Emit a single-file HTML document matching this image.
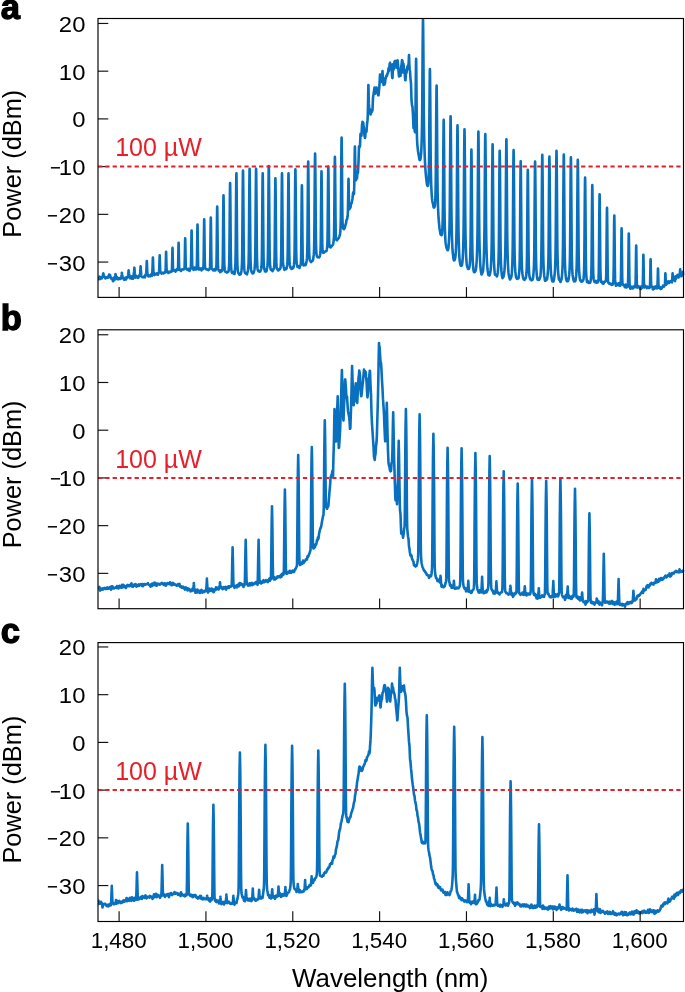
<!DOCTYPE html>
<html><head><meta charset="utf-8"><title>Spectra</title>
<style>
html,body{margin:0;padding:0;background:#fff;}
body{width:685px;height:992px;overflow:hidden;}
svg{display:block;font-family:'Liberation Sans', Arial, sans-serif;fill:#000;}
</style></head><body>
<svg width="685" height="992" viewBox="0 0 685 992"><defs><clipPath id="cp0"><rect x="98.0" y="17.0" width="586.5" height="280.4"/></clipPath><clipPath id="cp1"><rect x="98.0" y="328.3" width="586.5" height="280.4"/></clipPath><clipPath id="cp2"><rect x="98.0" y="641.1" width="586.5" height="280.4"/></clipPath></defs><path d="M98,278.7L98.25,278.9L98.5,279.2L98.75,278.9L99,278.6L99.25,277.6L99.5,276.7L99.75,277.9L100,279.1L100.25,278.8L100.5,278.5L100.75,277.9L101,277.3L101.25,277.9L101.5,278.4L101.6,278.4L101.75,278.2L102,277.9L102.25,277.4L102.3,277.3L102.5,276.9L102.7,276.2L102.75,276.1L102.85,275.7L103,275.1L103.1,274.6L103.15,274.3L103.2,273.9L103.24,273.6L103.25,273.5L103.27,273.4L103.3,273.4L103.33,273.5L103.36,273.7L103.4,274.0L103.45,274.5L103.5,274.9L103.6,275.3L103.75,275.4L103.9,275.4L104,275.4L104.1,275.8L104.25,276.3L104.3,276.4L104.5,277.0L104.6,277.1L104.75,277.1L105,277.1L105.25,277.8L105.5,278.4L105.75,278.2L106,277.9L106.25,277.8L106.5,277.7L106.75,277.4L107,277.2L107.25,277.5L107.4,277.7L107.5,277.8L107.75,277.8L107.8,277.7L108,277.6L108.1,277.4L108.25,277.0L108.3,276.9L108.5,276.2L108.65,276.3L108.75,276.2L108.8,276.1L108.9,275.8L108.95,275.5L109,275.1L109.04,274.8L109.07,274.6L109.1,274.5L109.13,274.6L109.16,274.7L109.2,275.1L109.25,275.5L109.3,276.0L109.4,276.6L109.5,277.0L109.55,276.8L109.7,276.2L109.75,276.0L109.9,275.3L110,274.9L110.1,275.2L110.25,275.7L110.4,276.2L110.5,276.5L110.75,277.5L110.8,277.7L111,278.5L111.25,278.5L111.5,278.4L111.75,278.8L112,279.1L112.25,279.2L112.5,279.2L112.75,280.2L113,281.2L113.25,279.5L113.5,277.9L113.75,278.2L113.8,278.3L114,278.5L114.2,279.2L114.25,279.4L114.5,280.1L114.7,279.0L114.75,278.7L114.9,277.8L115,277.2L115.05,277.0L115.2,276.4L115.25,276.1L115.3,275.7L115.35,275.2L115.4,274.7L115.44,274.3L115.47,274.1L115.5,274.0L115.53,274.0L115.56,274.2L115.6,274.5L115.65,274.9L115.7,275.3L115.75,275.6L115.8,275.8L115.95,276.1L116,276.2L116.1,276.3L116.25,276.5L116.3,276.5L116.5,276.6L116.75,277.9L116.8,278.1L117,279.1L117.2,279.2L117.25,279.2L117.5,279.2L117.75,278.6L118,277.9L118.25,278.2L118.5,278.5L118.75,278.8L119,279.1L119.25,278.7L119.5,278.2L119.75,278.6L120,279.0L120.2,279.0L120.25,279.0L120.5,278.9L120.6,278.8L120.75,278.5L120.9,278.1L121,277.8L121.1,277.4L121.25,276.7L121.3,276.5L121.45,275.7L121.5,275.4L121.6,275.0L121.7,274.4L121.75,273.9L121.8,273.4L121.84,273.0L121.87,272.8L121.9,272.8L121.93,272.9L121.96,273.2L122,273.7L122.05,274.3L122.1,274.9L122.2,275.8L122.25,276.1L122.35,276.6L122.5,277.3L122.7,277.9L122.75,278.0L122.9,278.3L123,278.4L123.2,278.4L123.25,278.3L123.5,278.0L123.6,278.3L123.75,278.8L124,279.6L124.25,279.0L124.5,278.3L124.75,279.0L125,279.6L125.25,278.6L125.5,277.7L125.75,278.6L126,279.5L126.25,279.0L126.5,278.5L126.75,277.9L126.9,277.5L127,277.2L127.25,277.4L127.3,277.5L127.5,277.4L127.6,277.2L127.75,276.7L127.8,276.5L128,275.7L128.15,274.8L128.25,274.2L128.3,273.8L128.4,272.8L128.45,272.2L128.5,271.5L128.54,270.9L128.57,270.5L128.6,270.4L128.63,270.4L128.66,270.7L128.7,271.1L128.75,271.7L128.8,272.3L128.9,273.1L129,273.6L129.05,273.9L129.2,274.6L129.25,274.9L129.4,275.5L129.5,275.8L129.6,276.4L129.75,277.1L129.9,277.7L130,278.1L130.25,277.9L130.3,277.8L130.5,277.6L130.75,277.9L131,278.2L131.25,278.4L131.5,278.6L131.75,277.5L132,276.3L132.25,277.2L132.5,278.0L132.7,278.3L132.75,278.4L133,278.7L133.1,278.3L133.25,277.6L133.4,276.8L133.5,276.1L133.6,275.5L133.75,274.4L133.8,274.0L133.95,272.7L134,272.2L134.1,271.4L134.2,270.2L134.25,269.5L134.3,268.6L134.34,268.0L134.37,267.8L134.4,267.7L134.43,267.9L134.46,268.2L134.5,269.0L134.55,269.9L134.6,270.7L134.7,272.1L134.75,272.6L134.85,273.5L135,274.6L135.2,276.1L135.25,276.4L135.4,277.3L135.5,277.7L135.7,277.6L135.75,277.5L136,277.1L136.1,276.9L136.25,276.6L136.5,276.1L136.75,276.6L137,277.2L137.25,277.0L137.5,276.9L137.75,277.4L138,277.9L138.25,277.6L138.5,277.3L138.75,276.5L138.9,276.0L139,275.7L139.25,275.8L139.3,275.8L139.5,275.8L139.6,275.9L139.75,275.9L139.8,275.8L140,275.0L140.15,273.4L140.25,272.1L140.3,271.5L140.4,269.8L140.45,268.8L140.5,267.7L140.54,267.0L140.57,266.6L140.6,266.4L140.63,266.5L140.66,266.8L140.7,267.4L140.75,268.4L140.8,269.3L140.9,270.7L141,271.8L141.05,272.4L141.2,273.9L141.25,274.4L141.4,275.5L141.5,276.0L141.6,276.4L141.75,276.8L141.9,277.0L142,277.1L142.25,277.1L142.3,277.1L142.5,277.1L142.75,277.3L143,277.4L143.25,277.1L143.5,276.9L143.75,276.7L144,276.5L144.25,276.4L144.5,276.3L144.75,276.8L145,277.3L145.1,276.7L145.25,275.9L145.5,274.6L145.75,275.2L145.8,275.3L146,275.2L146.2,273.4L146.25,272.7L146.35,271.2L146.5,268.2L146.6,265.7L146.65,264.2L146.7,262.8L146.74,261.8L146.75,261.6L146.77,261.3L146.8,261.1L146.83,261.2L146.86,261.6L146.9,262.5L146.95,263.8L147,265.1L147.1,267.6L147.25,270.7L147.4,273.2L147.5,274.5L147.6,275.0L147.75,275.4L147.8,275.4L148,275.3L148.1,275.5L148.25,275.8L148.5,276.4L148.75,276.0L149,275.5L149.25,275.8L149.5,276.0L149.75,276.2L150,276.3L150.25,275.9L150.5,275.6L150.75,275.1L151,274.6L151.2,274.3L151.25,274.3L151.5,274.0L151.6,274.4L151.75,275.0L151.9,275.6L152,275.8L152.1,275.1L152.25,273.5L152.3,272.7L152.45,269.7L152.5,268.4L152.6,265.8L152.7,262.7L152.75,261.1L152.8,259.4L152.84,258.3L152.87,257.8L152.9,257.6L152.93,257.8L152.96,258.3L153,259.3L153.05,260.9L153.1,262.6L153.2,265.7L153.25,267.0L153.35,269.4L153.5,272.2L153.7,273.9L153.75,274.0L153.9,274.3L154,274.3L154.2,274.6L154.25,274.7L154.5,275.0L154.6,274.9L154.75,274.7L155,274.4L155.25,274.3L155.5,274.3L155.75,274.0L156,273.7L156.25,274.0L156.5,274.3L156.75,273.8L157,273.3L157.25,273.8L157.5,274.3L157.75,274.5L158,274.7L158.25,273.7L158.4,273.1L158.5,272.7L158.7,272.4L158.75,272.3L158.9,271.8L159,271.1L159.1,270.5L159.25,268.3L159.4,264.3L159.5,260.9L159.55,259.0L159.6,257.2L159.64,256.0L159.67,255.5L159.7,255.3L159.73,255.5L159.75,255.9L159.76,256.1L159.8,257.4L159.85,259.3L159.9,261.4L160,265.2L160.15,269.3L160.25,271.0L160.3,271.6L160.5,272.3L160.7,272.6L160.75,272.6L161,272.5L161.25,273.1L161.4,273.4L161.5,273.6L161.75,273.1L162,272.7L162.25,272.7L162.5,272.8L162.75,272.8L163,272.8L163.25,273.0L163.5,273.3L163.75,272.9L164,272.6L164.25,272.8L164.4,272.9L164.5,272.9L164.75,272.7L164.8,272.7L165,272.5L165.1,272.4L165.25,272.1L165.3,271.9L165.5,270.6L165.65,267.9L165.75,264.7L165.8,262.8L165.9,258.5L165.95,256.2L166,254.1L166.04,252.7L166.07,252.0L166.1,251.8L166.13,252.0L166.16,252.6L166.2,254.0L166.25,256.1L166.3,258.3L166.4,262.6L166.5,266.2L166.55,267.7L166.7,270.6L166.75,271.1L166.9,271.9L167,272.2L167.1,272.1L167.25,271.9L167.4,271.7L167.5,271.6L167.75,271.6L167.8,271.6L168,271.6L168.25,272.3L168.5,273.0L168.75,272.5L169,272.0L169.25,272.0L169.5,271.9L169.75,272.0L170,272.1L170.25,271.8L170.5,271.5L170.75,271.4L170.8,271.4L171,271.4L171.2,271.5L171.25,271.5L171.5,271.6L171.7,271.2L171.75,271.0L171.9,269.7L172,267.7L172.05,266.2L172.2,260.1L172.25,257.7L172.3,255.1L172.35,252.6L172.4,250.2L172.44,248.8L172.47,248.1L172.5,247.8L172.53,248.1L172.56,248.8L172.6,250.2L172.65,252.6L172.7,255.1L172.75,257.7L172.8,260.1L172.95,266.3L173,267.8L173.1,269.6L173.25,270.5L173.3,270.6L173.5,270.5L173.75,270.4L173.8,270.4L174,270.3L174.2,270.3L174.25,270.3L174.5,270.3L174.75,270.4L175,270.5L175.25,271.1L175.5,271.6L175.75,270.7L176,269.8L176.25,270.1L176.5,270.5L176.75,269.7L176.9,269.3L177,269.0L177.25,269.5L177.3,269.6L177.5,270.0L177.6,270.0L177.75,269.9L177.8,269.8L178,268.1L178.15,263.7L178.25,259.1L178.3,256.4L178.4,250.7L178.45,247.9L178.5,245.3L178.54,243.7L178.57,243.0L178.6,242.7L178.63,243.0L178.66,243.7L178.7,245.3L178.75,247.8L178.8,250.6L178.9,256.1L179,261.0L179.05,263.1L179.2,267.3L179.25,268.1L179.4,269.3L179.5,269.7L179.6,269.8L179.75,270.0L179.9,270.1L180,270.2L180.25,270.2L180.3,270.2L180.5,270.2L180.75,270.6L181,270.9L181.25,270.4L181.5,269.8L181.75,269.6L182,269.3L182.25,269.4L182.5,269.5L182.75,269.5L183,269.5L183.25,269.5L183.5,269.5L183.75,269.4L183.9,269.3L184,269.3L184.2,269.1L184.25,269.1L184.4,268.7L184.5,268.0L184.6,266.2L184.75,261.0L184.9,252.8L185,246.6L185.05,243.7L185.1,241.0L185.14,239.3L185.17,238.6L185.2,238.3L185.23,238.6L185.25,239.1L185.26,239.4L185.3,241.1L185.35,243.9L185.4,247.0L185.5,253.4L185.65,261.4L185.75,265.0L185.8,266.2L186,268.2L186.2,268.5L186.25,268.5L186.5,268.5L186.75,269.1L186.9,269.4L187,269.6L187.25,269.8L187.5,270.0L187.75,269.8L188,269.5L188.25,269.4L188.5,269.3L188.75,269.0L189,268.7L189.25,269.8L189.5,270.9L189.75,270.3L189.9,269.9L190,269.6L190.25,268.9L190.3,268.8L190.5,268.1L190.6,268.0L190.75,267.6L190.8,267.4L191,264.1L191.15,257.4L191.25,250.8L191.3,247.3L191.4,240.1L191.45,236.6L191.5,233.6L191.54,231.7L191.57,230.8L191.6,230.5L191.63,230.8L191.66,231.7L191.7,233.5L191.75,236.5L191.8,239.9L191.9,247.0L192,253.9L192.05,257.1L192.2,264.0L192.25,265.5L192.4,267.8L192.5,268.5L192.6,268.6L192.75,268.7L192.9,268.7L193,268.7L193.25,269.3L193.3,269.4L193.5,269.8L193.75,269.7L194,269.7L194.25,268.6L194.5,267.5L194.75,268.3L195,269.1L195.25,268.6L195.5,268.0L195.75,268.8L195.8,269.0L196,269.5L196.2,269.2L196.25,269.1L196.5,268.4L196.7,267.5L196.75,266.9L196.9,263.0L197,257.8L197.05,254.4L197.2,242.5L197.25,238.5L197.3,234.6L197.35,230.9L197.4,227.7L197.44,225.7L197.47,224.8L197.5,224.5L197.53,224.8L197.56,225.8L197.6,227.7L197.65,231.0L197.7,234.7L197.75,238.6L197.8,242.7L197.95,254.7L198,258.2L198.1,263.6L198.25,267.7L198.3,268.3L198.5,269.5L198.75,269.0L198.8,268.9L199,268.3L199.2,268.7L199.25,268.8L199.5,269.3L199.75,269.0L200,268.7L200.25,269.0L200.5,269.2L200.75,268.8L201,268.5L201.25,269.4L201.5,270.4L201.75,269.5L202,268.7L202.25,268.8L202.5,269.0L202.75,269.1L202.9,269.1L203,269.1L203.2,268.4L203.25,268.1L203.4,266.8L203.5,264.8L203.6,261.1L203.75,251.1L203.9,238.2L204,229.8L204.05,226.0L204.1,222.6L204.14,220.6L204.17,219.6L204.2,219.3L204.23,219.6L204.25,220.2L204.26,220.6L204.3,222.6L204.35,226.0L204.4,229.8L204.5,238.2L204.65,251.1L204.75,258.4L204.8,261.3L205,267.1L205.2,268.2L205.25,268.3L205.5,268.4L205.75,268.8L205.9,269.0L206,269.2L206.25,269.3L206.5,269.4L206.75,269.4L207,269.4L207.25,269.6L207.5,269.7L207.75,269.6L208,269.5L208.25,269.8L208.5,270.1L208.75,269.8L209,269.4L209.1,269.4L209.25,269.4L209.5,269.2L209.75,268.6L209.8,268.5L210,266.9L210.2,260.8L210.25,257.8L210.35,250.1L210.5,236.8L210.6,228.2L210.65,224.3L210.7,220.9L210.74,218.9L210.75,218.5L210.77,217.9L210.8,217.6L210.83,217.9L210.86,218.9L210.9,220.9L210.95,224.3L211,228.2L211.1,236.7L211.25,250.2L211.4,261.1L211.5,265.5L211.6,267.4L211.75,268.5L211.8,268.6L212,268.7L212.1,268.9L212.25,269.1L212.5,269.4L212.75,269.8L213,270.2L213.25,270.3L213.5,270.4L213.75,270.2L214,270.0L214.25,269.5L214.5,269.1L214.75,269.8L215,270.5L215.25,270.4L215.5,270.3L215.75,269.6L215.9,269.1L216,268.6L216.2,268.3L216.25,268.1L216.4,266.2L216.5,263.0L216.6,256.7L216.75,242.5L216.9,227.0L217,217.8L217.05,213.6L217.1,210.1L217.14,207.9L217.17,206.9L217.2,206.6L217.23,206.9L217.25,207.5L217.26,207.9L217.3,210.1L217.35,213.6L217.4,217.8L217.5,227.0L217.65,242.4L217.75,252.3L217.8,256.5L218,266.3L218.2,268.9L218.25,269.2L218.5,270.0L218.75,270.5L218.9,270.8L219,270.9L219.25,270.5L219.5,270.1L219.75,271.2L220,272.3L220.25,271.6L220.5,270.9L220.75,270.7L221,270.4L221.25,271.0L221.5,271.5L221.75,271.0L221.8,270.9L222,270.4L222.2,269.9L222.25,269.8L222.5,268.2L222.7,263.9L222.75,261.7L222.9,250.2L223,239.2L223.05,233.3L223.2,216.5L223.25,211.5L223.3,206.8L223.35,202.5L223.4,198.9L223.44,196.7L223.47,195.7L223.5,195.3L223.53,195.7L223.56,196.7L223.6,198.9L223.65,202.5L223.7,206.8L223.75,211.5L223.8,216.5L223.95,233.4L224,239.3L224.1,250.3L224.25,261.7L224.3,263.9L224.5,268.0L224.75,270.2L224.8,270.5L225,271.4L225.2,271.6L225.25,271.6L225.5,271.5L225.75,271.6L226,271.6L226.25,272.0L226.5,272.3L226.75,272.5L227,272.6L227.25,272.4L227.5,272.2L227.75,271.9L228,271.5L228.25,271.6L228.4,271.6L228.5,271.4L228.75,269.7L228.8,269.3L229,267.0L229.1,265.6L229.25,261.6L229.3,259.2L229.5,241.5L229.65,222.4L229.75,210.2L229.8,204.7L229.9,194.7L229.95,190.3L230,186.6L230.04,184.4L230.07,183.4L230.1,183.0L230.13,183.4L230.16,184.4L230.2,186.6L230.25,190.3L230.3,194.7L230.4,204.6L230.5,216.1L230.55,222.4L230.7,241.6L230.75,247.3L230.9,259.7L231,264.1L231.1,266.6L231.25,268.8L231.4,270.1L231.5,270.7L231.75,272.1L231.8,272.3L232,273.0L232.25,272.8L232.5,272.6L232.75,272.8L233,273.0L233.25,273.3L233.5,273.5L233.75,272.7L234,271.7L234.25,273.0L234.5,274.0L234.7,272.4L234.75,272.0L235,269.5L235.1,268.6L235.25,266.7L235.4,263.6L235.5,260.3L235.6,254.9L235.75,240.3L235.8,233.9L235.95,213.5L236,207.0L236.1,195.3L236.2,185.2L236.25,180.8L236.3,177.0L236.34,174.8L236.37,173.8L236.4,173.4L236.43,173.8L236.46,174.8L236.5,177.0L236.55,180.8L236.6,185.2L236.7,195.3L236.75,200.9L236.85,213.4L237,233.7L237.2,254.9L237.25,258.1L237.4,264.2L237.5,266.6L237.7,269.6L237.75,270.1L238,272.1L238.1,272.5L238.25,272.8L238.5,273.2L238.75,273.6L239,274.0L239.25,274.4L239.5,274.7L239.75,274.3L240,273.9L240.25,274.2L240.5,274.3L240.75,273.8L241,273.2L241.25,272.1L241.3,271.8L241.5,270.4L241.7,268.3L241.75,267.6L242,262.5L242.2,253.1L242.25,248.9L242.4,231.3L242.5,217.5L242.55,210.7L242.7,192.4L242.75,187.1L242.8,182.3L242.85,177.9L242.9,174.1L242.94,171.9L242.97,170.9L243,170.5L243.03,170.9L243.06,171.9L243.1,174.1L243.15,177.9L243.2,182.3L243.25,187.1L243.3,192.4L243.45,210.7L243.5,217.5L243.6,231.4L243.75,249.1L243.8,253.3L244,262.9L244.25,268.0L244.3,268.7L244.5,270.7L244.7,271.8L244.75,272.0L245,272.7L245.25,273.2L245.5,273.5L245.75,273.4L246,273.2L246.25,273.6L246.5,274.0L246.75,274.2L247,274.3L247.25,273.3L247.5,272.3L247.75,271.4L247.9,270.7L248,270.1L248.25,268.0L248.3,267.5L248.5,264.3L248.6,261.7L248.75,255.2L248.8,251.8L249,229.7L249.15,209.0L249.25,196.4L249.3,190.7L249.4,180.6L249.45,176.2L249.5,172.4L249.54,170.2L249.57,169.2L249.6,168.8L249.63,169.2L249.66,170.2L249.7,172.4L249.75,176.2L249.8,180.6L249.9,190.7L250,202.5L250.05,209.0L250.2,229.7L250.25,236.3L250.4,251.8L250.5,257.8L250.6,261.6L250.75,265.3L250.9,267.8L251,269.1L251.25,270.7L251.3,270.9L251.5,271.4L251.75,272.1L252,272.6L252.25,273.0L252.5,273.3L252.75,272.9L253,272.5L253.25,272.9L253.5,273.2L253.75,272.3L254,271.2L254.25,270.5L254.4,269.8L254.5,269.2L254.75,267.3L254.8,266.7L255,263.6L255.1,261.2L255.25,254.9L255.3,251.5L255.5,229.7L255.5,229.7L255.65,209.0L255.75,196.4L255.8,190.7L255.9,180.6L255.95,176.2L256,172.4L256.04,170.2L256.07,169.2L256.1,168.8L256.13,169.2L256.16,170.2L256.2,172.4L256.25,176.2L256.3,180.6L256.4,190.7L256.5,202.5L256.55,209.0L256.7,229.6L256.75,236.1L256.9,251.2L257,257.0L257.1,260.7L257.25,264.4L257.4,267.0L257.5,268.4L257.75,269.9L257.8,270.0L258,270.5L258.25,271.0L258.5,271.2L258.75,271.3L259,271.4L259.25,271.6L259.5,271.7L259.75,271.7L260,271.7L260.25,271.2L260.5,270.7L260.75,270.3L261,269.6L261.25,268.4L261.4,267.3L261.5,266.2L261.7,262.6L261.75,261.2L261.9,254.0L262,245.4L262.1,233.5L262.25,213.4L262.4,195.2L262.5,185.2L262.55,180.8L262.6,177.0L262.64,174.8L262.67,173.8L262.7,173.4L262.73,173.8L262.75,174.4L262.76,174.8L262.8,177.0L262.85,180.8L262.9,185.2L263,195.2L263.15,213.4L263.25,226.9L263.3,233.6L263.5,254.1L263.7,262.7L263.75,263.8L264,267.5L264.25,268.9L264.4,269.3L264.5,269.4L264.75,270.5L265,271.4L265.25,271.4L265.5,271.3L265.75,271.4L266,271.4L266.25,271.5L266.5,271.4L266.75,269.8L267,268.0L267.1,267.8L267.25,267.2L267.5,265.4L267.75,260.6L267.8,259.1L268,249.1L268.2,227.1L268.25,220.2L268.35,206.4L268.5,188.0L268.6,177.9L268.65,173.5L268.7,169.7L268.74,167.5L268.75,167.1L268.77,166.5L268.8,166.1L268.83,166.5L268.86,167.5L268.9,169.7L268.95,173.5L269,177.9L269.1,188.0L269.25,206.3L269.4,227.0L269.5,239.7L269.6,249.2L269.75,257.4L269.8,259.1L270,263.6L270.1,265.1L270.25,266.8L270.5,268.6L270.75,269.4L271,269.9L271.25,270.0L271.5,270.0L271.75,270.2L272,270.3L272.25,270.7L272.5,271.1L272.75,270.7L273,270.3L273.25,269.6L273.5,268.7L273.7,268.8L273.75,268.8L274,268.3L274.1,267.5L274.25,266.0L274.4,263.6L274.5,260.8L274.6,256.3L274.75,243.3L274.8,237.4L274.95,217.8L275,211.5L275.1,199.9L275.2,189.9L275.25,185.5L275.3,181.8L275.34,179.6L275.37,178.6L275.4,178.2L275.43,178.6L275.46,179.6L275.5,181.8L275.55,185.5L275.6,189.9L275.7,199.9L275.75,205.5L275.85,217.8L276,237.4L276.2,256.1L276.25,258.6L276.4,262.9L276.5,264.4L276.7,266.7L276.75,267.1L277,268.8L277.1,269.0L277.25,269.2L277.5,269.3L277.75,269.8L278,270.3L278.25,270.4L278.5,270.5L278.75,270.0L279,269.4L279.25,269.5L279.5,269.5L279.75,269.3L280,268.9L280.25,268.6L280.3,268.4L280.5,267.7L280.7,266.1L280.75,265.6L281,261.5L281.2,253.2L281.25,249.4L281.4,233.1L281.5,219.8L281.55,213.2L281.7,195.2L281.75,190.0L281.8,185.1L281.85,180.8L281.9,177.0L281.94,174.8L281.97,173.8L282,173.4L282.03,173.8L282.06,174.8L282.1,177.0L282.15,180.8L282.2,185.1L282.25,190.0L282.3,195.2L282.45,213.3L282.5,219.9L282.6,233.3L282.75,249.7L282.8,253.5L283,261.9L283.25,265.1L283.3,265.4L283.5,266.0L283.7,267.1L283.75,267.3L284,268.2L284.25,269.0L284.5,269.8L284.75,269.1L285,268.4L285.25,268.4L285.5,268.4L285.75,268.8L286,269.1L286.25,269.0L286.5,268.8L286.75,267.6L286.8,267.4L287,266.1L287.2,265.0L287.25,264.6L287.5,261.0L287.7,253.0L287.75,249.3L287.9,233.1L288,219.8L288.05,213.2L288.2,195.2L288.25,190.0L288.3,185.1L288.35,180.8L288.4,177.0L288.44,174.8L288.47,173.8L288.5,173.4L288.53,173.8L288.56,174.8L288.6,177.0L288.65,180.8L288.7,185.1L288.75,190.0L288.8,195.2L288.95,213.2L289,219.8L289.1,233.1L289.25,249.2L289.3,252.9L289.5,261.0L289.75,264.3L289.8,264.7L290,265.7L290.2,266.7L290.25,266.8L290.5,267.6L290.75,268.0L291,268.2L291.25,268.6L291.5,269.0L291.75,268.9L292,268.7L292.25,268.2L292.5,267.7L292.75,268.0L293,268.2L293.25,267.8L293.5,267.3L293.7,266.4L293.75,266.1L294,264.4L294.1,263.5L294.25,261.6L294.4,258.6L294.5,255.4L294.6,250.1L294.75,235.8L294.8,229.5L294.95,209.3L295,202.9L295.1,191.1L295.2,181.1L295.25,176.7L295.3,172.9L295.34,170.7L295.37,169.7L295.4,169.3L295.43,169.7L295.46,170.7L295.5,172.9L295.55,176.7L295.6,181.1L295.7,191.1L295.75,196.8L295.85,209.3L296,229.5L296.2,250.1L296.25,253.1L296.4,258.6L296.5,260.6L296.7,263.0L296.75,263.4L297,264.7L297.1,265.3L297.25,266.0L297.5,267.0L297.75,266.7L298,266.2L298.25,266.5L298.5,266.8L298.75,266.8L299,266.8L299.25,267.4L299.5,268.0L299.75,266.8L300,265.5L300.2,265.7L300.25,265.7L300.5,265.6L300.6,265.1L300.75,264.2L300.9,262.7L301,260.9L301.1,257.4L301.25,247.0L301.3,241.9L301.45,223.9L301.5,217.8L301.6,206.6L301.7,196.8L301.75,192.5L301.8,188.8L301.84,186.6L301.87,185.6L301.9,185.2L301.93,185.6L301.96,186.6L302,188.8L302.05,192.5L302.1,196.8L302.2,206.6L302.25,212.0L302.35,223.8L302.5,241.5L302.7,256.4L302.75,258.1L302.9,261.0L303,261.8L303.2,263.6L303.25,264.0L303.5,265.4L303.6,265.4L303.75,265.2L304,264.7L304.25,264.9L304.5,265.1L304.75,264.7L305,264.3L305.25,264.7L305.5,265.0L305.75,264.6L306,264.0L306.25,262.9L306.5,261.4L306.75,260.2L306.9,258.9L307,257.6L307.2,253.3L307.25,251.7L307.4,243.8L307.5,234.6L307.6,222.2L307.75,201.7L307.9,183.5L308,173.4L308.05,169.0L308.1,165.2L308.14,163.0L308.17,162.0L308.2,161.6L308.23,162.0L308.25,162.6L308.26,163.0L308.3,165.2L308.35,169.0L308.4,173.4L308.5,183.5L308.65,201.7L308.75,215.3L308.8,222.1L309,243.4L309.2,252.5L309.25,253.7L309.5,257.8L309.75,259.7L309.9,260.3L310,260.6L310.25,261.0L310.5,261.1L310.75,261.7L311,262.1L311.25,261.6L311.5,261.0L311.75,261.1L312,261.2L312.25,261.0L312.5,260.7L312.75,260.5L313,260.1L313.25,258.6L313.4,257.5L313.5,256.7L313.75,254.8L313.8,254.2L314,250.9L314.1,248.0L314.25,241.0L314.3,237.4L314.5,214.7L314.65,193.8L314.75,181.1L314.8,175.4L314.9,165.3L314.95,160.9L315,157.1L315.04,154.9L315.07,153.9L315.1,153.5L315.13,153.9L315.16,154.9L315.2,157.1L315.25,160.9L315.3,165.3L315.4,175.4L315.5,187.3L315.55,193.8L315.7,214.6L315.75,221.3L315.9,237.0L316,243.3L316.1,247.2L316.25,250.7L316.4,253.0L316.5,254.1L316.75,255.6L316.8,255.8L317,256.3L317.25,256.8L317.5,257.0L317.75,257.2L318,257.3L318.25,257.2L318.5,257.0L318.75,257.3L319,257.5L319.25,257.2L319.5,256.9L319.75,256.2L319.8,256.0L320,255.2L320.2,254.0L320.25,253.6L320.5,250.8L320.7,244.9L320.75,242.0L320.9,228.5L321,216.4L321.05,210.1L321.2,192.7L321.25,187.6L321.3,182.8L321.35,178.5L321.4,174.8L321.44,172.6L321.47,171.6L321.5,171.2L321.53,171.6L321.56,172.6L321.6,174.8L321.65,178.5L321.7,182.8L321.75,187.6L321.8,192.7L321.95,210.1L322,216.3L322.1,228.4L322.25,241.8L322.3,244.6L322.5,250.2L322.75,252.1L322.8,252.3L323,252.7L323.2,252.8L323.25,252.7L323.5,252.5L323.75,252.6L324,252.6L324.25,252.3L324.5,252.0L324.75,251.7L325,251.5L325.25,251.4L325.5,251.4L325.75,251.2L326,251.0L326.25,251.1L326.5,251.0L326.6,250.6L326.75,249.8L327,248.1L327.25,246.3L327.3,245.6L327.5,240.2L327.7,223.9L327.75,218.0L327.85,205.6L328,188.1L328.1,178.2L328.15,173.9L328.2,170.2L328.24,168.0L328.25,167.6L328.27,167.0L328.3,166.6L328.33,167.0L328.36,168.0L328.4,170.2L328.45,173.9L328.5,178.2L328.6,188.0L328.75,205.4L328.9,223.6L329,233.3L329.1,239.5L329.25,243.8L329.3,244.5L329.5,246.2L329.6,246.6L329.75,246.9L330,247.0L330.25,247.4L330.5,247.5L330.75,247.3L331,247.0L331.25,246.7L331.5,246.4L331.75,246.1L332,245.8L332.25,245.5L332.5,245.2L332.75,244.9L333,244.4L333.2,243.5L333.25,243.2L333.5,241.7L333.6,241.1L333.75,240.0L333.9,238.1L334,235.8L334.1,231.8L334.25,220.1L334.3,214.6L334.45,195.9L334.5,189.7L334.6,178.3L334.7,168.4L334.75,164.1L334.8,160.4L334.84,158.2L334.87,157.2L334.9,156.8L334.93,157.2L334.96,158.2L335,160.4L335.05,164.1L335.1,168.4L335.2,178.4L335.25,183.9L335.35,195.9L335.5,214.5L335.7,231.0L335.75,233.1L335.9,236.6L336,237.7L336.2,239.1L336.25,239.3L336.5,240.0L336.6,240.1L336.75,240.3L337,240.4L337.25,239.9L337.5,239.4L337.75,239.2L338,238.9L338.25,238.7L338.5,238.4L338.75,238.0L339,237.6L339.25,236.8L339.5,235.8L339.75,235.4L339.9,235.0L340,234.6L340.25,231.9L340.3,231.3L340.5,228.0L340.6,226.0L340.75,220.6L340.8,217.7L341,197.5L341.15,177.5L341.25,165.0L341.3,159.4L341.4,149.4L341.45,145.0L341.5,141.2L341.54,139.0L341.57,138.0L341.6,137.6L341.63,138.0L341.66,139.0L341.7,141.2L341.75,145.0L341.8,149.3L341.9,159.4L342,171.0L342.05,177.3L342.2,197.0L342.25,203.0L342.4,216.1L342.5,220.7L342.6,223.3L342.75,225.5L342.9,226.7L343,227.2L343.25,228.3L343.3,228.4L343.5,228.9L343.75,229.1L344,229.2L344.25,228.7L344.5,228.1L344.75,227.7L345,226.9L345.25,225.8L345.5,224.7L345.75,224.1L346,223.5L346.25,221.7L346.5,220.0L346.75,219.7L346.8,219.7L347,219.4L347.2,218.6L347.25,218.3L347.5,217.1L347.7,215.3L347.75,214.7L347.9,211.3L348,207.1L348.05,204.6L348.2,195.1L348.25,191.6L348.3,188.1L348.35,184.8L348.4,181.9L348.44,180.0L348.47,179.2L348.5,178.9L348.53,179.1L348.56,180.0L348.6,181.7L348.65,184.6L348.7,187.7L348.75,191.0L348.8,194.2L348.95,202.5L349,204.5L349.1,207.4L349.25,209.1L349.3,209.3L349.5,209.1L349.75,208.4L349.8,208.2L350,207.5L350.2,207.3L350.25,207.3L350.5,207.4L350.75,205.7L351,203.7L351.25,203.6L351.5,203.4L351.75,202.3L352,201.2L352.25,199.9L352.5,198.5L352.75,196.0L353,193.3L353.2,192.8L353.25,192.7L353.5,192.1L353.6,192.5L353.75,193.2L353.9,193.8L354,194.0L354.1,191.4L354.25,186.0L354.3,183.6L354.45,174.1L354.5,170.3L354.6,163.2L354.7,156.0L354.75,152.6L354.8,149.6L354.84,147.7L354.87,146.8L354.9,146.5L354.93,146.8L354.96,147.6L355,149.4L355.05,152.3L355.1,155.5L355.2,162.2L355.25,165.5L355.35,171.3L355.5,176.8L355.7,179.4L355.75,179.6L355.9,179.8L356,180.3L356.2,179.4L356.25,179.1L356.5,177.7L356.6,177.9L356.75,178.0L357,178.3L357.25,174.9L357.5,171.5L357.75,173.4L358,172.2L358.25,167.1L358.5,162.1L358.75,154.2L359,146.3L359.25,146.9L359.5,147.5L359.75,146.2L360,146.1L360.25,140.0L360.5,133.9L360.75,133.9L361,134.0L361.25,134.9L361.5,135.8L361.75,130.4L362,125.0L362.25,123.4L362.5,121.8L362.75,122.1L363,122.4L363.25,122.8L363.5,125.2L363.75,126.9L364,128.5L364.25,132.1L364.5,135.7L364.75,136.9L365,138.0L365.25,136.4L365.5,131.5L365.75,132.0L366,132.4L366.25,132.0L366.5,131.6L366.7,128.7L366.75,128.0L367,124.4L367.1,123.3L367.25,122.3L367.4,121.2L367.5,120.4L367.6,119.0L367.75,115.9L367.8,114.4L367.95,108.0L368,105.2L368.1,99.6L368.2,93.5L368.25,90.5L368.3,87.8L368.34,86.1L368.37,85.3L368.4,85.0L368.43,85.3L368.46,86.1L368.5,87.8L368.55,90.3L368.6,93.1L368.7,98.3L368.75,100.5L368.85,103.9L369,105.6L369.2,108.4L369.25,108.8L369.4,110.0L369.5,110.6L369.7,110.2L369.75,110.0L370,109.3L370.1,110.4L370.25,111.9L370.5,114.5L370.75,114.1L371,113.6L371.25,111.8L371.5,109.9L371.75,111.9L372,111.4L372.25,110.7L372.5,110.0L372.75,103.8L373,97.6L373.25,96.0L373.5,94.5L373.75,92.7L374,91.6L374.25,89.6L374.5,87.6L374.75,90.7L375,93.8L375.25,93.6L375.5,93.3L375.75,91.7L376,90.1L376.25,88.4L376.5,87.5L376.75,88.3L377,89.2L377.25,91.0L377.5,92.7L377.75,92.5L378,92.2L378.25,95.3L378.5,95.3L378.75,92.8L379,90.4L379.25,87.5L379.5,84.7L379.75,79.6L380,74.6L380.25,74.6L380.5,75.8L380.75,75.6L381,75.4L381.25,78.7L381.5,82.0L381.75,79.6L382,77.2L382.25,74.1L382.5,71.0L382.75,74.8L383,78.9L383.25,81.9L383.5,85.0L383.75,83.7L384,82.5L384.25,83.5L384.5,84.5L384.75,83.8L385,83.1L385.25,80.6L385.5,78.0L385.75,78.5L386,77.1L386.25,76.3L386.5,75.5L386.75,75.6L387,75.7L387.25,74.7L387.5,73.7L387.75,73.2L388,73.0L388.25,70.7L388.5,68.3L388.75,69.6L389,71.0L389.25,68.3L389.5,65.5L389.75,64.1L390,62.7L390.25,64.5L390.5,67.4L390.75,66.8L391,66.2L391.25,65.5L391.5,64.8L391.75,69.7L392,74.6L392.25,77.8L392.5,78.0L392.75,71.2L393,64.4L393.25,67.1L393.5,69.8L393.75,68.1L394,66.4L394.25,63.8L394.5,61.7L394.75,61.3L395,60.9L395.25,62.2L395.5,63.5L395.75,63.1L396,62.6L396.25,65.2L396.5,67.8L396.75,66.0L397,64.8L397.25,62.5L397.5,60.2L397.75,62.2L398,64.2L398.25,67.6L398.5,70.9L398.75,73.7L399,76.5L399.25,74.9L399.5,73.3L399.75,73.7L400,72.7L400.25,74.3L400.5,75.9L400.75,71.9L401,68.0L401.25,66.7L401.5,65.3L401.75,62.6L402,60.0L402.25,60.5L402.5,61.0L402.75,66.8L403,72.5L403.25,68.2L403.5,63.9L403.75,67.6L404,71.3L404.25,70.5L404.5,69.6L404.75,73.5L405,77.4L405.25,80.1L405.5,80.2L405.75,76.7L406,73.2L406.25,73.0L406.5,72.9L406.75,71.2L407,69.4L407.25,67.5L407.3,67.2L407.5,66.2L407.7,67.2L407.75,67.5L408,68.7L408.2,66.8L408.25,66.2L408.4,65.4L408.5,64.8L408.55,64.3L408.7,61.7L408.75,60.5L408.8,59.2L408.85,57.9L408.9,56.5L408.94,55.7L408.97,55.3L409,55.1L409.03,55.3L409.06,55.8L409.1,56.8L409.15,58.3L409.2,59.8L409.25,61.3L409.3,62.7L409.45,65.9L409.5,66.7L409.6,68.1L409.75,69.4L409.8,69.7L410,71.0L410.25,74.8L410.3,75.6L410.5,78.7L410.7,80.5L410.75,81.0L411,83.3L411.25,91.8L411.5,100.3L411.75,102.5L412,105.2L412.25,105.9L412.5,107.0L412.75,111.1L413,115.1L413.25,121.7L413.5,128.0L413.75,127.5L414,124.9L414.25,127.0L414.4,128.4L414.5,129.4L414.75,131.3L414.8,131.5L415,132.2L415.1,131.4L415.25,128.9L415.3,127.4L415.5,113.9L415.65,97.0L415.75,85.5L415.8,80.1L415.9,70.3L415.95,66.0L416,62.4L416.04,60.2L416.07,59.1L416.1,58.8L416.13,59.2L416.16,60.2L416.2,62.4L416.25,66.1L416.3,70.4L416.4,80.3L416.5,91.6L416.55,97.8L416.7,116.4L416.75,121.9L416.9,133.8L417,138.1L417.1,140.7L417.25,143.3L417.4,145.3L417.5,146.3L417.75,148.8L417.8,149.2L418,150.8L418.25,152.6L418.5,154.3L418.75,155.6L419,156.8L419.25,158.3L419.5,159.7L419.75,160.1L420,160.0L420.25,159.6L420.5,158.7L420.75,157.2L421,154.9L421.25,151.2L421.3,150.3L421.5,145.8L421.7,139.8L421.75,138.0L422,126.4L422.2,110.1L422.25,104.2L422.4,82.7L422.5,67.6L422.55,60.5L422.7,41.6L422.75,36.3L422.8,31.4L422.85,26.9L422.9,23.2L422.94,20.9L422.97,19.9L423,19.5L423.03,19.9L423.06,20.9L423.1,23.2L423.15,26.9L423.2,31.4L423.25,36.3L423.3,41.6L423.45,60.5L423.5,67.6L423.6,82.7L423.75,104.3L423.8,110.4L424,127.1L424.25,139.7L424.3,141.7L424.5,149.0L424.7,155.0L424.75,156.3L425,162.1L425.25,166.8L425.5,170.7L425.75,173.7L426,176.3L426.25,178.7L426.5,180.9L426.75,182.9L427,184.6L427.25,185.1L427.5,185.2L427.75,186.0L428,185.9L428.2,184.6L428.25,184.2L428.5,181.0L428.6,179.4L428.75,175.9L428.9,170.7L429,165.3L429.1,157.2L429.25,138.9L429.3,131.6L429.45,109.8L429.5,103.2L429.6,91.2L429.7,81.0L429.75,76.5L429.8,72.7L429.84,70.5L429.87,69.5L429.9,69.1L429.93,69.5L429.96,70.5L430,72.7L430.05,76.5L430.1,81.0L430.2,91.2L430.25,97.0L430.35,109.9L430.5,131.8L430.7,158.0L430.75,162.8L430.9,172.8L431,177.5L431.2,184.2L431.25,185.6L431.5,191.0L431.6,192.8L431.75,195.2L432,198.4L432.25,200.5L432.5,202.0L432.75,203.0L433,203.7L433.25,205.3L433.5,206.8L433.75,207.3L434,207.6L434.25,207.5L434.5,207.0L434.75,206.5L434.9,205.6L435,204.6L435.25,200.3L435.3,199.2L435.5,193.1L435.6,188.8L435.75,179.1L435.8,174.4L436,148.2L436.15,126.3L436.25,113.4L436.3,107.6L436.4,97.4L436.45,92.9L436.5,89.2L436.54,86.9L436.57,85.9L436.6,85.5L436.63,85.9L436.66,86.9L436.7,89.2L436.75,92.9L436.8,97.4L436.9,107.6L437,119.6L437.05,126.4L437.2,148.4L437.25,155.8L437.4,175.2L437.5,184.2L437.6,190.6L437.75,197.6L437.9,203.0L438,206.0L438.25,212.3L438.3,213.4L438.5,217.2L438.75,220.5L439,223.0L439.25,225.9L439.5,228.4L439.75,229.9L440,231.1L440.25,232.7L440.5,234.1L440.75,234.6L441,234.7L441.25,235.1L441.5,235.2L441.75,235.0L442,234.1L442.25,230.9L442.4,228.2L442.5,225.9L442.7,219.8L442.75,217.6L442.9,207.1L443,196.0L443.1,182.1L443.25,160.5L443.4,141.9L443.5,131.7L443.55,127.2L443.6,123.4L443.64,121.2L443.67,120.2L443.7,119.8L443.73,120.2L443.75,120.8L443.76,121.2L443.8,123.4L443.85,127.2L443.9,131.7L444,141.9L444.15,160.5L444.25,174.9L444.3,182.3L444.5,208.1L444.7,222.0L444.75,224.2L445,232.2L445.25,237.6L445.4,240.0L445.5,241.4L445.75,243.7L446,245.3L446.25,246.6L446.5,247.6L446.75,248.4L447,249.0L447.25,249.7L447.5,250.3L447.75,250.3L448,249.9L448.25,248.9L448.5,247.3L448.75,244.3L448.9,242.0L449,240.1L449.25,234.7L449.3,233.3L449.5,226.2L449.6,221.4L449.75,210.9L449.8,206.0L450,179.2L450.15,157.1L450.25,144.1L450.3,138.3L450.4,128.1L450.45,123.6L450.5,119.9L450.54,117.6L450.57,116.6L450.6,116.2L450.63,116.6L450.66,117.6L450.7,119.9L450.75,123.6L450.8,128.1L450.9,138.3L451,150.4L451.05,157.1L451.2,179.2L451.25,186.7L451.4,206.2L451.5,215.4L451.6,222.0L451.75,229.2L451.9,234.7L452,237.7L452.25,244.5L452.3,245.6L452.5,249.7L452.75,252.6L453,254.5L453.25,256.9L453.5,258.9L453.75,259.8L454,260.4L454.25,260.5L454.5,260.2L454.75,259.7L455,258.9L455.25,257.8L455.5,255.9L455.75,252.6L455.8,251.8L456,247.8L456.2,242.7L456.25,241.1L456.5,230.7L456.7,215.2L456.75,209.4L456.9,188.3L457,173.3L457.05,166.2L457.2,147.4L457.25,142.1L457.3,137.2L457.35,132.7L457.4,129.0L457.44,126.7L457.47,125.7L457.5,125.3L457.53,125.7L457.56,126.7L457.6,129.0L457.65,132.7L457.7,137.2L457.75,142.1L457.8,147.4L457.95,166.2L458,173.3L458.1,188.3L458.25,209.5L458.3,215.4L458.5,231.2L458.75,242.1L458.8,243.7L459,249.3L459.2,253.8L459.25,254.8L459.5,258.8L459.75,261.2L460,262.7L460.25,264.1L460.5,265.0L460.75,265.6L461,265.9L461.25,265.9L461.5,265.5L461.75,265.4L462,264.9L462.25,263.4L462.5,261.0L462.75,257.7L462.8,256.9L463,252.8L463.2,247.1L463.25,245.5L463.5,234.6L463.7,219.1L463.75,213.3L463.9,192.2L464,177.2L464.05,170.1L464.2,151.3L464.25,146.0L464.3,141.1L464.35,136.6L464.4,132.9L464.44,130.6L464.47,129.6L464.5,129.2L464.53,129.6L464.56,130.6L464.6,132.9L464.65,136.6L464.7,141.1L464.75,146.0L464.8,151.3L464.95,170.1L465,177.2L465.1,192.2L465.25,213.3L465.3,219.1L465.5,234.8L465.75,245.6L465.8,247.3L466,252.9L466.2,257.0L466.25,257.8L466.5,261.1L466.75,263.9L467,266.1L467.25,266.8L467.5,267.1L467.75,268.1L468,268.9L468.25,269.0L468.5,269.0L468.75,268.9L469,268.6L469.25,267.7L469.5,266.4L469.7,265.2L469.75,264.8L470,261.8L470.1,259.8L470.25,255.9L470.4,250.5L470.5,245.1L470.6,237.2L470.75,219.1L470.8,211.9L470.95,190.2L471,183.5L471.1,171.6L471.2,161.4L471.25,156.9L471.3,153.1L471.34,150.9L471.37,149.9L471.4,149.5L471.43,149.9L471.46,150.9L471.5,153.1L471.55,156.9L471.6,161.4L471.7,171.6L471.75,177.3L471.85,190.2L472,211.9L472.2,237.2L472.25,241.6L472.4,250.6L472.5,254.5L472.7,259.9L472.75,261.0L473,264.9L473.1,266.2L473.25,267.8L473.5,269.9L473.75,271.2L474,272.1L474.25,272.3L474.5,272.3L474.75,272.1L475,271.7L475.25,271.4L475.5,270.9L475.75,270.1L476,268.9L476.25,266.5L476.5,263.3L476.7,260.3L476.75,259.4L477,253.5L477.1,250.4L477.25,244.9L477.4,237.6L477.5,231.0L477.6,221.8L477.75,202.1L477.8,194.6L477.95,172.5L478,165.8L478.1,153.7L478.2,143.5L478.25,139.0L478.3,135.3L478.34,133.0L478.37,132.0L478.4,131.6L478.43,132.0L478.46,133.0L478.5,135.3L478.55,139.0L478.6,143.5L478.7,153.7L478.75,159.5L478.85,172.5L479,194.7L479.2,221.8L479.25,226.8L479.4,237.7L479.5,242.8L479.7,250.6L479.75,252.3L480,259.0L480.1,261.2L480.25,264.0L480.5,267.8L480.75,270.2L481,271.8L481.25,273.4L481.5,274.5L481.75,274.3L482,273.8L482.25,273.2L482.5,272.4L482.75,272.0L483,271.0L483.25,268.5L483.5,265.0L483.6,263.2L483.75,259.8L484,252.7L484.25,242.6L484.3,239.9L484.5,224.1L484.7,197.1L484.75,189.6L484.85,175.0L485,156.2L485.1,146.0L485.15,141.5L485.2,137.8L485.24,135.5L485.25,135.1L485.27,134.5L485.3,134.1L485.33,134.5L485.36,135.5L485.4,137.8L485.45,141.5L485.5,146.0L485.6,156.2L485.75,175.0L485.9,197.1L486,211.8L486.1,224.2L486.25,236.9L486.3,239.9L486.5,248.9L486.6,252.4L486.75,257.0L487,262.8L487.25,266.4L487.5,268.7L487.75,271.0L488,272.8L488.25,274.2L488.5,275.3L488.75,275.3L489,274.9L489.25,275.2L489.5,275.4L489.75,274.6L490,273.6L490.25,272.6L490.5,271.1L490.75,268.8L490.9,266.8L491,265.3L491.25,260.6L491.3,259.4L491.5,252.9L491.6,248.4L491.75,238.3L491.8,233.5L492,207.2L492.15,185.2L492.25,172.3L492.3,166.5L492.4,156.3L492.45,151.8L492.5,148.1L492.54,145.8L492.57,144.8L492.6,144.4L492.63,144.8L492.66,145.8L492.7,148.1L492.75,151.8L492.8,156.3L492.9,166.5L493,178.5L493.05,185.2L493.2,207.2L493.25,214.5L493.4,233.5L493.5,242.2L493.6,248.2L493.75,254.7L493.9,259.4L494,262.0L494.25,267.1L494.3,267.9L494.5,270.6L494.75,273.0L495,274.6L495.25,274.9L495.5,274.9L495.75,275.2L496,275.3L496.25,275.2L496.5,275.0L496.75,275.8L497,276.4L497.25,275.4L497.5,274.1L497.75,272.4L498,270.0L498.25,266.4L498.4,263.3L498.5,260.6L498.7,253.0L498.75,250.4L498.9,238.9L499,227.3L499.1,213.2L499.25,191.5L499.4,172.8L499.5,162.6L499.55,158.1L499.6,154.4L499.64,152.1L499.67,151.1L499.7,150.7L499.73,151.1L499.75,151.7L499.76,152.1L499.8,154.4L499.85,158.1L499.9,162.6L500,172.8L500.15,191.5L500.25,205.9L500.3,213.3L500.5,239.3L500.7,253.4L500.75,255.7L501,263.8L501.25,268.7L501.4,270.7L501.5,271.7L501.75,274.2L502,276.0L502.25,277.3L502.5,278.2L502.75,277.6L503,276.8L503.25,276.9L503.5,276.7L503.75,275.7L504,274.3L504.25,272.6L504.5,270.0L504.7,266.9L504.75,266.0L505,260.1L505.1,257.1L505.25,251.8L505.4,244.7L505.5,238.2L505.6,229.1L505.75,209.6L505.8,202.2L505.95,180.1L506,173.4L506.1,161.3L506.2,151.1L506.25,146.6L506.3,142.9L506.34,140.6L506.37,139.6L506.4,139.2L506.43,139.6L506.46,140.6L506.5,142.9L506.55,146.6L506.6,151.1L506.7,161.3L506.75,167.1L506.85,180.1L507,202.2L507.2,229.1L507.25,234.1L507.4,244.7L507.5,249.7L507.7,257.2L507.75,258.8L508,265.1L508.1,267.1L508.25,269.6L508.5,272.9L508.75,274.8L509,276.0L509.25,277.1L509.5,277.9L509.75,278.8L510,279.5L510.25,279.2L510.5,278.7L510.75,278.3L511,277.8L511.25,277.1L511.5,276.0L511.75,273.7L511.9,271.9L512,270.4L512.25,265.4L512.3,264.1L512.5,257.7L512.6,253.4L512.75,243.6L512.8,238.9L513,212.8L513.15,190.9L513.25,178.0L513.3,172.2L513.4,162.0L513.45,157.5L513.5,153.8L513.54,151.5L513.57,150.5L513.6,150.1L513.63,150.5L513.66,151.5L513.7,153.8L513.75,157.5L513.8,162.0L513.9,172.2L514,184.2L514.05,190.9L514.2,212.8L514.25,220.2L514.4,239.0L514.5,247.6L514.6,253.5L514.75,259.7L514.9,264.2L515,266.5L515.25,270.6L515.3,271.2L515.5,273.0L515.75,275.3L516,277.1L516.25,277.6L516.5,277.8L516.75,278.3L517,278.7L517.25,278.9L517.5,279.0L517.75,278.5L518,277.8L518.25,278.1L518.5,278.2L518.75,276.6L519,274.4L519.25,271.8L519.4,269.3L519.5,267.2L519.7,260.8L519.75,258.5L519.9,248.1L520,237.1L520.1,223.4L520.25,201.8L520.4,183.2L520.5,173.0L520.55,168.6L520.6,164.8L520.64,162.6L520.67,161.6L520.7,161.2L520.73,161.6L520.75,162.2L520.76,162.6L520.8,164.8L520.85,168.6L520.9,173.0L521,183.2L521.15,201.8L521.25,216.0L521.3,223.3L521.5,247.8L521.7,260.3L521.75,262.3L522,269.0L522.25,272.3L522.4,273.4L522.5,274.0L522.75,275.8L523,277.3L523.25,278.2L523.5,279.0L523.75,279.3L524,279.6L524.25,279.8L524.5,279.9L524.75,279.3L525,278.6L525.25,278.6L525.5,278.5L525.75,277.8L526,276.7L526.1,276.3L526.25,275.3L526.5,272.7L526.75,267.5L526.8,265.9L527,254.9L527.2,231.4L527.25,224.3L527.35,210.3L527.5,191.9L527.6,181.7L527.65,177.3L527.7,173.5L527.74,171.3L527.75,170.9L527.77,170.3L527.8,169.9L527.83,170.3L527.86,171.3L527.9,173.5L527.95,177.3L528,181.7L528.1,191.9L528.25,210.3L528.4,231.4L528.5,244.5L528.6,254.5L528.75,263.5L528.8,265.4L529,270.4L529.1,272.1L529.25,274.2L529.5,276.6L529.75,277.9L530,278.7L530.25,279.2L530.5,279.4L530.75,279.2L531,279.0L531.25,279.7L531.5,280.4L531.75,279.9L532,279.3L532.25,279.6L532.5,279.7L532.75,279.0L533,278.1L533.25,276.0L533.4,274.4L533.5,273.2L533.75,269.9L533.8,269.0L534,264.2L534.1,260.7L534.25,252.4L534.3,248.3L534.5,223.7L534.65,202.2L534.75,189.4L534.8,183.6L534.9,173.4L534.95,169.0L535,165.2L535.04,163.0L535.07,162.0L535.1,161.6L535.13,162.0L535.16,163.0L535.2,165.2L535.25,169.0L535.3,173.4L535.4,183.6L535.5,195.6L535.55,202.2L535.7,223.7L535.75,230.8L535.9,248.5L536,256.1L536.1,261.1L536.25,266.0L536.4,269.4L536.5,271.0L536.75,274.5L536.8,275.0L537,276.8L537.25,278.4L537.5,279.6L537.75,279.2L538,278.7L538.25,279.3L538.5,279.7L538.75,279.9L539,279.9L539.25,279.6L539.5,279.1L539.75,278.5L540,277.7L540.25,277.0L540.5,275.5L540.6,274.3L540.75,272.2L541,267.2L541.25,259.3L541.3,257.1L541.5,243.2L541.7,217.4L541.75,210.0L541.85,195.6L542,177.0L542.1,166.8L542.15,162.3L542.2,158.6L542.24,156.3L542.25,155.9L542.27,155.3L542.3,154.9L542.33,155.3L542.36,156.3L542.4,158.6L542.45,162.3L542.5,166.8L542.6,177.0L542.75,195.7L542.9,217.5L543,231.6L543.1,243.1L543.25,254.4L543.3,256.9L543.5,264.1L543.6,266.7L543.75,269.9L544,273.6L544.25,275.9L544.5,277.4L544.75,279.3L545,280.8L545.25,280.7L545.5,280.4L545.75,280.5L546,280.5L546.25,279.6L546.5,278.7L546.75,279.2L547,279.5L547.25,277.9L547.5,275.9L547.7,274.0L547.75,273.5L548,269.7L548.1,267.7L548.25,263.9L548.4,258.3L548.5,252.8L548.6,244.6L548.75,226.2L548.8,219.0L548.95,197.2L549,190.6L549.1,178.6L549.2,168.4L549.25,163.9L549.3,160.2L549.34,157.9L549.37,156.9L549.4,156.5L549.43,156.9L549.46,157.9L549.5,160.2L549.55,163.9L549.6,168.4L549.7,178.6L549.75,184.3L549.85,197.3L550,219.0L550.2,244.6L550.25,249.0L550.4,258.0L550.5,261.9L550.7,267.7L550.75,268.9L551,273.5L551.1,274.6L551.25,275.8L551.5,277.1L551.75,278.7L552,280.0L552.25,280.8L552.5,281.4L552.75,280.7L553,280.0L553.25,280.8L553.5,281.5L553.75,280.3L554,278.9L554.25,277.5L554.5,275.6L554.75,273.3L554.8,272.7L555,269.7L555.2,265.3L555.25,263.9L555.5,254.5L555.7,239.8L555.75,234.3L555.9,213.6L556,198.8L556.05,191.7L556.2,173.0L556.25,167.7L556.3,162.8L556.35,158.3L556.4,154.6L556.44,152.3L556.47,151.3L556.5,150.9L556.53,151.3L556.56,152.3L556.6,154.6L556.65,158.3L556.7,162.8L556.75,167.7L556.8,173.0L556.95,191.7L557,198.8L557.1,213.6L557.25,234.3L557.3,239.8L557.5,254.6L557.75,264.0L557.8,265.4L558,269.8L558.2,272.9L558.25,273.5L558.5,275.9L558.75,278.1L559,279.7L559.25,279.7L559.5,279.5L559.75,280.1L560,280.6L560.25,281.4L560.5,282.0L560.75,281.2L561,280.1L561.25,280.0L561.5,279.5L561.75,277.8L562,275.4L562.1,274.2L562.25,272.0L562.5,266.9L562.75,259.0L562.8,256.8L563,242.9L563.2,217.1L563.25,209.7L563.35,195.3L563.5,176.6L563.6,166.4L563.65,161.9L563.7,158.2L563.74,155.9L563.75,155.5L563.77,154.9L563.8,154.5L563.83,154.9L563.86,155.9L563.9,158.2L563.95,161.9L564,166.4L564.1,176.6L564.25,195.3L564.4,217.1L564.5,231.2L564.6,242.8L564.75,254.2L564.8,256.8L565,264.2L565.1,266.8L565.25,269.9L565.5,273.4L565.75,276.2L566,278.3L566.25,279.4L566.5,280.3L566.75,280.8L567,281.2L567.25,280.5L567.5,279.6L567.75,280.4L568,281.1L568.25,280.4L568.5,279.5L568.75,278.1L569,276.1L569.2,274.7L569.25,274.2L569.5,270.8L569.6,268.7L569.75,264.8L569.9,259.1L570,253.6L570.1,245.5L570.25,227.1L570.3,219.9L570.45,198.1L570.5,191.5L570.6,179.5L570.7,169.3L570.75,164.8L570.8,161.1L570.84,158.8L570.87,157.8L570.9,157.4L570.93,157.8L570.96,158.8L571,161.1L571.05,164.8L571.1,169.3L571.2,179.5L571.25,185.2L571.35,198.1L571.5,219.9L571.7,245.5L571.75,250.0L571.9,259.2L572,263.3L572.2,268.9L572.25,270.0L572.5,274.0L572.6,275.0L572.75,276.1L573,277.2L573.25,278.7L573.5,279.9L573.75,280.7L574,281.4L574.25,281.3L574.5,281.0L574.75,281.3L575,281.4L575.25,281.0L575.5,280.3L575.75,278.9L576,277.0L576.1,276.2L576.25,274.7L576.5,270.7L576.75,262.9L576.8,260.8L577,247.4L577.2,222.2L577.25,214.9L577.35,200.6L577.5,182.0L577.6,171.8L577.65,167.3L577.7,163.6L577.74,161.3L577.75,160.9L577.77,160.3L577.8,159.9L577.83,160.3L577.86,161.3L577.9,163.5L577.95,167.3L578,171.8L578.1,182.0L578.25,200.6L578.4,222.2L578.5,236.1L578.6,247.4L578.75,258.3L578.8,260.7L579,267.7L579.1,270.1L579.25,272.7L579.5,275.7L579.75,278.1L580,279.9L580.25,280.2L580.5,280.0L580.75,280.8L581,281.5L581.25,281.4L581.5,281.2L581.75,281.4L582,281.6L582.25,281.5L582.5,281.3L582.75,280.8L583,280.1L583.25,280.0L583.4,279.7L583.5,279.4L583.75,276.7L583.8,276.0L584,272.4L584.1,270.0L584.25,263.7L584.3,260.4L584.5,238.5L584.65,217.8L584.75,205.2L584.8,199.5L584.9,189.4L584.95,185.0L585,181.2L585.04,179.0L585.07,178.0L585.1,177.6L585.13,178.0L585.16,179.0L585.2,181.2L585.25,185.0L585.3,189.4L585.4,199.5L585.5,211.3L585.55,217.9L585.7,238.6L585.75,245.3L585.9,260.9L586,267.0L586.1,270.8L586.25,274.3L586.4,276.6L586.5,277.7L586.75,280.2L586.8,280.6L587,282.1L587.25,281.6L587.5,280.7L587.75,281.2L588,281.5L588.25,281.6L588.5,281.6L588.75,282.3L589,283.0L589.25,282.8L589.5,282.5L589.75,282.6L590,282.7L590.25,282.3L590.5,281.6L590.6,281.1L590.75,280.2L591,278.0L591.25,274.4L591.3,273.3L591.5,265.0L591.7,244.9L591.75,238.3L591.85,224.9L592,206.8L592.1,196.7L592.15,192.4L592.2,188.6L592.24,186.4L592.25,186.0L592.27,185.4L592.3,185.0L592.33,185.4L592.36,186.4L592.4,188.6L592.45,192.4L592.5,196.8L592.6,206.8L592.75,225.0L592.9,245.2L593,257.0L593.1,265.6L593.25,272.6L593.3,274.0L593.5,277.5L593.6,278.5L593.75,279.5L594,280.5L594.25,281.3L594.5,281.8L594.75,282.0L595,282.2L595.25,282.3L595.5,282.4L595.75,281.7L596,280.9L596.25,281.8L596.5,282.7L596.75,282.5L597,282.3L597.25,282.5L597.5,282.5L597.75,282.1L597.9,281.8L598,281.5L598.25,280.6L598.3,280.3L598.5,278.7L598.6,277.1L598.75,272.8L598.8,270.4L599,252.5L599.15,233.6L599.25,221.4L599.3,215.8L599.4,205.9L599.45,201.5L599.5,197.8L599.54,195.6L599.57,194.6L599.6,194.2L599.63,194.6L599.66,195.6L599.7,197.8L599.75,201.5L599.8,205.9L599.9,215.8L600,227.2L600.05,233.4L600.2,252.2L600.25,257.8L600.4,269.7L600.5,273.8L600.6,276.4L600.75,279.0L600.9,280.8L601,281.8L601.25,281.8L601.3,281.7L601.5,281.2L601.75,281.9L602,282.5L602.25,283.0L602.5,283.5L602.75,282.9L603,282.4L603.25,283.0L603.5,283.7L603.75,282.8L604,282.0L604.25,281.8L604.5,281.5L604.75,281.7L605,281.8L605.25,281.5L605.3,281.4L605.5,281.0L605.7,280.9L605.75,280.9L606,279.8L606.2,275.7L606.25,273.5L606.4,262.4L606.5,251.5L606.55,245.7L606.7,228.9L606.75,223.9L606.8,219.3L606.85,215.0L606.9,211.4L606.94,209.2L606.97,208.2L607,207.8L607.03,208.1L607.06,209.2L607.1,211.4L607.15,215.0L607.2,219.3L607.25,223.9L607.3,228.9L607.45,245.6L607.5,251.4L607.6,262.4L607.75,274.1L607.8,276.5L608,281.8L608.25,282.7L608.3,282.7L608.5,282.5L608.7,282.9L608.75,283.0L609,283.3L609.25,283.7L609.5,284.0L609.75,283.9L610,283.6L610.25,283.6L610.5,283.5L610.75,283.8L611,284.2L611.25,284.5L611.5,284.9L611.75,284.8L612,284.7L612.25,284.8L612.5,284.8L612.6,284.5L612.75,283.9L613,282.9L613.25,281.8L613.3,281.4L613.5,278.3L613.7,267.8L613.75,263.2L613.85,252.6L614,236.4L614.1,226.9L614.15,222.7L614.2,219.0L614.24,216.9L614.25,216.5L614.27,215.9L614.3,215.5L614.33,215.8L614.36,216.8L614.4,219.0L614.45,222.6L614.5,226.8L614.6,236.3L614.75,252.4L614.9,267.9L615,275.2L615.1,279.4L615.25,282.2L615.3,282.8L615.5,284.0L615.6,284.5L615.75,285.0L616,285.7L616.25,284.8L616.5,283.8L616.75,284.3L617,284.7L617.25,284.8L617.5,284.9L617.75,285.0L618,285.2L618.25,284.3L618.5,283.4L618.75,284.4L619,285.5L619.25,284.3L619.5,283.0L619.75,284.4L619.9,285.2L620,285.7L620.25,285.6L620.3,285.6L620.5,285.2L620.6,284.9L620.75,283.7L620.8,283.0L621,275.2L621.15,262.7L621.25,253.0L621.3,248.2L621.4,239.3L621.45,235.3L621.5,231.8L621.54,229.7L621.57,228.7L621.6,228.4L621.63,228.7L621.66,229.7L621.7,231.8L621.75,235.3L621.8,239.4L621.9,248.4L622,258.1L622.05,262.9L622.2,275.1L622.25,277.9L622.4,282.3L622.5,283.3L622.6,283.9L622.75,284.3L622.9,284.5L623,284.6L623.25,285.0L623.3,285.0L623.5,285.2L623.75,285.4L624,285.5L624.25,286.0L624.5,286.5L624.75,286.9L625,287.2L625.25,285.9L625.5,284.6L625.75,285.4L626,286.1L626.25,286.8L626.5,287.5L626.75,287.1L627,286.8L627.1,286.8L627.25,286.8L627.5,286.8L627.75,285.4L627.8,285.0L628,282.9L628.2,277.3L628.25,274.3L628.35,266.6L628.5,253.1L628.6,244.3L628.65,240.3L628.7,236.9L628.74,234.8L628.75,234.4L628.77,233.8L628.8,233.5L628.83,233.8L628.86,234.8L628.9,236.8L628.95,240.2L629,244.1L629.1,252.7L629.25,266.3L629.4,277.6L629.5,282.2L629.6,284.6L629.75,286.4L629.8,286.7L630,287.7L630.1,288.0L630.25,288.3L630.5,288.7L630.75,288.2L631,287.7L631.25,287.9L631.5,288.1L631.75,287.4L632,286.7L632.25,286.8L632.5,286.8L632.75,287.6L633,288.4L633.25,287.9L633.5,287.3L633.75,287.2L634,287.1L634.25,286.5L634.5,285.8L634.75,286.5L634.9,286.9L635,287.1L635.2,287.0L635.25,286.9L635.4,286.3L635.5,285.0L635.6,282.1L635.75,274.1L635.9,263.0L636,255.4L636.05,251.8L636.1,248.7L636.14,246.8L636.17,245.9L636.2,245.6L636.23,245.9L636.25,246.4L636.26,246.8L636.3,248.7L636.35,251.9L636.4,255.4L636.5,263.0L636.65,274.2L636.75,280.2L636.8,282.4L637,287.2L637.2,287.6L637.25,287.6L637.5,287.2L637.75,287.1L637.9,287.0L638,286.9L638.25,286.5L638.5,286.2L638.75,286.4L639,286.7L639.25,286.9L639.5,287.1L639.75,287.9L640,288.7L640.25,287.7L640.5,286.7L640.75,287.9L641,289.1L641.25,287.7L641.5,286.3L641.7,286.5L641.75,286.6L642,286.8L642.1,287.0L642.25,287.3L642.4,287.5L642.5,287.6L642.6,287.0L642.75,285.2L642.8,284.1L642.95,278.5L643,275.9L643.1,269.9L643.2,263.5L643.25,260.4L643.3,257.5L643.34,255.8L643.37,255.0L643.4,254.7L643.43,255.0L643.46,255.8L643.5,257.5L643.55,260.3L643.6,263.4L643.7,269.8L643.75,272.9L643.85,278.4L644,283.8L644.2,286.5L644.25,286.8L644.4,287.2L644.5,287.5L644.7,286.7L644.75,286.5L645,285.5L645.1,285.8L645.25,286.3L645.5,287.0L645.75,287.1L646,287.2L646.25,287.0L646.5,286.9L646.75,287.5L647,288.1L647.25,287.4L647.5,286.7L647.75,286.8L648,286.9L648.25,287.1L648.5,287.3L648.75,287.7L648.9,287.9L649,288.0L649.25,287.5L649.3,287.4L649.5,286.9L649.6,287.2L649.75,287.4L649.8,287.5L650,286.1L650.15,281.0L650.25,276.0L650.3,273.2L650.4,267.3L650.45,264.3L650.5,261.7L650.54,260.1L650.57,259.4L650.6,259.2L650.63,259.5L650.66,260.3L650.7,262.0L650.75,264.6L650.8,267.6L650.9,273.6L651,279.1L651.05,281.2L651.2,285.1L651.25,285.7L651.4,286.2L651.5,286.0L651.6,286.3L651.75,286.6L651.9,286.9L652,287.1L652.25,287.4L652.3,287.4L652.5,287.7L652.75,288.6L653,289.5L653.25,288.9L653.5,288.3L653.75,287.6L654,286.9L654.25,287.8L654.5,288.7L654.75,287.9L655,287.1L655.25,286.8L655.5,286.5L655.75,287.2L656,287.9L656.25,287.7L656.3,287.7L656.5,287.6L656.7,287.9L656.75,288.0L657,288.4L657.2,287.6L657.25,287.3L657.4,285.9L657.5,284.2L657.55,283.2L657.7,278.7L657.75,276.8L657.8,274.7L657.85,272.6L657.9,270.6L657.94,269.3L657.97,268.7L658,268.5L658.03,268.7L658.06,269.4L658.1,270.7L658.15,272.8L658.2,275.0L658.25,277.2L658.3,279.3L658.45,284.3L658.5,285.4L658.6,286.9L658.75,287.7L658.8,287.8L659,287.9L659.25,287.9L659.3,287.9L659.5,287.8L659.7,287.5L659.75,287.5L660,287.1L660.25,288.0L660.5,288.9L660.75,288.6L661,288.2L661.25,288.4L661.5,288.6L661.75,288.1L662,287.4L662.25,287.4L662.5,287.3L662.75,286.5L663,285.7L663.25,286.1L663.5,286.5L663.7,286.6L663.75,286.6L664,286.7L664.1,286.5L664.25,286.1L664.4,285.7L664.5,285.4L664.6,285.4L664.75,285.2L664.8,285.0L664.95,283.7L665,283.0L665.1,280.7L665.2,277.9L665.25,276.4L665.3,274.9L665.34,274.0L665.37,273.5L665.4,273.3L665.43,273.4L665.46,273.8L665.5,274.7L665.55,276.1L665.6,277.6L665.7,280.3L665.75,281.4L665.85,283.2L666,284.7L666.2,284.4L666.25,284.2L666.4,283.6L666.5,283.2L666.7,282.5L666.75,282.3L667,281.4L667.1,281.8L667.25,282.4L667.5,283.4L667.75,283.0L668,282.5L668.25,281.9L668.5,281.4L668.75,282.2L669,283.0L669.25,282.6L669.5,282.3L669.75,282.2L670,282.2L670.25,281.7L670.5,281.1L670.75,281.3L670.9,281.4L671,281.4L671.25,281.3L671.3,281.3L671.5,281.2L671.6,281.5L671.75,281.9L671.8,282.0L672,282.3L672.15,280.6L672.25,279.1L672.3,278.3L672.4,276.3L672.45,275.2L672.5,274.1L672.54,273.6L672.57,273.4L672.6,273.3L672.63,273.4L672.66,273.7L672.7,274.3L672.75,275.1L672.8,276.0L672.9,277.5L673,278.6L673.05,279.0L673.2,279.7L673.25,279.8L673.4,280.0L673.5,280.0L673.6,279.5L673.75,278.7L673.9,277.9L674,277.4L674.25,277.3L674.3,277.3L674.5,277.2L674.75,279.2L675,281.2L675.25,278.8L675.5,276.4L675.75,277.6L676,278.8L676.25,277.8L676.5,276.8L676.75,276.7L677,276.6L677.25,275.7L677.5,274.9L677.75,275.3L678,275.8L678.25,276.6L678.5,277.5L678.75,276.0L678.9,275.2L679,274.6L679.2,275.4L679.25,275.6L679.4,276.1L679.5,276.4L679.6,276.1L679.75,275.1L679.9,273.3L680,271.6L680.05,270.8L680.1,270.0L680.14,269.5L680.17,269.2L680.2,269.2L680.23,269.4L680.25,269.6L680.26,269.8L680.3,270.5L680.35,271.6L680.4,272.7L680.5,274.7L680.65,275.5L680.75,275.5L680.8,275.3L681,274.3L681.2,275.1L681.25,275.3L681.5,276.2L681.75,275.8L681.9,275.6L682,275.4L682.25,274.6L682.5,273.7L682.75,272.7L683,271.8L683.25,273.5L683.5,275.2" fill="none" stroke="#0870be" stroke-width="2.6" stroke-linejoin="round" clip-path="url(#cp0)"/><line x1="98.0" y1="23.46" x2="108.3" y2="23.46" stroke="#111" stroke-width="1.15"/><text transform="translate(85.4 31.9) scale(1.12 1)" text-anchor="end" font-size="21.3">20</text><line x1="98.0" y1="71.18" x2="108.3" y2="71.18" stroke="#111" stroke-width="1.15"/><text transform="translate(85.4 79.6) scale(1.12 1)" text-anchor="end" font-size="21.3">10</text><line x1="98.0" y1="118.90" x2="108.3" y2="118.90" stroke="#111" stroke-width="1.15"/><text transform="translate(85.4 127.3) scale(1.12 1)" text-anchor="end" font-size="21.3">0</text><line x1="98.0" y1="166.62" x2="108.3" y2="166.62" stroke="#111" stroke-width="1.15"/><text transform="translate(85.4 175.0) scale(1.12 1)" text-anchor="end" font-size="21.3">10</text><text transform="translate(50.0 175.0) scale(0.88 1)" font-size="21.3">−</text><line x1="98.0" y1="214.34" x2="108.3" y2="214.34" stroke="#111" stroke-width="1.15"/><text transform="translate(85.4 222.7) scale(1.12 1)" text-anchor="end" font-size="21.3">20</text><text transform="translate(47.1 222.7) scale(0.88 1)" font-size="21.3">−</text><line x1="98.0" y1="262.06" x2="108.3" y2="262.06" stroke="#111" stroke-width="1.15"/><text transform="translate(85.4 270.5) scale(1.12 1)" text-anchor="end" font-size="21.3">30</text><text transform="translate(47.1 270.5) scale(0.88 1)" font-size="21.3">−</text><line x1="119.10" y1="297.4" x2="119.10" y2="287.1" stroke="#111" stroke-width="1.15"/><line x1="205.94" y1="297.4" x2="205.94" y2="287.1" stroke="#111" stroke-width="1.15"/><line x1="292.78" y1="297.4" x2="292.78" y2="287.1" stroke="#111" stroke-width="1.15"/><line x1="379.62" y1="297.4" x2="379.62" y2="287.1" stroke="#111" stroke-width="1.15"/><line x1="466.46" y1="297.4" x2="466.46" y2="287.1" stroke="#111" stroke-width="1.15"/><line x1="553.30" y1="297.4" x2="553.30" y2="287.1" stroke="#111" stroke-width="1.15"/><line x1="640.14" y1="297.4" x2="640.14" y2="287.1" stroke="#111" stroke-width="1.15"/><line x1="98.0" y1="166.62" x2="683.5" y2="166.62" stroke="#e5202a" stroke-width="2" stroke-dasharray="4.25 3.07"/><text x="115.2" y="156.2" font-size="25" fill="#e5202a">100 µW</text><rect x="98.0" y="18.5" width="585.5" height="278.9" fill="none" stroke="#000" stroke-width="1.15"/><text transform="translate(20.9 163.7) rotate(-90)" text-anchor="middle" font-size="25.35">Power (dBm)</text><text x="0.8" y="19.0" font-size="34.5" font-weight="bold" stroke="#000" stroke-width="1.3">a</text><path d="M98,589.5L98.25,589.1L98.5,588.8L98.75,588.8L99,588.8L99.25,587.9L99.5,586.9L99.75,588.8L100,590.7L100.25,590.4L100.5,590.0L100.75,589.4L101,588.7L101.25,589.1L101.5,589.6L101.75,589.3L102,589.1L102.25,588.7L102.5,588.3L102.75,589.0L103,589.6L103.25,589.0L103.5,588.4L103.75,588.4L104,588.3L104.25,588.1L104.5,587.9L104.75,588.4L105,588.9L105.25,588.7L105.5,588.4L105.75,588.6L106,588.9L106.25,588.4L106.5,587.8L106.75,588.1L107,588.4L107.25,587.9L107.5,587.4L107.75,588.2L108,588.9L108.25,588.6L108.5,588.3L108.75,588.3L109,588.4L109.25,588.4L109.5,588.4L109.75,587.7L110,587.1L110.25,587.8L110.5,588.6L110.75,589.2L111,589.7L111.25,588.0L111.5,586.3L111.75,586.3L112,586.2L112.25,586.3L112.5,586.3L112.75,587.4L113,588.4L113.25,588.0L113.5,587.7L113.75,588.1L114,588.5L114.25,588.3L114.5,588.1L114.75,587.8L115,587.5L115.25,587.5L115.5,587.5L115.75,587.3L116,587.1L116.25,587.5L116.5,587.9L116.75,587.0L117,586.1L117.25,586.4L117.5,586.6L117.75,586.9L118,587.2L118.25,587.8L118.5,588.5L118.75,587.3L119,586.1L119.25,585.9L119.5,585.8L119.75,586.0L120,586.2L120.25,586.8L120.5,587.5L120.75,586.9L121,586.3L121.25,587.0L121.5,587.7L121.75,586.2L122,584.7L122.25,586.0L122.5,587.3L122.75,587.3L123,587.2L123.25,586.1L123.5,584.9L123.75,585.6L124,586.3L124.25,586.7L124.5,587.1L124.75,586.6L125,586.1L125.25,586.4L125.5,586.8L125.75,587.4L126,588.0L126.25,587.0L126.5,586.0L126.75,585.7L127,585.5L127.25,585.2L127.5,585.0L127.75,585.6L128,586.2L128.25,585.8L128.5,585.4L128.75,585.4L129,585.4L129.25,585.5L129.5,585.5L129.75,585.8L130,586.1L130.25,585.3L130.5,584.6L130.75,584.3L131,584.1L131.25,583.7L131.5,583.3L131.75,584.9L132,586.5L132.25,586.0L132.5,585.5L132.75,586.1L133,586.7L133.25,586.0L133.5,585.4L133.75,585.0L134,584.7L134.25,585.2L134.5,585.7L134.75,585.5L135,585.2L135.25,584.7L135.5,584.1L135.75,584.3L136,584.4L136.25,585.6L136.5,586.8L136.75,586.1L137,585.5L137.25,585.5L137.5,585.5L137.75,585.2L138,584.9L138.25,584.7L138.5,584.5L138.75,585.2L139,585.9L139.25,585.4L139.5,585.0L139.75,584.6L140,584.3L140.25,584.6L140.5,584.9L140.75,584.5L141,584.2L141.25,584.6L141.5,585.1L141.75,585.5L142,585.9L142.25,585.0L142.5,584.1L142.75,585.1L143,586.2L143.25,585.2L143.5,584.2L143.75,584.6L144,585.0L144.25,584.5L144.5,584.0L144.75,584.3L145,584.6L145.25,584.7L145.5,584.8L145.75,584.6L146,584.3L146.25,584.2L146.5,584.1L146.75,584.1L147,584.1L147.25,584.0L147.5,583.9L147.75,583.6L148,583.2L148.25,583.8L148.5,584.3L148.75,584.6L149,584.9L149.25,585.1L149.5,585.3L149.75,585.2L150,585.1L150.25,585.9L150.5,586.7L150.75,585.7L151,584.7L151.25,584.4L151.5,584.0L151.75,585.1L152,586.1L152.25,584.8L152.5,583.5L152.75,584.4L153,585.3L153.25,584.4L153.5,583.5L153.75,584.1L154,584.7L154.25,583.6L154.5,582.6L154.75,583.8L155,585.1L155.25,584.6L155.5,584.1L155.75,583.8L156,583.4L156.25,584.6L156.5,585.8L156.75,585.3L157,584.9L157.25,584.6L157.5,584.2L157.75,583.9L158,583.5L158.25,583.8L158.5,584.1L158.75,584.1L159,584.0L159.25,584.4L159.5,584.8L159.75,584.8L160,584.8L160.25,584.2L160.5,583.5L160.75,583.5L161,583.6L161.25,583.6L161.5,583.6L161.75,583.2L162,582.8L162.25,583.1L162.5,583.5L162.75,583.7L163,583.9L163.25,584.2L163.5,584.6L163.75,584.9L164,585.1L164.25,584.2L164.5,583.2L164.75,583.8L165,584.4L165.25,583.9L165.5,583.5L165.75,584.6L166,585.7L166.25,584.8L166.5,583.8L166.75,584.0L167,584.3L167.25,583.6L167.5,583.0L167.75,583.0L168,583.1L168.25,583.5L168.5,583.9L168.75,583.7L169,583.4L169.25,583.7L169.5,584.0L169.75,583.2L170,582.3L170.25,583.3L170.5,584.3L170.75,583.6L171,582.9L171.25,584.1L171.5,585.3L171.75,584.5L172,583.7L172.25,584.3L172.5,585.0L172.75,584.0L173,582.9L173.25,583.8L173.5,584.7L173.75,584.1L174,583.6L174.25,583.9L174.5,584.1L174.75,584.4L175,584.7L175.25,584.6L175.5,584.5L175.75,584.8L176,585.1L176.25,585.4L176.5,585.7L176.75,585.7L177,585.7L177.25,585.5L177.5,585.2L177.75,584.7L178,584.2L178.25,584.5L178.5,584.8L178.75,585.1L179,585.5L179.25,584.7L179.5,583.9L179.75,585.2L180,586.6L180.25,586.3L180.5,586.0L180.75,586.2L181,586.3L181.25,587.0L181.5,587.6L181.75,587.7L182,587.7L182.25,587.6L182.5,587.5L182.75,587.1L183,586.7L183.25,587.4L183.5,588.2L183.75,588.3L184,588.5L184.25,588.1L184.5,587.6L184.75,588.6L185,589.6L185.25,589.5L185.5,589.4L185.75,588.4L186,587.4L186.25,588.3L186.5,589.3L186.75,588.7L187,588.2L187.25,589.3L187.5,590.4L187.75,590.3L188,590.2L188.25,589.4L188.5,588.6L188.75,588.7L189,588.9L189.25,589.4L189.5,589.9L189.75,589.8L190,589.7L190.25,590.5L190.5,591.3L190.75,591.0L191,590.7L191.25,590.3L191.5,589.9L191.75,590.3L192,590.8L192.1,590.3L192.25,589.6L192.5,588.5L192.75,589.6L192.8,589.8L193,590.4L193.2,589.8L193.25,589.5L193.35,588.8L193.5,587.3L193.6,586.1L193.65,585.5L193.7,584.9L193.74,584.2L193.75,584.0L193.77,583.5L193.8,583.0L193.83,583.4L193.86,584.0L193.9,584.6L193.95,585.1L194,585.5L194.1,586.5L194.25,588.0L194.4,589.1L194.5,589.5L194.6,590.1L194.75,590.6L194.8,590.8L195,591.3L195.1,591.6L195.25,592.0L195.5,592.7L195.75,591.9L196,591.2L196.25,590.6L196.5,590.1L196.75,591.3L197,592.5L197.25,591.1L197.5,589.6L197.75,590.7L198,591.8L198.25,591.4L198.5,591.0L198.75,591.7L199,592.4L199.25,591.7L199.5,590.9L199.75,591.9L200,593.0L200.25,592.5L200.5,592.0L200.75,591.1L201,590.1L201.25,590.0L201.5,589.8L201.75,590.5L202,591.3L202.25,591.9L202.5,592.6L202.75,592.1L203,591.5L203.25,591.4L203.5,591.4L203.75,591.2L204,591.0L204.25,591.4L204.5,591.8L204.75,591.6L205,591.4L205.2,591.3L205.25,591.3L205.5,591.2L205.6,591.0L205.75,590.6L205.9,590.2L206,589.8L206.1,589.9L206.25,589.4L206.3,589.1L206.45,587.4L206.5,586.6L206.6,584.7L206.7,583.0L206.75,582.2L206.8,581.3L206.84,580.3L206.87,579.3L206.9,578.6L206.93,579.3L206.96,580.3L207,581.3L207.05,582.0L207.1,582.7L207.2,584.1L207.25,584.8L207.35,586.2L207.5,587.6L207.7,590.2L207.75,590.7L207.9,591.9L208,592.6L208.2,592.1L208.25,591.9L208.5,591.2L208.6,591.0L208.75,590.6L209,590.0L209.25,589.4L209.5,588.7L209.75,589.8L210,590.9L210.25,590.8L210.5,590.7L210.75,590.2L211,589.6L211.25,589.0L211.5,588.5L211.75,589.7L212,591.0L212.25,590.2L212.5,589.4L212.75,589.4L213,589.4L213.25,590.8L213.5,592.3L213.75,591.9L214,591.6L214.25,591.0L214.5,590.4L214.75,589.8L215,589.1L215.25,589.6L215.5,590.0L215.75,588.7L216,587.3L216.25,588.3L216.5,589.4L216.75,589.0L217,588.5L217.25,588.3L217.5,588.0L217.75,587.8L218,587.6L218.25,588.6L218.3,588.7L218.5,589.5L218.7,589.3L218.75,589.2L219,588.9L219.2,588.7L219.25,588.6L219.4,588.0L219.5,587.3L219.55,587.0L219.7,585.7L219.75,585.2L219.8,584.8L219.85,584.4L219.9,583.9L219.94,583.4L219.97,582.8L220,582.4L220.03,582.7L220.06,583.3L220.1,583.8L220.15,584.1L220.2,584.5L220.25,584.8L220.3,585.1L220.45,586.1L220.5,586.4L220.6,586.9L220.75,587.4L220.8,587.4L221,587.5L221.25,587.2L221.3,587.2L221.5,587.0L221.7,587.5L221.75,587.6L222,588.2L222.25,588.6L222.5,589.1L222.75,588.7L223,588.2L223.25,588.5L223.5,588.8L223.75,588.0L224,587.2L224.25,587.4L224.5,587.7L224.75,587.5L225,587.4L225.25,587.1L225.5,586.9L225.75,588.2L226,589.6L226.25,589.1L226.5,588.6L226.75,587.9L227,587.1L227.25,587.1L227.5,587.0L227.75,587.3L228,587.6L228.25,586.9L228.5,586.3L228.75,587.1L229,587.9L229.25,587.1L229.5,586.3L229.75,586.6L230,587.0L230.25,586.6L230.5,586.3L230.75,586.5L230.9,586.6L231,586.7L231.25,586.2L231.3,586.1L231.5,585.6L231.6,585.1L231.75,583.5L231.8,582.5L232,575.2L232.15,567.5L232.25,562.3L232.3,559.9L232.4,555.9L232.45,554.2L232.5,552.4L232.54,550.4L232.57,548.5L232.6,547.4L232.63,548.5L232.66,550.4L232.7,552.4L232.75,554.2L232.8,556.0L232.9,560.0L233,565.0L233.05,567.7L233.2,575.6L233.25,578.0L233.4,583.0L233.5,584.8L233.6,585.8L233.75,586.3L233.9,586.5L234,586.6L234.25,587.2L234.3,587.3L234.5,587.8L234.75,587.4L235,587.1L235.25,586.6L235.5,586.0L235.75,586.4L236,586.8L236.25,586.1L236.5,585.4L236.75,586.4L237,587.3L237.25,586.8L237.5,586.4L237.75,585.5L238,584.6L238.25,585.5L238.5,586.3L238.75,586.3L239,586.3L239.25,584.7L239.5,583.1L239.75,583.9L240,584.7L240.25,584.8L240.5,584.8L240.75,584.1L241,583.4L241.25,583.8L241.5,584.1L241.75,584.1L242,584.1L242.25,584.7L242.5,585.3L242.75,585.2L243,585.0L243.25,586.0L243.5,587.0L243.75,585.6L244,584.2L244.25,584.8L244.4,585.2L244.5,585.3L244.7,584.2L244.75,583.6L244.9,580.3L245,576.3L245.1,571.0L245.25,561.8L245.4,553.4L245.5,549.0L245.55,547.1L245.6,545.2L245.64,543.1L245.67,541.1L245.7,539.9L245.73,541.1L245.75,542.4L245.76,543.1L245.8,545.1L245.85,547.0L245.9,548.8L246,553.1L246.15,561.3L246.25,567.3L246.3,570.1L246.5,578.6L246.7,582.2L246.75,582.5L247,583.5L247.25,584.2L247.4,584.6L247.5,584.9L247.75,585.2L248,585.6L248.25,585.1L248.5,584.7L248.75,584.6L249,584.5L249.25,583.9L249.5,583.3L249.75,584.3L250,585.4L250.25,585.3L250.5,585.2L250.75,584.3L251,583.4L251.25,583.6L251.5,583.8L251.75,583.4L252,582.9L252.25,584.0L252.5,585.1L252.75,584.6L253,584.1L253.25,583.8L253.5,583.6L253.75,583.8L254,584.0L254.25,584.0L254.5,584.0L254.75,583.6L255,583.2L255.25,582.8L255.5,582.4L255.75,582.3L256,582.3L256.25,582.0L256.5,581.8L256.75,582.8L256.9,583.3L257,583.7L257.25,584.4L257.3,584.5L257.5,584.8L257.6,583.6L257.75,580.6L257.8,579.0L258,569.5L258.15,561.0L258.25,555.5L258.3,553.0L258.4,548.8L258.45,547.0L258.5,545.1L258.54,543.1L258.57,541.1L258.6,539.9L258.63,541.1L258.66,543.1L258.7,545.1L258.75,547.0L258.8,548.9L258.9,553.2L259,558.5L259.05,561.4L259.2,570.2L259.25,572.7L259.4,578.3L259.5,580.2L259.6,581.4L259.75,582.2L259.9,582.7L260,582.9L260.25,582.3L260.3,582.1L260.5,581.6L260.75,582.6L261,583.5L261.25,582.7L261.5,581.8L261.75,582.0L262,582.3L262.25,582.5L262.5,582.7L262.75,582.1L263,581.5L263.25,580.8L263.5,580.2L263.75,580.6L264,581.1L264.25,581.6L264.5,582.1L264.75,581.7L265,581.2L265.25,581.3L265.5,581.4L265.75,580.7L266,580.1L266.25,580.5L266.5,581.0L266.75,581.2L267,581.4L267.25,581.0L267.5,580.6L267.75,581.4L268,582.1L268.25,581.1L268.5,580.1L268.75,579.6L269,579.2L269.25,578.8L269.5,578.5L269.75,579.6L270,580.7L270.25,580.1L270.3,579.9L270.5,579.4L270.7,579.5L270.75,579.4L271,576.5L271.2,565.1L271.25,560.7L271.4,546.1L271.5,536.7L271.55,532.4L271.7,521.7L271.75,518.9L271.8,516.5L271.85,514.4L271.9,512.2L271.94,509.9L271.97,507.6L272,506.3L272.03,507.6L272.06,509.9L272.1,512.2L272.15,514.4L272.2,516.5L272.25,518.9L272.3,521.7L272.45,532.4L272.5,536.7L272.6,546.1L272.75,560.4L272.8,564.6L273,575.0L273.25,578.2L273.3,578.4L273.5,578.8L273.7,579.1L273.75,579.1L274,579.4L274.25,578.4L274.5,577.3L274.75,578.4L275,579.5L275.25,579.3L275.5,579.1L275.75,579.0L276,578.8L276.25,578.2L276.5,577.6L276.75,577.7L277,577.8L277.25,577.1L277.5,576.4L277.75,576.8L278,577.3L278.25,576.9L278.5,576.5L278.75,576.7L279,576.9L279.25,576.6L279.5,576.2L279.75,576.5L280,576.7L280.25,577.0L280.5,577.3L280.75,576.1L281,574.9L281.25,575.8L281.5,576.7L281.75,575.3L282,573.9L282.25,573.7L282.5,573.5L282.75,574.3L283,575.0L283.2,574.9L283.25,574.8L283.5,574.5L283.6,574.3L283.75,573.2L283.9,568.8L284,562.4L284.1,553.0L284.25,536.4L284.3,530.9L284.45,516.3L284.5,512.2L284.6,505.2L284.7,500.0L284.75,497.8L284.8,495.6L284.84,493.2L284.87,490.9L284.9,489.6L284.93,490.9L284.96,493.2L285,495.6L285.05,497.8L285.1,500.0L285.2,505.3L285.25,508.5L285.35,516.4L285.5,531.0L285.7,552.9L285.75,557.8L285.9,568.5L286,572.1L286.2,573.6L286.25,573.6L286.5,573.2L286.6,573.3L286.75,573.4L287,573.6L287.25,572.9L287.5,572.1L287.75,572.3L288,572.6L288.25,572.3L288.5,572.1L288.75,572.4L289,572.8L289.25,571.9L289.5,571.0L289.75,570.9L290,570.8L290.25,571.4L290.5,572.0L290.75,572.4L291,572.9L291.25,572.2L291.5,571.6L291.75,571.5L292,571.4L292.25,571.0L292.5,570.6L292.75,571.2L293,571.8L293.25,571.4L293.5,571.1L293.75,571.6L294,572.0L294.25,571.3L294.5,570.6L294.75,569.9L295,569.2L295.25,569.2L295.5,569.1L295.75,568.6L296,567.9L296.25,567.3L296.5,566.6L296.75,566.6L296.9,565.9L297,564.0L297.2,550.4L297.25,544.6L297.4,524.3L297.5,510.6L297.6,498.1L297.75,482.5L297.9,471.0L298,465.5L298.05,463.3L298.1,461.0L298.14,458.7L298.17,456.3L298.2,455.0L298.23,456.3L298.25,457.9L298.26,458.7L298.3,461.1L298.35,463.3L298.4,465.6L298.5,471.0L298.65,482.5L298.75,492.4L298.8,498.1L299,524.1L299.2,549.2L299.25,553.6L299.5,562.5L299.75,564.2L299.9,564.7L300,565.0L300.25,564.9L300.5,564.7L300.75,564.3L301,563.9L301.25,563.2L301.5,562.5L301.75,563.2L302,563.8L302.25,563.7L302.5,563.6L302.75,562.1L303,560.6L303.25,561.8L303.5,562.9L303.75,562.7L304,562.5L304.25,561.7L304.5,561.0L304.75,561.0L305,561.0L305.25,560.6L305.5,560.2L305.75,559.7L306,559.2L306.25,559.1L306.5,558.9L306.75,559.3L307,559.6L307.25,557.9L307.5,556.3L307.75,556.6L308,556.9L308.25,556.4L308.5,555.9L308.75,555.0L309,554.2L309.25,553.8L309.5,553.3L309.75,552.4L310,551.5L310.1,551.3L310.25,551.0L310.5,549.9L310.75,542.2L310.8,538.4L311,515.2L311.2,489.9L311.25,484.3L311.35,474.4L311.5,463.0L311.6,457.6L311.65,455.4L311.7,453.1L311.74,450.7L311.75,450.0L311.77,448.4L311.8,447.1L311.83,448.4L311.86,450.7L311.9,453.1L311.95,455.4L312,457.6L312.1,463.0L312.25,474.4L312.4,489.9L312.5,502.2L312.6,515.3L312.75,533.1L312.8,537.6L313,546.1L313.1,547.4L313.25,548.1L313.5,548.5L313.75,548.3L314,548.0L314.25,547.4L314.5,546.8L314.75,547.0L315,547.1L315.25,545.7L315.5,544.3L315.75,544.5L316,544.7L316.25,544.0L316.5,543.3L316.75,541.6L317,540.0L317.25,540.3L317.5,540.4L317.75,538.8L318,537.2L318.25,537.9L318.5,538.5L318.75,536.3L319,534.1L319.25,533.0L319.5,531.9L319.75,530.6L320,529.4L320.25,528.8L320.5,528.2L320.75,527.7L321,527.1L321.25,526.1L321.5,524.6L321.75,523.0L322,521.4L322.25,520.2L322.5,518.9L322.75,517.6L323,516.2L323.1,515.9L323.25,515.5L323.5,514.9L323.75,508.0L323.8,505.0L324,485.8L324.2,462.4L324.25,457.1L324.35,447.4L324.5,436.2L324.6,430.9L324.65,428.6L324.7,426.4L324.74,424.0L324.75,423.3L324.77,421.7L324.8,420.4L324.83,421.7L324.86,424.0L324.9,426.4L324.95,428.6L325,430.8L325.1,436.2L325.25,447.3L325.4,462.2L325.5,473.4L325.6,484.7L325.75,498.3L325.8,501.3L326,506.5L326.1,507.1L326.25,507.4L326.5,507.6L326.75,508.1L327,508.7L327.25,508.1L327.5,507.5L327.75,507.1L328,506.7L328.25,506.4L328.5,504.0L328.75,501.0L329,497.9L329.25,494.7L329.5,491.5L329.75,488.9L330,486.2L330.25,482.7L330.5,479.0L330.75,476.9L331,476.0L331.25,475.7L331.5,475.3L331.75,474.3L332,473.2L332.25,472.0L332.5,470.7L332.75,473.4L332.8,474.0L333,476.6L333.2,468.1L333.25,466.0L333.5,455.1L333.7,449.7L333.75,448.1L333.9,442.3L334,437.8L334.05,434.5L334.2,425.2L334.25,422.4L334.3,419.8L334.35,417.3L334.4,414.7L334.44,412.5L334.47,410.6L334.5,409.1L334.53,410.0L334.56,411.2L334.6,412.6L334.65,414.0L334.7,415.5L334.75,417.0L334.8,418.5L334.95,423.7L335,425.4L335.1,427.6L335.25,430.1L335.3,430.7L335.5,432.8L335.75,437.2L335.8,438.1L336,441.5L336.2,437.3L336.25,436.3L336.4,433.1L336.5,431.0L336.7,424.5L336.75,422.9L336.9,417.8L337,414.4L337.1,412.0L337.25,408.2L337.4,404.3L337.5,401.8L337.55,400.5L337.6,399.3L337.64,398.1L337.67,397.2L337.7,396.4L337.73,397.8L337.75,398.8L337.76,399.3L337.8,401.3L337.85,403.6L337.9,405.9L338,410.6L338.15,418.0L338.25,423.1L338.3,425.7L338.5,435.6L338.7,445.6L338.75,448.0L339,447.7L339.25,444.1L339.4,441.9L339.5,440.5L339.75,436.1L340,431.7L340.2,427.8L340.25,426.1L340.5,417.9L340.6,414.6L340.75,409.6L340.9,404.6L341,401.2L341.1,397.6L341.25,392.1L341.3,390.2L341.45,384.5L341.5,382.6L341.6,379.4L341.7,376.3L341.75,374.8L341.8,373.3L341.84,372.0L341.87,371.0L341.9,370.1L341.93,371.1L341.96,372.4L342,373.9L342.05,375.6L342.1,377.4L342.2,381.0L342.25,382.8L342.35,386.6L342.5,392.3L342.7,400.7L342.75,402.7L342.9,408.7L343,412.6L343.2,418.1L343.25,419.5L343.5,420.5L343.6,417.4L343.75,412.9L344,405.2L344.25,401.0L344.5,396.8L344.75,388.5L345,380.2L345.25,379.4L345.5,382.5L345.75,386.2L346,389.9L346.25,393.8L346.5,397.7L346.75,397.1L347,396.5L347.25,400.9L347.5,404.3L347.75,407.8L348,411.2L348.25,412.4L348.5,413.5L348.75,414.7L349,415.9L349.25,418.1L349.5,420.3L349.75,424.5L350,428.8L350.25,428.3L350.4,428.0L350.5,423.6L350.75,416.5L350.8,415.1L351,409.4L351.1,406.0L351.25,400.7L351.3,398.9L351.5,391.3L351.65,384.5L351.75,380.0L351.8,377.8L351.9,373.6L351.95,371.6L352,369.5L352.04,368.2L352.07,367.1L352.1,366.1L352.13,367.1L352.16,368.2L352.2,369.6L352.25,371.2L352.3,372.8L352.4,376.1L352.5,379.6L352.55,381.0L352.7,385.0L352.75,386.3L352.9,389.9L353,392.2L353.1,394.8L353.25,398.7L353.4,402.5L353.5,405.0L353.75,405.2L353.8,404.5L354,401.7L354.25,401.3L354.5,400.9L354.75,396.5L355,392.0L355.25,388.9L355.5,385.8L355.75,383.4L356,385.7L356.25,392.3L356.5,399.0L356.75,400.7L357,402.3L357.25,402.8L357.5,397.7L357.75,393.0L358,388.2L358.25,383.2L358.5,378.1L358.75,376.3L359,374.6L359.25,370.5L359.5,372.6L359.75,374.0L360,375.4L360.25,382.1L360.5,388.8L360.75,391.9L361,394.9L361.25,396.3L361.5,395.1L361.75,392.9L362,390.6L362.25,388.0L362.5,385.4L362.75,383.3L363,381.3L363.25,378.1L363.5,375.0L363.75,372.3L364,369.6L364.25,372.6L364.5,375.7L364.75,373.4L365,371.1L365.25,371.5L365.5,371.8L365.75,372.0L366,376.2L366.25,378.5L366.5,380.9L366.75,385.8L367,390.7L367.25,395.4L367.5,397.4L367.75,394.8L368,392.2L368.25,388.4L368.5,384.6L368.75,381.4L369,378.2L369.25,376.3L369.5,374.5L369.75,370.8L370,370.9L370.25,377.9L370.5,384.9L370.75,389.7L371,394.5L371.25,403.9L371.5,413.2L371.75,418.5L372,423.8L372.25,427.6L372.5,431.4L372.75,435.2L373,439.0L373.25,442.7L373.5,446.4L373.75,451.5L374,456.7L374.25,457.7L374.5,458.8L374.75,460.0L375,456.2L375.25,455.1L375.5,454.0L375.75,450.0L376,446.1L376.25,444.3L376.5,442.5L376.75,438.1L377,431.4L377.25,422.4L377.3,420.6L377.5,413.4L377.7,406.4L377.75,404.6L378,395.1L378.2,385.5L378.25,382.9L378.4,374.4L378.5,368.3L378.55,365.2L378.7,356.7L378.75,354.3L378.8,352.1L378.85,350.1L378.9,348.0L378.94,346.0L378.97,344.2L379,343.0L379.03,343.5L379.06,344.6L379.1,345.5L379.15,346.0L379.2,346.4L379.25,346.8L379.3,347.1L379.45,347.8L379.5,347.7L379.6,346.9L379.75,350.0L379.8,350.9L380,353.9L380.25,358.0L380.3,358.8L380.5,361.9L380.7,362.4L380.75,362.5L381,363.1L381.25,366.4L381.5,370.3L381.75,375.5L382,380.7L382.25,384.7L382.5,388.7L382.75,394.0L383,399.4L383.25,402.4L383.5,406.1L383.75,410.4L384,414.7L384.25,421.5L384.5,428.2L384.75,433.5L385,438.8L385.1,439.8L385.25,441.3L385.5,440.2L385.75,436.7L385.8,435.9L386,432.2L386.2,424.4L386.25,422.3L386.35,417.8L386.5,411.5L386.6,408.8L386.65,407.5L386.7,406.3L386.74,404.9L386.75,404.5L386.77,403.6L386.8,402.8L386.83,404.0L386.86,405.6L386.9,407.5L386.95,409.4L387,411.3L387.1,415.1L387.25,421.7L387.4,428.6L387.5,432.9L387.6,437.2L387.75,442.7L387.8,444.4L388,450.6L388.1,453.1L388.25,456.8L388.5,463.0L388.75,464.2L389,465.4L389.25,466.3L389.5,467.2L389.75,468.8L390,470.3L390.25,470.8L390.5,471.3L390.75,471.1L391,470.9L391.25,468.0L391.5,463.2L391.75,462.5L391.9,462.0L392,461.6L392.2,458.1L392.25,456.9L392.4,452.4L392.5,448.1L392.6,442.2L392.75,432.9L392.9,424.7L393,420.3L393.05,418.7L393.1,416.9L393.14,415.1L393.17,413.4L393.2,412.3L393.23,413.5L393.25,414.9L393.26,415.5L393.3,417.6L393.35,419.7L393.4,421.7L393.5,426.5L393.65,434.6L393.75,440.7L393.8,443.7L394,453.8L394.2,462.0L394.25,463.6L394.5,470.8L394.75,479.1L394.9,484.0L395,487.3L395.25,496.1L395.5,500.1L395.75,497.6L396,495.2L396.25,496.0L396.5,496.9L396.75,500.6L397,504.2L397.25,495.5L397.4,490.3L397.5,486.7L397.7,485.1L397.75,484.5L397.9,481.2L398,477.4L398.1,471.7L398.25,462.4L398.4,454.2L398.5,449.8L398.55,447.9L398.6,446.0L398.64,444.0L398.67,442.1L398.7,440.9L398.73,442.1L398.75,443.4L398.76,444.0L398.8,446.0L398.85,448.0L398.9,449.9L399,454.4L399.15,463.3L399.25,470.2L399.3,473.7L399.5,486.6L399.7,497.7L399.75,500.0L400,510.2L400.25,512.1L400.4,513.2L400.5,514.0L400.75,521.3L401,528.5L401.25,533.6L401.5,533.8L401.75,533.5L402,533.2L402.25,532.6L402.5,532.1L402.75,535.0L403,537.7L403.25,536.3L403.5,534.8L403.75,532.9L404,529.6L404.2,528.6L404.25,528.3L404.5,526.4L404.6,525.0L404.75,519.7L404.9,506.4L405,493.3L405.1,478.9L405.25,458.5L405.3,452.3L405.45,436.6L405.5,432.3L405.6,425.1L405.7,419.7L405.75,417.4L405.8,415.2L405.84,412.8L405.87,410.4L405.9,409.1L405.93,410.4L405.96,412.8L406,415.1L406.05,417.4L406.1,419.7L406.2,425.1L406.25,428.5L406.35,436.6L406.5,452.3L406.7,478.9L406.75,486.2L406.9,506.8L407,517.1L407.2,527.0L407.25,528.1L407.5,531.6L407.6,532.6L407.75,534.1L408,536.5L408.25,537.6L408.5,538.7L408.75,542.7L409,546.5L409.25,547.8L409.5,549.0L409.75,551.5L410,553.0L410.25,554.3L410.5,555.6L410.75,555.2L411,554.8L411.25,555.2L411.5,555.6L411.75,557.2L412,558.9L412.25,559.2L412.5,559.6L412.75,560.2L413,560.9L413.25,561.4L413.5,561.8L413.75,563.7L414,565.4L414.25,565.2L414.5,565.0L414.75,565.3L415,565.5L415.25,566.3L415.5,566.5L415.75,566.1L416,565.6L416.25,565.7L416.5,565.8L416.75,565.0L417,564.1L417.25,563.0L417.5,561.6L417.75,560.4L417.9,559.3L418,558.4L418.25,553.4L418.3,551.3L418.5,533.3L418.6,518.3L418.75,493.7L418.8,485.8L419,458.0L419.15,442.1L419.25,433.9L419.3,430.5L419.4,425.0L419.45,422.8L419.5,420.5L419.54,418.1L419.57,415.7L419.6,414.4L419.63,415.7L419.66,418.1L419.7,420.5L419.75,422.8L419.8,425.0L419.9,430.5L420,437.7L420.05,442.1L420.2,458.0L420.25,464.3L420.4,485.8L420.5,501.9L420.6,518.4L420.75,539.7L420.9,551.7L421,555.3L421.25,559.6L421.3,560.2L421.5,562.2L421.75,563.7L422,564.8L422.25,566.0L422.5,566.9L422.75,567.5L423,568.0L423.25,568.6L423.5,569.3L423.75,569.9L424,570.6L424.25,570.5L424.5,570.5L424.75,571.0L425,571.5L425.25,572.1L425.5,572.7L425.75,572.7L426,572.8L426.25,573.4L426.5,574.1L426.75,574.6L427,575.0L427.25,575.1L427.5,575.2L427.75,575.2L428,575.2L428.25,575.4L428.5,575.6L428.75,576.8L429,577.9L429.25,577.5L429.5,577.1L429.75,576.3L430,575.4L430.25,575.3L430.5,575.1L430.75,575.7L431,576.1L431.25,575.2L431.5,574.0L431.7,572.4L431.75,572.0L432,568.7L432.1,566.1L432.25,556.3L432.4,536.8L432.5,520.9L432.6,505.0L432.75,483.6L432.8,477.4L432.95,461.4L433,457.1L433.1,449.9L433.2,444.4L433.25,442.2L433.3,439.9L433.34,437.5L433.37,435.1L433.4,433.8L433.43,435.1L433.46,437.5L433.5,439.9L433.55,442.2L433.6,444.4L433.7,449.9L433.75,453.2L433.85,461.4L434,477.4L434.2,505.0L434.25,512.8L434.4,536.6L434.5,550.5L434.7,565.9L434.75,567.5L435,571.5L435.1,572.6L435.25,573.9L435.5,575.8L435.75,577.0L436,578.0L436.25,578.0L436.5,577.9L436.75,578.7L437,579.4L437.25,580.3L437.5,581.1L437.75,580.6L438,580.0L438.25,579.8L438.5,579.7L438.75,580.6L438.8,580.7L439,581.4L439.2,581.6L439.25,581.6L439.5,581.8L439.7,582.4L439.75,582.4L439.9,582.4L440,582.0L440.05,581.5L440.2,579.8L440.25,579.2L440.3,578.7L440.35,578.1L440.4,577.5L440.44,576.9L440.47,576.2L440.5,575.8L440.53,576.2L440.56,576.8L440.6,577.5L440.65,578.0L440.7,578.5L440.75,579.0L440.8,579.6L440.95,581.1L441,581.6L441.1,583.0L441.25,584.6L441.3,585.1L441.5,586.7L441.75,585.8L441.8,585.6L442,584.9L442.2,585.5L442.25,585.6L442.5,586.3L442.75,586.6L443,586.9L443.25,587.2L443.5,587.3L443.75,587.0L444,586.6L444.25,586.6L444.5,586.5L444.75,585.9L445,585.3L445.25,584.2L445.5,583.1L445.75,582.5L445.9,582.0L446,581.5L446.25,578.4L446.3,577.1L446.5,563.2L446.6,549.9L446.75,526.6L446.8,518.8L447,491.3L447.15,475.4L447.25,467.2L447.3,463.8L447.4,458.4L447.45,456.2L447.5,453.9L447.54,451.5L447.57,449.1L447.6,447.8L447.63,449.1L447.66,451.5L447.7,453.9L447.75,456.2L447.8,458.4L447.9,463.8L448,471.1L448.05,475.4L448.2,491.4L448.25,497.6L448.4,518.9L448.5,534.6L448.6,550.2L448.75,568.9L448.9,578.1L449,580.6L449.25,582.0L449.3,582.1L449.5,582.1L449.75,583.8L450,585.4L450.25,585.7L450.5,585.8L450.75,585.4L451,584.9L451.25,586.3L451.5,587.7L451.75,587.5L452,587.2L452.2,587.4L452.25,587.4L452.5,587.6L452.6,587.6L452.75,587.5L452.9,587.5L453,587.4L453.1,587.5L453.25,587.4L453.3,587.3L453.45,586.4L453.5,586.0L453.6,584.8L453.7,583.7L453.75,583.1L453.8,582.6L453.84,581.9L453.87,581.2L453.9,580.7L453.93,581.2L453.96,581.9L454,582.6L454.05,583.2L454.1,583.7L454.2,584.7L454.25,585.2L454.35,586.2L454.5,587.4L454.7,588.4L454.75,588.5L454.9,588.8L455,588.9L455.2,588.7L455.25,588.6L455.5,588.3L455.6,588.3L455.75,588.4L456,588.5L456.25,588.1L456.5,587.7L456.75,588.0L457,588.3L457.25,588.0L457.5,587.6L457.75,588.0L458,588.3L458.25,588.3L458.5,588.3L458.75,587.8L459,587.2L459.25,587.0L459.5,586.6L459.75,586.0L459.9,585.4L460,584.8L460.25,580.1L460.3,578.4L460.5,563.6L460.6,550.5L460.75,527.1L460.8,519.4L461,491.9L461.15,475.9L461.25,467.7L461.3,464.4L461.4,458.9L461.45,456.7L461.5,454.4L461.54,452.0L461.57,449.6L461.6,448.3L461.63,449.6L461.66,452.0L461.7,454.4L461.75,456.7L461.8,458.9L461.9,464.4L462,471.6L462.05,475.9L462.2,491.9L462.25,498.1L462.4,519.4L462.5,535.0L462.6,550.6L462.75,569.4L462.9,578.8L463,581.5L463.25,584.1L463.3,584.4L463.5,585.5L463.75,586.5L464,587.2L464.25,587.9L464.5,588.6L464.75,588.9L465,589.1L465.25,588.6L465.5,588.1L465.75,589.8L466,591.4L466.25,591.0L466.5,590.6L466.6,590.5L466.75,590.4L467,590.3L467.25,590.9L467.3,591.0L467.5,591.2L467.7,589.9L467.75,589.3L467.85,588.1L468,586.0L468.1,584.5L468.15,583.8L468.2,583.1L468.24,582.3L468.25,582.0L468.27,581.5L468.3,580.9L468.33,581.4L468.36,582.1L468.4,582.8L468.45,583.3L468.5,583.8L468.6,585.5L468.75,588.1L468.9,590.5L469,591.7L469.1,591.7L469.25,591.4L469.3,591.2L469.5,590.4L469.6,590.7L469.75,591.1L470,591.7L470.25,591.9L470.5,592.0L470.75,592.5L471,593.0L471.25,592.9L471.5,592.8L471.75,592.2L472,591.7L472.25,591.1L472.5,590.4L472.75,590.1L473,589.7L473.25,589.6L473.5,589.2L473.7,588.3L473.75,588.0L474,585.7L474.1,583.1L474.25,573.9L474.4,555.3L474.5,539.8L474.6,524.1L474.75,502.9L474.8,496.6L474.95,480.7L475,476.4L475.1,469.1L475.2,463.7L475.25,461.5L475.3,459.2L475.34,456.8L475.37,454.4L475.4,453.1L475.43,454.4L475.46,456.8L475.5,459.2L475.55,461.5L475.6,463.7L475.7,469.1L475.75,472.5L475.85,480.7L476,496.6L476.2,524.1L476.25,531.8L476.4,555.2L476.5,568.3L476.7,582.1L476.75,583.4L477,586.5L477.1,587.3L477.25,588.3L477.5,589.6L477.75,590.2L478,590.7L478.25,591.4L478.5,592.0L478.75,592.4L479,592.7L479.25,592.6L479.5,592.4L479.75,591.3L480,590.1L480.25,590.5L480.4,590.7L480.5,590.8L480.75,591.7L480.8,591.8L481,592.4L481.1,592.3L481.25,591.9L481.3,591.7L481.5,589.6L481.65,587.2L481.75,585.1L481.8,584.1L481.9,582.1L481.95,581.2L482,580.2L482.04,578.9L482.07,577.7L482.1,576.9L482.13,577.5L482.16,578.7L482.2,579.8L482.25,580.8L482.3,581.7L482.4,583.6L482.5,585.6L482.55,586.7L482.7,589.6L482.75,590.2L482.9,591.5L483,591.9L483.1,592.3L483.25,592.7L483.4,593.0L483.5,593.2L483.75,593.2L483.8,593.2L484,593.2L484.25,592.6L484.5,592.0L484.75,592.3L485,592.5L485.25,591.8L485.5,591.0L485.75,591.0L486,590.9L486.25,591.7L486.5,592.4L486.75,591.1L487,589.7L487.25,590.3L487.5,590.6L487.75,589.7L488,588.5L488.25,586.6L488.4,583.8L488.5,579.3L488.7,557.8L488.75,550.3L488.9,526.9L489,512.4L489.1,499.5L489.25,483.6L489.4,472.0L489.5,466.6L489.55,464.4L489.6,462.1L489.64,459.7L489.67,457.3L489.7,456.0L489.73,457.3L489.75,458.9L489.76,459.7L489.8,462.1L489.85,464.4L489.9,466.6L490,472.0L490.15,483.6L490.25,493.7L490.3,499.5L490.5,526.9L490.7,557.5L490.75,564.3L491,583.2L491.25,587.4L491.4,588.7L491.5,589.4L491.75,589.7L492,589.6L492.25,590.2L492.5,590.8L492.75,591.3L493,591.7L493.25,592.6L493.5,593.5L493.75,592.5L494,591.4L494.25,591.5L494.5,591.7L494.7,592.4L494.75,592.6L495,593.6L495.1,593.1L495.25,592.4L495.4,591.6L495.5,591.0L495.6,591.2L495.75,591.0L495.8,590.8L495.95,589.5L496,588.8L496.1,587.1L496.2,585.4L496.25,584.6L496.3,583.8L496.34,582.8L496.37,581.9L496.4,581.3L496.43,581.8L496.46,582.7L496.5,583.6L496.55,584.3L496.6,585.0L496.7,586.4L496.75,587.1L496.85,588.5L497,590.1L497.2,591.8L497.25,592.0L497.4,592.6L497.5,592.8L497.7,592.7L497.75,592.6L498,592.4L498.1,592.6L498.25,592.9L498.5,593.4L498.75,593.5L499,593.6L499.25,594.0L499.5,594.5L499.75,593.8L500,593.1L500.25,593.1L500.5,593.0L500.75,592.6L501,592.2L501.25,592.2L501.5,592.1L501.75,592.2L502,592.0L502.25,589.8L502.4,587.5L502.5,584.4L502.7,569.2L502.75,562.9L502.9,541.4L503,527.4L503.1,514.6L503.25,498.8L503.4,487.3L503.5,481.9L503.55,479.6L503.6,477.4L503.64,475.0L503.67,472.6L503.7,471.3L503.73,472.6L503.75,474.2L503.76,475.0L503.8,477.4L503.85,479.6L503.9,481.9L504,487.3L504.15,498.8L504.25,508.9L504.3,514.6L504.5,541.4L504.7,569.6L504.75,575.3L505,589.2L505.25,591.2L505.4,591.6L505.5,591.8L505.75,592.1L506,592.2L506.25,592.8L506.5,593.3L506.75,593.4L507,593.4L507.25,593.4L507.5,593.4L507.75,593.6L508,593.9L508.25,594.3L508.5,594.6L508.7,594.4L508.75,594.3L509,594.0L509.1,594.0L509.25,594.1L509.4,594.0L509.5,594.0L509.6,593.6L509.75,592.6L509.8,592.2L509.95,590.7L510,590.0L510.1,589.2L510.2,588.3L510.25,587.9L510.3,587.4L510.34,586.8L510.37,586.2L510.4,585.8L510.43,586.3L510.46,587.0L510.5,587.7L510.55,588.2L510.6,588.6L510.7,589.4L510.75,589.8L510.85,590.6L511,591.3L511.2,593.0L511.25,593.4L511.4,594.2L511.5,594.7L511.7,594.2L511.75,594.0L512,593.3L512.1,593.7L512.25,594.3L512.5,595.3L512.75,596.1L513,596.8L513.25,595.3L513.5,593.7L513.75,594.5L514,595.3L514.25,594.8L514.5,594.3L514.75,593.8L515,593.3L515.25,593.0L515.5,592.7L515.75,593.1L516,593.3L516.25,593.0L516.4,592.2L516.5,590.4L516.7,577.8L516.75,572.3L516.9,552.6L517,539.1L517.1,526.6L517.25,511.0L517.4,499.6L517.5,494.1L517.55,491.9L517.6,489.6L517.64,487.2L517.67,484.9L517.7,483.6L517.73,484.9L517.75,486.5L517.76,487.2L517.8,489.6L517.85,491.9L517.9,494.1L518,499.6L518.15,511.0L518.25,521.0L518.3,526.6L518.5,552.5L518.7,577.6L518.75,582.1L519,592.3L519.25,593.2L519.4,593.3L519.5,593.3L519.75,593.6L520,593.8L520.25,594.4L520.5,594.9L520.75,594.4L521,593.8L521.25,593.9L521.5,594.0L521.75,594.0L522,594.0L522.25,593.3L522.5,592.5L522.75,593.6L523,594.6L523.1,594.6L523.25,594.6L523.5,594.6L523.75,594.8L523.8,594.9L524,594.8L524.2,593.3L524.25,592.8L524.35,591.6L524.5,589.6L524.6,588.7L524.65,588.3L524.7,587.8L524.74,587.3L524.75,587.1L524.77,586.7L524.8,586.3L524.83,586.7L524.86,587.3L524.9,587.9L524.95,588.5L525,588.9L525.1,590.2L525.25,592.1L525.4,593.7L525.5,594.5L525.6,594.7L525.75,594.7L525.8,594.7L526,594.5L526.1,594.7L526.25,595.0L526.5,595.5L526.75,594.4L527,593.4L527.25,593.8L527.5,594.3L527.75,593.9L528,593.5L528.25,594.0L528.5,594.4L528.75,594.0L529,593.6L529.25,594.0L529.5,594.4L529.75,594.4L530,594.4L530.25,593.8L530.3,593.7L530.5,593.0L530.7,590.7L530.75,589.6L531,574.0L531.2,547.9L531.25,540.9L531.4,521.6L531.5,510.7L531.55,505.9L531.7,494.4L531.75,491.5L531.8,489.0L531.85,486.7L531.9,484.5L531.94,482.1L531.97,479.7L532,478.4L532.03,479.7L532.06,482.1L532.1,484.5L532.15,486.7L532.2,489.0L532.25,491.5L532.3,494.4L532.45,505.9L532.5,510.7L532.6,521.6L532.75,540.9L532.8,547.9L533,574.5L533.25,590.2L533.3,591.1L533.5,593.0L533.7,593.9L533.75,594.1L534,594.8L534.25,594.7L534.5,594.6L534.75,594.3L535,593.9L535.25,594.9L535.5,595.9L535.75,596.0L536,596.0L536.25,597.2L536.5,598.3L536.75,596.7L537,595.0L537.1,595.8L537.25,596.9L537.5,598.7L537.75,598.4L537.8,598.3L538,597.7L538.2,596.2L538.25,595.7L538.35,594.4L538.5,592.1L538.6,591.1L538.65,590.6L538.7,590.0L538.74,589.3L538.75,589.1L538.77,588.6L538.8,588.2L538.83,588.7L538.86,589.6L538.9,590.4L538.95,591.2L539,591.9L539.1,593.0L539.25,594.7L539.4,595.8L539.5,596.2L539.6,596.8L539.75,597.3L539.8,597.4L540,597.8L540.1,597.5L540.25,597.1L540.5,596.4L540.75,596.8L541,597.2L541.25,596.6L541.5,596.1L541.75,595.8L542,595.4L542.25,596.0L542.5,596.5L542.75,596.2L543,596.0L543.25,596.4L543.5,596.8L543.75,596.9L544,596.9L544.25,595.9L544.5,594.8L544.75,594.1L544.9,592.9L545,590.7L545.2,576.8L545.25,571.0L545.4,550.4L545.5,536.6L545.6,524.1L545.75,508.4L545.9,496.9L546,491.5L546.05,489.2L546.1,487.0L546.14,484.6L546.17,482.2L546.2,480.9L546.23,482.2L546.25,483.8L546.26,484.6L546.3,487.0L546.35,489.2L546.4,491.5L546.5,496.9L546.65,508.4L546.75,518.4L546.8,524.1L547,550.4L547.2,576.7L547.25,581.6L547.5,592.6L547.75,593.8L547.9,593.9L548,593.9L548.25,593.8L548.5,593.6L548.75,594.6L549,595.5L549.25,595.8L549.5,596.1L549.75,596.7L550,597.2L550.25,597.1L550.5,597.0L550.75,597.1L551,597.3L551.25,596.8L551.5,596.2L551.6,596.4L551.75,596.6L552,596.9L552.25,596.2L552.3,596.0L552.5,594.9L552.7,593.4L552.75,592.7L552.85,590.9L553,587.9L553.1,585.9L553.15,585.0L553.2,584.0L553.24,582.9L553.25,582.6L553.27,581.8L553.3,581.1L553.33,581.8L553.36,582.9L553.4,584.1L553.45,585.1L553.5,586.0L553.6,588.2L553.75,591.9L553.9,595.0L554,596.5L554.1,596.9L554.25,596.7L554.3,596.5L554.5,595.7L554.6,595.4L554.75,594.9L555,594.2L555.25,595.4L555.5,596.6L555.75,595.5L556,594.4L556.25,594.7L556.5,595.0L556.75,595.0L557,594.9L557.25,594.7L557.5,594.4L557.75,595.4L558,596.3L558.25,595.8L558.5,595.2L558.7,594.4L558.75,594.2L559,592.8L559.1,591.9L559.25,587.5L559.4,575.2L559.5,562.4L559.6,548.1L559.75,527.7L559.8,521.6L559.95,505.9L560,501.6L560.1,494.4L560.2,489.0L560.25,486.7L560.3,484.5L560.34,482.1L560.37,479.7L560.4,478.4L560.43,479.7L560.46,482.1L560.5,484.5L560.55,486.7L560.6,489.0L560.7,494.4L560.75,497.8L560.85,505.9L561,521.6L561.2,548.2L561.25,555.3L561.4,575.3L561.5,584.7L561.7,592.6L561.75,593.3L562,594.8L562.1,595.1L562.25,595.5L562.5,596.0L562.75,596.6L563,597.2L563.25,596.8L563.5,596.4L563.75,596.9L564,597.3L564.25,597.6L564.5,597.9L564.75,598.9L565,599.8L565.25,599.1L565.5,598.5L565.75,596.7L566,594.9L566.25,596.1L566.4,596.8L566.5,597.2L566.7,597.2L566.75,597.2L566.9,596.9L567,596.4L567.1,595.7L567.25,594.0L567.4,591.7L567.5,590.3L567.55,589.6L567.6,588.9L567.64,588.0L567.67,587.1L567.7,586.6L567.73,587.2L567.75,587.9L567.76,588.2L567.8,589.2L567.85,590.1L567.9,590.9L568,592.7L568.15,595.0L568.25,596.3L568.3,596.9L568.5,597.9L568.7,597.2L568.75,596.9L569,595.5L569.25,596.8L569.4,597.5L569.5,598.0L569.75,597.9L570,597.8L570.25,597.9L570.5,598.0L570.75,598.5L571,598.9L571.25,597.7L571.5,596.5L571.75,597.5L572,598.4L572.25,597.1L572.5,595.7L572.75,596.3L573,596.9L573.25,596.7L573.3,596.7L573.5,596.4L573.7,595.9L573.75,595.3L574,582.9L574.2,557.7L574.25,550.9L574.4,531.9L574.5,521.0L574.55,516.3L574.7,504.8L574.75,501.9L574.8,499.4L574.85,497.2L574.9,494.9L574.94,492.5L574.97,490.2L575,488.9L575.03,490.2L575.06,492.5L575.1,494.9L575.15,497.2L575.2,499.4L575.25,501.9L575.3,504.9L575.45,516.3L575.5,521.1L575.6,531.9L575.75,550.8L575.8,557.6L576,581.6L576.25,594.6L576.3,595.5L576.5,597.4L576.7,597.1L576.75,596.9L577,596.2L577.25,596.4L577.5,596.4L577.75,597.6L578,598.8L578.25,598.4L578.5,598.1L578.75,598.7L579,599.3L579.25,598.3L579.5,597.3L579.75,598.9L580,600.5L580.25,599.5L580.4,599.0L580.5,598.6L580.75,599.4L580.8,599.6L581,600.2L581.1,599.9L581.25,599.3L581.3,599.1L581.5,597.9L581.65,596.8L581.75,596.0L581.8,595.5L581.9,594.6L581.95,594.2L582,593.7L582.04,593.3L582.07,592.8L582.1,592.5L582.13,592.9L582.16,593.5L582.2,594.2L582.25,594.7L582.3,595.3L582.4,596.4L582.5,597.6L582.55,598.1L582.7,599.3L582.75,599.6L582.9,600.3L583,600.5L583.1,600.9L583.25,601.4L583.4,601.9L583.5,602.2L583.75,601.8L583.8,601.7L584,601.3L584.25,601.6L584.5,601.9L584.75,602.0L585,602.1L585.25,603.4L585.5,604.7L585.75,602.8L586,601.0L586.25,602.0L586.5,603.0L586.75,602.3L587,601.6L587.25,601.8L587.5,601.9L587.7,601.5L587.75,601.4L588,600.8L588.1,600.8L588.25,599.9L588.4,595.2L588.5,588.2L588.6,578.0L588.75,560.6L588.8,555.1L588.95,540.2L589,536.0L589.1,529.0L589.2,523.7L589.25,521.5L589.3,519.3L589.34,516.9L589.37,514.6L589.4,513.3L589.43,514.6L589.46,516.9L589.5,519.3L589.55,521.5L589.6,523.7L589.7,529.0L589.75,532.3L589.85,540.2L590,555.1L590.2,577.7L590.25,582.8L590.4,594.2L590.5,597.9L590.7,601.0L590.75,601.3L591,602.6L591.1,602.7L591.25,602.9L591.5,603.1L591.75,602.4L592,601.7L592.25,602.5L592.5,603.3L592.75,602.7L593,602.1L593.25,602.4L593.5,602.7L593.75,602.8L594,602.9L594.25,603.8L594.5,604.7L594.75,603.9L595,603.0L595.25,602.6L595.4,602.4L595.5,602.2L595.7,602.2L595.75,602.2L595.9,602.1L596,602.0L596.1,602.1L596.25,602.0L596.4,601.6L596.5,601.3L596.55,600.7L596.6,600.1L596.64,599.5L596.67,598.9L596.7,598.5L596.73,598.7L596.75,598.9L596.76,599.0L596.8,599.2L596.85,599.3L596.9,599.4L597,599.5L597.15,600.8L597.25,601.5L597.3,601.8L597.5,602.8L597.7,603.0L597.75,603.0L598,603.1L598.25,602.1L598.4,601.5L598.5,601.2L598.75,602.1L599,603.1L599.25,603.9L599.5,604.6L599.75,604.2L600,603.8L600.25,603.2L600.5,602.6L600.75,603.4L601,604.1L601.25,604.0L601.5,603.9L601.75,604.6L602,605.2L602.1,604.7L602.25,603.9L602.5,602.4L602.75,602.0L602.8,601.6L603,597.4L603.2,586.9L603.25,583.6L603.35,576.8L603.5,567.8L603.6,563.3L603.65,561.3L603.7,559.3L603.74,557.2L603.75,556.5L603.77,555.1L603.8,553.9L603.83,555.1L603.86,557.2L603.9,559.3L603.95,561.3L604,563.2L604.1,567.8L604.25,576.8L604.4,587.0L604.5,593.1L604.6,597.6L604.75,601.3L604.8,601.9L605,602.7L605.1,602.7L605.25,602.5L605.5,602.3L605.75,601.8L606,601.4L606.25,601.9L606.5,602.3L606.75,601.9L607,601.5L607.25,601.6L607.5,601.8L607.75,602.0L608,602.2L608.25,602.7L608.5,603.2L608.75,603.3L609,603.5L609.25,602.6L609.5,601.7L609.75,602.4L610,603.0L610.25,603.3L610.5,603.6L610.75,603.2L611,602.8L611.25,602.1L611.5,601.3L611.75,601.1L612,600.9L612.25,602.4L612.5,603.8L612.75,603.9L613,604.0L613.25,603.7L613.5,603.5L613.75,602.8L614,602.2L614.25,603.5L614.5,604.7L614.75,604.6L615,604.5L615.25,604.0L615.5,603.4L615.75,603.3L616,603.3L616.25,602.5L616.5,601.7L616.75,603.0L616.9,603.8L617,604.3L617.25,603.2L617.3,603.0L617.5,602.0L617.6,602.3L617.75,602.3L617.8,602.1L618,599.1L618.15,594.3L618.25,590.7L618.3,589.0L618.4,586.0L618.45,584.6L618.5,583.2L618.54,581.6L618.57,580.0L618.6,579.1L618.63,580.0L618.66,581.6L618.7,583.1L618.75,584.5L618.8,585.9L618.9,588.8L619,592.2L619.05,594.1L619.2,599.2L619.25,600.6L619.4,603.6L619.5,604.7L619.6,604.8L619.75,604.5L619.9,604.0L620,603.6L620.25,604.1L620.3,604.2L620.5,604.6L620.75,604.7L621,604.9L621.25,604.6L621.5,604.4L621.75,604.1L622,603.8L622.25,604.7L622.5,605.5L622.75,605.1L623,604.8L623.25,604.5L623.5,604.2L623.75,604.3L624,604.3L624.25,604.5L624.5,604.7L624.75,605.7L625,606.8L625.25,605.7L625.5,604.6L625.75,604.3L626,604.1L626.25,603.6L626.5,603.2L626.75,603.1L627,602.9L627.25,602.5L627.5,602.1L627.75,603.1L628,604.1L628.25,604.0L628.5,603.8L628.75,603.2L629,602.7L629.25,602.4L629.5,602.1L629.75,602.6L630,603.1L630.25,603.0L630.5,602.8L630.75,602.3L631,601.9L631.25,602.5L631.5,603.1L631.7,602.8L631.75,602.8L632,602.5L632.1,602.4L632.25,602.2L632.4,601.9L632.5,601.7L632.6,601.5L632.75,600.9L632.8,600.5L632.95,598.9L633,598.2L633.1,596.4L633.2,594.7L633.25,594.0L633.3,593.1L633.34,592.2L633.37,591.3L633.4,590.7L633.43,591.2L633.46,591.9L633.5,592.6L633.55,593.4L633.6,594.2L633.7,595.8L633.75,596.6L633.85,598.3L634,600.4L634.2,600.5L634.25,600.3L634.4,599.7L634.5,599.2L634.7,599.6L634.75,599.8L635,600.3L635.1,600.2L635.25,600.1L635.5,600.0L635.75,599.3L636,598.7L636.25,598.8L636.5,598.9L636.75,597.7L637,596.6L637.25,596.2L637.5,595.8L637.75,596.1L638,596.4L638.25,595.9L638.5,595.3L638.75,595.6L639,596.0L639.25,595.4L639.5,594.8L639.75,594.7L640,594.7L640.25,594.3L640.5,593.9L640.75,593.5L641,593.2L641.25,592.9L641.5,592.6L641.75,592.2L642,591.7L642.25,591.4L642.5,591.1L642.75,592.1L643,593.0L643.25,590.9L643.5,588.8L643.75,589.3L644,589.9L644.25,590.2L644.5,590.5L644.75,590.0L645,589.5L645.25,589.7L645.5,589.9L645.75,589.3L646,588.6L646.25,587.5L646.5,586.3L646.75,586.5L647,586.7L647.25,586.0L647.5,585.2L647.75,586.2L648,587.2L648.25,587.3L648.5,587.4L648.75,586.3L649,585.3L649.25,585.6L649.5,586.0L649.75,585.4L650,584.8L650.25,584.1L650.5,583.5L650.75,583.9L651,584.2L651.25,583.5L651.5,582.8L651.75,583.2L652,583.6L652.25,583.8L652.5,584.1L652.75,584.2L653,584.3L653.25,584.5L653.5,584.6L653.75,583.7L654,582.8L654.25,582.9L654.5,583.1L654.75,583.0L655,583.0L655.25,582.9L655.5,582.9L655.75,581.1L656,579.3L656.25,580.2L656.5,581.1L656.75,581.7L657,582.4L657.25,581.3L657.5,580.2L657.75,580.8L658,581.3L658.25,581.5L658.5,581.7L658.75,580.2L659,578.7L659.25,579.5L659.5,580.2L659.75,580.3L660,580.4L660.25,580.1L660.5,579.9L660.75,579.0L661,578.1L661.25,578.9L661.5,579.7L661.75,579.2L662,578.6L662.25,579.2L662.5,579.7L662.75,579.4L663,579.0L663.25,578.4L663.5,577.8L663.75,578.0L664,578.2L664.25,577.6L664.5,577.0L664.75,576.9L665,576.7L665.25,576.2L665.5,575.6L665.75,576.1L666,576.6L666.25,577.0L666.5,577.4L666.75,576.9L667,576.4L667.25,576.2L667.5,576.0L667.75,575.5L668,575.1L668.25,575.0L668.5,574.9L668.75,575.4L669,575.9L669.25,574.6L669.5,573.4L669.75,575.0L670,576.6L670.25,575.4L670.5,574.2L670.75,575.2L671,576.1L671.25,575.5L671.5,574.9L671.75,573.9L672,573.0L672.25,573.4L672.5,573.9L672.75,573.5L673,573.1L673.25,573.1L673.5,573.1L673.75,573.2L674,573.3L674.25,572.6L674.5,571.9L674.75,571.8L675,571.7L675.25,571.8L675.5,571.8L675.75,571.3L676,570.8L676.25,571.3L676.5,571.8L676.75,572.0L677,572.2L677.25,572.1L677.5,572.1L677.75,572.0L678,571.9L678.25,571.6L678.5,571.2L678.75,571.8L679,572.3L679.25,570.8L679.5,569.4L679.75,570.1L680,570.9L680.25,570.9L680.5,570.9L680.75,571.4L681,572.0L681.25,571.8L681.5,571.7L681.75,571.7L682,571.7L682.25,571.2L682.5,570.8L682.75,571.2L683,571.6L683.25,570.6L683.5,569.6" fill="none" stroke="#0870be" stroke-width="2.6" stroke-linejoin="round" clip-path="url(#cp1)"/><line x1="98.0" y1="334.76" x2="108.3" y2="334.76" stroke="#111" stroke-width="1.15"/><text transform="translate(85.4 343.2) scale(1.12 1)" text-anchor="end" font-size="21.3">20</text><line x1="98.0" y1="382.48" x2="108.3" y2="382.48" stroke="#111" stroke-width="1.15"/><text transform="translate(85.4 390.9) scale(1.12 1)" text-anchor="end" font-size="21.3">10</text><line x1="98.0" y1="430.20" x2="108.3" y2="430.20" stroke="#111" stroke-width="1.15"/><text transform="translate(85.4 438.6) scale(1.12 1)" text-anchor="end" font-size="21.3">0</text><line x1="98.0" y1="477.92" x2="108.3" y2="477.92" stroke="#111" stroke-width="1.15"/><text transform="translate(85.4 486.3) scale(1.12 1)" text-anchor="end" font-size="21.3">10</text><text transform="translate(50.0 486.3) scale(0.88 1)" font-size="21.3">−</text><line x1="98.0" y1="525.64" x2="108.3" y2="525.64" stroke="#111" stroke-width="1.15"/><text transform="translate(85.4 534.0) scale(1.12 1)" text-anchor="end" font-size="21.3">20</text><text transform="translate(47.1 534.0) scale(0.88 1)" font-size="21.3">−</text><line x1="98.0" y1="573.36" x2="108.3" y2="573.36" stroke="#111" stroke-width="1.15"/><text transform="translate(85.4 581.8) scale(1.12 1)" text-anchor="end" font-size="21.3">30</text><text transform="translate(47.1 581.8) scale(0.88 1)" font-size="21.3">−</text><line x1="119.10" y1="608.7" x2="119.10" y2="598.4" stroke="#111" stroke-width="1.15"/><line x1="205.94" y1="608.7" x2="205.94" y2="598.4" stroke="#111" stroke-width="1.15"/><line x1="292.78" y1="608.7" x2="292.78" y2="598.4" stroke="#111" stroke-width="1.15"/><line x1="379.62" y1="608.7" x2="379.62" y2="598.4" stroke="#111" stroke-width="1.15"/><line x1="466.46" y1="608.7" x2="466.46" y2="598.4" stroke="#111" stroke-width="1.15"/><line x1="553.30" y1="608.7" x2="553.30" y2="598.4" stroke="#111" stroke-width="1.15"/><line x1="640.14" y1="608.7" x2="640.14" y2="598.4" stroke="#111" stroke-width="1.15"/><line x1="98.0" y1="477.92" x2="683.5" y2="477.92" stroke="#e5202a" stroke-width="2" stroke-dasharray="4.25 3.07"/><text x="115.2" y="467.5" font-size="25" fill="#e5202a">100 µW</text><rect x="98.0" y="329.8" width="585.5" height="278.9" fill="none" stroke="#000" stroke-width="1.15"/><text transform="translate(20.9 474.4) rotate(-90)" text-anchor="middle" font-size="25.35">Power (dBm)</text><text x="0.8" y="330.3" font-size="34.5" font-weight="bold" stroke="#000" stroke-width="1.3">b</text><path d="M98,905.1L98.25,902.9L98.5,900.6L98.75,902.2L99,903.7L99.25,903.3L99.5,902.9L99.75,903.0L100,903.1L100.25,903.3L100.5,903.5L100.75,902.6L101,901.8L101.25,902.7L101.5,903.7L101.75,903.4L102,903.2L102.25,905.3L102.5,907.5L102.75,906.0L103,904.5L103.25,904.3L103.5,904.1L103.75,904.2L104,904.3L104.25,904.1L104.5,904.0L104.75,903.9L105,903.7L105.25,904.1L105.5,904.5L105.75,905.0L106,905.5L106.25,905.2L106.5,904.9L106.75,905.6L107,906.1L107.25,905.5L107.5,904.9L107.75,904.9L108,905.0L108.25,905.7L108.5,906.3L108.75,905.8L109,905.2L109.25,904.6L109.5,904.0L109.75,904.1L110,904.2L110.1,904.4L110.25,904.5L110.5,904.8L110.75,905.4L110.8,905.4L111,905.1L111.2,901.8L111.25,900.6L111.35,897.9L111.5,893.6L111.6,891.3L111.65,890.3L111.7,889.2L111.74,887.9L111.75,887.5L111.77,886.6L111.8,885.9L111.83,886.6L111.86,887.9L111.9,889.2L111.95,890.3L112,891.3L112.1,893.7L112.25,897.7L112.4,901.3L112.5,903.0L112.6,903.5L112.75,903.5L112.8,903.4L113,902.8L113.1,902.9L113.25,903.0L113.5,903.2L113.75,903.8L114,904.3L114.25,904.1L114.5,903.9L114.75,903.6L115,903.3L115.25,903.5L115.5,903.7L115.75,901.9L116,900.1L116.25,902.0L116.5,903.8L116.75,902.8L117,901.7L117.25,901.3L117.5,900.9L117.75,901.8L118,902.7L118.25,902.8L118.5,903.0L118.75,902.4L119,901.7L119.25,901.3L119.5,901.0L119.75,901.5L120,901.9L120.25,901.9L120.5,901.8L120.75,902.4L121,903.1L121.25,902.7L121.5,902.4L121.75,902.0L122,901.7L122.25,902.1L122.5,902.5L122.75,901.8L123,901.1L123.25,900.7L123.5,900.3L123.75,901.0L124,901.7L124.25,901.6L124.5,901.6L124.75,901.1L125,900.7L125.25,900.4L125.5,900.0L125.75,900.5L126,900.9L126.25,899.5L126.5,898.1L126.75,899.7L127,901.2L127.25,901.0L127.5,900.9L127.75,899.8L128,898.7L128.25,899.5L128.5,900.3L128.75,899.7L129,899.1L129.25,899.9L129.5,900.8L129.75,899.3L130,897.9L130.25,898.4L130.5,898.9L130.75,899.6L131,900.4L131.25,900.6L131.5,900.8L131.75,899.0L132,897.3L132.25,898.1L132.5,898.9L132.75,899.3L133,899.6L133.25,899.1L133.5,898.6L133.75,899.6L134,900.7L134.25,899.2L134.5,897.8L134.75,898.5L135,899.2L135.25,898.5L135.3,898.3L135.5,897.7L135.7,898.7L135.75,898.9L136,899.8L136.2,897.8L136.25,897.0L136.4,893.3L136.5,889.8L136.55,888.0L136.7,882.5L136.75,880.8L136.8,879.3L136.85,877.9L136.9,876.5L136.94,874.8L136.97,873.2L137,872.3L137.03,873.2L137.06,874.8L137.1,876.3L137.15,877.7L137.2,879.0L137.25,880.4L137.3,881.9L137.45,886.9L137.5,888.5L137.6,892.1L137.75,896.1L137.8,897.1L138,899.6L138.25,899.4L138.3,899.3L138.5,898.9L138.7,898.9L138.75,898.9L139,898.8L139.25,899.0L139.5,899.1L139.75,898.7L140,898.2L140.25,897.7L140.5,897.2L140.75,897.0L141,896.9L141.25,896.9L141.5,896.8L141.75,897.8L142,898.9L142.25,897.4L142.5,896.0L142.75,896.4L143,896.8L143.25,896.9L143.5,897.0L143.75,897.3L144,897.5L144.25,897.7L144.5,897.8L144.75,896.9L145,896.0L145.25,895.7L145.5,895.4L145.75,896.3L146,897.1L146.25,897.7L146.5,898.3L146.75,898.0L147,897.8L147.25,897.5L147.5,897.2L147.75,896.9L148,896.6L148.25,896.9L148.5,897.2L148.75,896.9L149,896.6L149.25,897.1L149.5,897.6L149.75,896.7L150,895.9L150.25,896.4L150.5,896.8L150.75,896.6L151,896.5L151.25,896.8L151.5,897.1L151.75,896.9L152,896.7L152.25,897.9L152.5,899.0L152.75,898.4L153,897.9L153.25,897.9L153.5,897.9L153.75,896.1L154,894.3L154.25,895.1L154.5,895.9L154.75,895.8L155,895.6L155.25,896.2L155.5,896.7L155.75,895.3L156,893.9L156.25,895.6L156.5,897.3L156.75,897.2L157,897.1L157.25,895.9L157.5,894.7L157.75,894.9L158,895.0L158.25,895.1L158.5,895.2L158.75,895.6L159,896.0L159.25,896.2L159.5,896.5L159.75,897.2L160,897.9L160.25,896.7L160.5,895.6L160.75,896.0L160.9,896.3L161,896.4L161.2,895.8L161.25,895.5L161.4,893.8L161.5,891.7L161.6,888.8L161.75,882.8L161.9,876.6L162,873.1L162.05,871.4L162.1,869.8L162.14,867.9L162.17,866.2L162.2,865.1L162.23,866.1L162.25,867.3L162.26,867.9L162.3,869.6L162.35,871.3L162.4,872.8L162.5,876.3L162.65,882.8L162.75,887.2L162.8,889.2L163,894.7L163.2,895.5L163.25,895.4L163.5,894.4L163.75,894.9L163.9,895.1L164,895.3L164.25,895.0L164.5,894.6L164.75,895.8L165,896.9L165.25,896.5L165.5,896.0L165.75,895.5L166,894.9L166.25,894.8L166.5,894.7L166.75,895.1L167,895.5L167.25,894.9L167.5,894.3L167.75,894.1L168,893.9L168.25,894.6L168.5,895.2L168.75,896.2L169,897.1L169.25,895.7L169.5,894.3L169.75,894.1L170,893.9L170.25,893.6L170.5,893.2L170.75,893.1L171,893.0L171.25,893.8L171.5,894.7L171.75,894.8L172,895.0L172.25,894.5L172.5,894.0L172.75,894.1L173,894.2L173.25,894.1L173.5,893.9L173.75,893.9L174,893.9L174.25,893.0L174.5,892.1L174.75,892.6L175,893.1L175.25,893.4L175.5,893.7L175.75,893.3L176,892.9L176.25,893.1L176.5,893.3L176.75,893.2L177,893.0L177.25,893.3L177.5,893.6L177.75,894.2L178,894.8L178.25,894.2L178.5,893.6L178.75,893.8L179,893.9L179.25,894.5L179.5,895.0L179.75,894.9L180,894.9L180.25,895.4L180.5,896.0L180.75,894.1L181,892.3L181.25,893.8L181.5,895.3L181.75,894.6L182,894.0L182.25,894.3L182.5,894.7L182.75,895.1L183,895.4L183.25,895.6L183.5,895.7L183.75,895.7L184,895.8L184.25,895.3L184.5,894.9L184.75,895.7L185,896.4L185.25,895.5L185.5,894.5L185.75,894.6L186,894.6L186.1,894.8L186.25,895.0L186.5,895.3L186.75,892.7L186.8,891.5L187,880.8L187.2,863.0L187.25,858.3L187.35,849.5L187.5,838.9L187.6,833.7L187.65,831.6L187.7,829.4L187.74,827.1L187.75,826.3L187.77,824.8L187.8,823.5L187.83,824.8L187.86,827.0L187.9,829.4L187.95,831.6L188,833.7L188.1,838.9L188.25,849.6L188.4,863.3L188.5,873.2L188.6,882.0L188.75,890.8L188.8,892.3L189,894.4L189.1,894.6L189.25,894.7L189.5,894.6L189.75,895.0L190,895.3L190.25,895.6L190.5,896.0L190.75,895.3L191,894.7L191.25,895.2L191.5,895.7L191.75,895.6L192,895.4L192.25,896.2L192.5,897.1L192.75,896.0L193,895.0L193.25,895.9L193.5,896.8L193.75,896.0L194,895.3L194.25,895.2L194.5,895.1L194.75,895.3L195,895.5L195.25,895.3L195.5,895.1L195.75,895.8L196,896.6L196.25,897.1L196.5,897.6L196.75,897.2L197,896.8L197.25,897.1L197.5,897.4L197.75,898.0L198,898.6L198.25,897.9L198.5,897.3L198.75,897.4L199,897.4L199.25,897.2L199.5,897.0L199.75,896.4L200,895.9L200.25,897.1L200.5,898.4L200.75,897.2L201,896.0L201.25,897.3L201.5,898.6L201.75,898.3L202,898.1L202.25,898.7L202.5,899.4L202.75,898.9L203,898.4L203.25,898.1L203.5,897.8L203.75,898.4L204,899.1L204.25,898.7L204.5,898.3L204.75,898.6L205,898.9L205.25,899.1L205.4,899.2L205.5,899.3L205.75,899.2L205.8,899.2L206,899.2L206.1,899.2L206.25,899.2L206.3,899.2L206.5,898.9L206.65,898.3L206.75,897.8L206.8,897.5L206.9,896.9L206.95,896.7L207,896.4L207.04,896.2L207.07,895.9L207.1,895.7L207.13,896.0L207.16,896.3L207.2,896.7L207.25,897.0L207.3,897.3L207.4,897.9L207.5,898.5L207.55,898.5L207.7,898.5L207.75,898.4L207.9,898.1L208,897.8L208.1,898.2L208.25,898.9L208.4,899.5L208.5,899.9L208.75,899.4L208.8,899.3L209,899.0L209.25,900.1L209.5,901.3L209.75,901.4L210,901.5L210.25,900.0L210.5,898.4L210.75,899.5L211,900.4L211.25,900.3L211.5,900.0L211.7,899.6L211.75,899.4L212,898.7L212.1,898.6L212.25,897.1L212.4,891.1L212.5,882.7L212.6,871.3L212.75,853.0L212.8,847.2L212.95,832.0L213,827.8L213.1,820.7L213.2,815.4L213.25,813.2L213.3,810.9L213.34,808.5L213.37,806.2L213.4,804.9L213.43,806.2L213.46,808.5L213.5,810.9L213.55,813.2L213.6,815.4L213.7,820.7L213.75,824.0L213.85,832.0L214,847.2L214.2,871.2L214.25,877.1L214.4,891.0L214.5,896.1L214.7,899.6L214.75,899.9L215,900.6L215.1,900.4L215.25,900.2L215.5,899.7L215.75,900.8L216,901.8L216.25,902.0L216.5,902.1L216.75,901.3L217,900.4L217.25,900.7L217.5,901.0L217.75,901.3L218,901.6L218.25,901.4L218.5,901.2L218.7,902.1L218.75,902.3L219,903.5L219.1,903.2L219.25,902.7L219.4,902.3L219.5,901.9L219.6,901.6L219.75,901.0L219.8,900.7L219.95,899.8L220,899.4L220.1,898.8L220.2,898.3L220.25,898.0L220.3,897.7L220.34,897.4L220.37,897.0L220.4,896.8L220.43,897.0L220.46,897.4L220.5,897.8L220.55,898.2L220.6,898.6L220.7,899.3L220.75,899.7L220.85,900.4L221,901.3L221.2,902.7L221.25,903.0L221.4,903.7L221.5,904.2L221.7,903.3L221.75,903.0L222,901.9L222.1,901.9L222.25,902.0L222.5,902.2L222.75,902.4L223,902.6L223.25,902.4L223.5,902.1L223.75,903.3L224,904.4L224.25,903.1L224.5,901.7L224.7,902.2L224.75,902.3L225,903.0L225.1,902.9L225.25,902.7L225.4,902.5L225.5,902.3L225.6,902.3L225.75,901.9L225.8,901.7L225.95,900.7L226,900.2L226.1,898.9L226.2,897.6L226.25,897.0L226.3,896.4L226.34,895.7L226.37,895.0L226.4,894.5L226.43,894.8L226.46,895.4L226.5,895.8L226.55,896.6L226.6,897.3L226.7,898.7L226.75,899.5L226.85,901.0L227,903.0L227.2,903.1L227.25,903.1L227.4,902.7L227.5,902.3L227.7,902.4L227.75,902.4L228,902.5L228.1,902.3L228.25,902.1L228.5,901.6L228.75,901.7L229,901.8L229.25,902.5L229.5,903.1L229.75,903.4L230,903.6L230.25,903.5L230.5,903.4L230.75,903.6L231,903.9L231.25,903.7L231.5,903.5L231.7,903.2L231.75,903.2L232,902.9L232.1,903.0L232.25,903.3L232.4,903.5L232.5,903.6L232.6,903.5L232.75,902.9L232.8,902.7L232.95,901.4L233,900.9L233.1,899.8L233.2,898.7L233.25,898.2L233.3,897.6L233.34,897.0L233.37,896.3L233.4,895.9L233.43,896.2L233.46,896.9L233.5,897.4L233.55,898.0L233.6,898.6L233.7,899.7L233.75,900.3L233.85,901.5L234,902.9L234.2,904.0L234.25,904.1L234.4,904.4L234.5,904.6L234.7,904.1L234.75,904.0L235,903.5L235.1,903.3L235.25,903.0L235.5,902.5L235.75,902.6L236,902.8L236.25,902.9L236.5,903.0L236.75,901.5L237,900.0L237.25,899.3L237.5,898.5L237.75,897.3L238,895.8L238.2,894.6L238.25,894.2L238.5,891.0L238.6,887.5L238.75,876.4L238.9,855.9L239,839.8L239.1,823.9L239.25,802.5L239.3,796.2L239.45,780.3L239.5,775.9L239.6,768.7L239.7,763.2L239.75,761.0L239.8,758.7L239.84,756.3L239.87,753.9L239.9,752.6L239.93,753.9L239.96,756.3L240,758.7L240.05,761.0L240.1,763.2L240.2,768.7L240.25,772.0L240.35,780.3L240.5,796.2L240.7,823.9L240.75,831.7L240.9,856.1L241,870.7L241.2,887.2L241.25,889.0L241.5,892.8L241.6,893.5L241.75,894.4L242,895.3L242.25,896.5L242.5,897.5L242.75,897.3L243,896.9L243.25,897.6L243.5,898.2L243.75,899.4L244,900.7L244.25,899.7L244.3,899.5L244.5,898.6L244.7,899.7L244.75,900.0L245,901.3L245.2,900.3L245.25,900.0L245.4,898.5L245.5,897.2L245.55,896.6L245.7,894.7L245.75,894.1L245.8,893.5L245.85,892.9L245.9,892.2L245.94,891.4L245.97,890.6L246,890.1L246.03,890.6L246.06,891.5L246.1,892.3L246.15,893.0L246.2,893.6L246.25,894.2L246.3,894.9L246.45,896.9L246.5,897.4L246.6,898.1L246.75,898.5L246.8,898.4L247,897.9L247.25,898.8L247.3,898.9L247.5,899.6L247.7,899.9L247.75,900.0L248,900.4L248.25,899.7L248.5,899.1L248.75,899.0L249,898.9L249.25,899.8L249.5,900.6L249.75,900.1L250,899.6L250.25,899.1L250.5,898.6L250.75,899.1L251,899.6L251.1,899.9L251.25,900.3L251.5,901.1L251.75,900.3L251.8,900.1L252,899.2L252.2,898.3L252.25,897.8L252.35,896.5L252.5,894.2L252.6,892.6L252.65,891.9L252.7,891.0L252.74,890.1L252.75,889.8L252.77,889.1L252.8,888.5L252.83,889.1L252.86,890.2L252.9,891.1L252.95,892.0L253,892.9L253.1,894.3L253.25,896.6L253.4,898.3L253.5,898.9L253.6,899.2L253.75,899.2L253.8,899.1L254,898.7L254.1,898.7L254.25,898.7L254.5,898.6L254.75,899.2L255,899.8L255.25,900.2L255.5,900.6L255.75,900.3L256,900.0L256.25,900.1L256.5,900.3L256.75,899.8L257,899.3L257.25,899.6L257.4,899.8L257.5,899.9L257.75,899.5L257.8,899.5L258,899.1L258.1,899.1L258.25,899.0L258.3,898.9L258.5,898.0L258.65,896.3L258.75,895.0L258.8,894.3L258.9,893.1L258.95,892.4L259,891.8L259.04,891.1L259.07,890.4L259.1,889.9L259.13,890.3L259.16,891.0L259.2,891.7L259.25,892.2L259.3,892.7L259.4,893.8L259.5,894.8L259.55,895.4L259.7,897.0L259.75,897.4L259.9,898.2L260,898.5L260.1,898.4L260.25,898.2L260.4,897.9L260.5,897.7L260.75,897.6L260.8,897.6L261,897.4L261.25,897.9L261.5,898.3L261.75,897.6L262,896.8L262.25,897.5L262.5,898.0L262.75,896.4L263,894.6L263.25,892.8L263.5,890.6L263.7,889.3L263.75,888.8L264,885.3L264.1,881.8L264.25,870.0L264.4,848.8L264.5,832.3L264.6,816.3L264.75,794.8L264.8,788.5L264.95,772.6L265,768.2L265.1,761.0L265.2,755.5L265.25,753.3L265.3,751.0L265.34,748.6L265.37,746.2L265.4,744.9L265.43,746.2L265.46,748.6L265.5,751.0L265.55,753.3L265.6,755.5L265.7,761.0L265.75,764.4L265.85,772.6L266,788.5L266.2,816.3L266.25,824.1L266.4,848.5L266.5,863.1L266.7,880.6L266.75,882.7L267,888.3L267.1,889.2L267.25,890.2L267.5,891.4L267.75,893.3L268,895.1L268.25,895.0L268.5,894.7L268.75,894.9L269,895.0L269.25,896.4L269.5,897.8L269.75,896.9L270,895.8L270.25,896.5L270.5,897.2L270.75,897.8L270.9,898.2L271,898.5L271.2,898.0L271.25,897.8L271.4,897.2L271.5,896.7L271.6,896.1L271.75,894.8L271.9,893.1L272,892.0L272.05,891.5L272.1,890.9L272.14,890.3L272.17,889.6L272.2,889.2L272.23,889.6L272.25,890.1L272.26,890.3L272.3,890.9L272.35,891.5L272.4,892.0L272.5,893.1L272.65,894.9L272.75,895.9L272.8,896.3L273,897.4L273.2,896.9L273.25,896.8L273.5,896.0L273.75,896.6L273.9,897.0L274,897.3L274.25,897.2L274.5,897.2L274.75,898.0L275,898.8L275.25,897.5L275.5,896.2L275.75,895.9L276,895.6L276.25,896.3L276.5,897.1L276.75,896.5L276.8,896.4L277,895.9L277.2,896.1L277.25,896.2L277.5,896.4L277.7,896.0L277.75,895.7L277.9,894.7L278,893.7L278.05,893.1L278.2,891.2L278.25,890.6L278.3,890.0L278.35,889.4L278.4,888.7L278.44,888.0L278.47,887.1L278.5,886.6L278.53,887.1L278.56,887.9L278.6,888.6L278.65,889.2L278.7,889.7L278.75,890.2L278.8,890.8L278.95,892.4L279,892.8L279.1,893.9L279.25,894.9L279.3,895.1L279.5,895.6L279.75,894.4L279.8,894.2L280,893.2L280.2,893.8L280.25,894.0L280.5,894.8L280.75,895.9L281,897.0L281.25,895.9L281.5,894.8L281.75,894.8L282,894.7L282.25,894.5L282.5,894.2L282.75,895.0L283,895.8L283.25,895.6L283.5,895.3L283.7,894.8L283.75,894.6L284,893.9L284.1,894.3L284.25,894.8L284.4,895.2L284.5,895.5L284.6,895.2L284.75,894.4L284.8,894.1L284.95,892.6L285,892.0L285.1,890.9L285.2,889.9L285.25,889.4L285.3,888.8L285.34,888.1L285.37,887.4L285.4,887.0L285.43,887.5L285.46,888.2L285.5,888.9L285.55,889.4L285.6,889.8L285.7,890.7L285.75,891.1L285.85,892.0L286,892.8L286.2,894.4L286.25,894.7L286.4,895.5L286.5,895.9L286.7,895.3L286.75,895.1L287,894.3L287.1,894.1L287.25,893.9L287.5,893.4L287.75,893.0L288,892.6L288.25,892.4L288.5,892.2L288.75,892.3L289,892.3L289.25,891.3L289.5,890.1L289.75,889.8L290,889.2L290.25,887.5L290.4,886.3L290.5,885.3L290.75,881.5L290.8,879.7L291,863.5L291.1,849.0L291.25,824.8L291.3,817.0L291.5,789.3L291.65,773.4L291.75,765.1L291.8,761.8L291.9,756.3L291.95,754.1L292,751.8L292.04,749.4L292.07,747.0L292.1,745.7L292.13,747.0L292.16,749.4L292.2,751.8L292.25,754.1L292.3,756.3L292.4,761.8L292.5,769.0L292.55,773.3L292.7,789.3L292.75,795.6L292.9,816.9L293,832.8L293.1,848.9L293.25,868.8L293.4,879.2L293.5,882.1L293.75,885.0L293.8,885.4L294,886.5L294.25,887.8L294.5,888.8L294.75,889.1L295,889.1L295.25,889.5L295.5,889.8L295.75,889.7L296,889.6L296.1,890.0L296.25,890.7L296.5,891.9L296.75,891.5L296.8,891.4L297,890.8L297.2,890.0L297.25,889.6L297.35,888.8L297.5,887.4L297.6,886.4L297.65,886.0L297.7,885.5L297.74,884.9L297.75,884.7L297.77,884.3L297.8,884.0L297.83,884.3L297.86,884.8L297.9,885.2L297.95,885.6L298,885.9L298.1,886.9L298.25,888.5L298.4,889.7L298.5,890.3L298.6,890.8L298.75,891.4L298.8,891.6L299,892.2L299.1,892.0L299.25,891.8L299.5,891.3L299.75,890.7L300,890.1L300.25,891.1L300.5,892.2L300.75,892.2L301,892.2L301.25,892.0L301.5,891.8L301.75,891.7L302,891.6L302.25,891.8L302.5,891.9L302.75,891.6L303,891.3L303.25,891.4L303.4,891.5L303.5,891.5L303.75,890.7L303.8,890.5L304,889.7L304.1,890.0L304.25,890.3L304.3,890.4L304.5,889.9L304.65,887.7L304.75,886.0L304.8,885.2L304.9,883.5L304.95,882.8L305,882.0L305.04,881.2L305.07,880.5L305.1,880.0L305.13,880.6L305.16,881.4L305.2,882.3L305.25,883.1L305.3,883.9L305.4,885.5L305.5,887.1L305.55,887.5L305.7,888.0L305.75,887.9L305.9,887.4L306,886.7L306.1,887.2L306.25,887.9L306.4,888.6L306.5,889.1L306.75,889.0L306.8,888.9L307,888.9L307.25,888.0L307.5,887.2L307.75,887.3L308,887.5L308.25,887.4L308.5,887.3L308.75,887.0L309,886.7L309.25,885.9L309.5,885.1L309.75,885.1L309.9,885.1L310,885.1L310.25,885.4L310.3,885.5L310.5,885.7L310.6,885.6L310.75,885.4L310.8,885.3L311,884.3L311.15,882.6L311.25,881.3L311.3,880.6L311.4,879.3L311.45,878.7L311.5,878.0L311.54,877.4L311.57,876.7L311.6,876.3L311.63,876.6L311.66,877.3L311.7,877.8L311.75,878.3L311.8,878.7L311.9,879.6L312,880.5L312.05,881.0L312.2,882.0L312.25,882.2L312.4,882.5L312.5,882.6L312.6,882.7L312.75,882.8L312.9,882.9L313,882.9L313.25,881.7L313.3,881.4L313.5,880.4L313.75,879.9L314,879.5L314.25,879.9L314.5,880.2L314.75,879.3L315,878.4L315.25,878.2L315.5,878.0L315.75,877.8L316,877.5L316.25,877.0L316.5,876.2L316.6,875.5L316.75,874.3L317,871.1L317.25,856.3L317.3,850.3L317.5,821.1L317.7,794.0L317.75,788.3L317.85,778.2L318,766.6L318.1,761.2L318.15,758.9L318.2,756.7L318.24,754.3L318.25,753.5L318.27,751.9L318.3,750.6L318.33,751.9L318.36,754.3L318.4,756.7L318.45,758.9L318.5,761.2L318.6,766.6L318.75,778.2L318.9,794.0L319,806.8L319.1,821.0L319.25,843.1L319.3,849.9L319.5,867.6L319.6,871.1L319.75,873.5L320,875.5L320.25,875.9L320.5,875.9L320.75,876.1L321,876.2L321.25,876.3L321.5,876.3L321.75,876.5L322,876.7L322.25,876.2L322.5,875.7L322.75,875.5L323,875.2L323.25,875.4L323.5,875.6L323.75,874.4L324,873.3L324.25,873.0L324.5,872.8L324.75,872.5L325,872.1L325.25,872.6L325.5,873.0L325.75,872.6L326,872.2L326.25,872.0L326.5,871.8L326.75,870.8L327,869.8L327.25,869.4L327.5,869.0L327.75,869.1L328,869.3L328.25,868.3L328.5,867.3L328.75,867.5L329,867.6L329.25,867.1L329.5,866.6L329.75,865.5L330,864.3L330.25,864.2L330.5,864.0L330.75,863.6L331,863.1L331.25,863.5L331.5,864.0L331.75,863.9L332,863.9L332.25,862.1L332.5,860.4L332.75,860.0L333,859.6L333.25,858.0L333.5,856.5L333.75,857.2L334,857.9L334.25,857.4L334.5,856.8L334.75,855.8L335,854.8L335.25,854.4L335.5,853.9L335.75,851.5L336,849.1L336.25,848.4L336.5,847.7L336.75,846.5L337,845.3L337.25,843.3L337.5,841.3L337.75,841.0L338,840.7L338.25,839.4L338.5,838.1L338.75,835.6L339,833.1L339.25,831.7L339.5,830.4L339.75,829.9L340,829.5L340.25,827.9L340.5,826.4L340.75,824.6L341,822.9L341.25,822.1L341.5,821.3L341.75,820.1L342,818.8L342.25,817.4L342.5,816.0L342.75,815.0L343,814.8L343.1,814.3L343.25,813.5L343.5,810.1L343.75,792.1L343.8,785.3L344,754.7L344.2,727.3L344.25,721.5L344.35,711.4L344.5,699.8L344.6,694.4L344.65,692.2L344.7,689.9L344.74,687.5L344.75,686.7L344.77,685.1L344.8,683.8L344.83,685.1L344.86,687.5L344.9,689.9L344.95,692.2L345,694.4L345.1,699.8L345.25,711.4L345.4,727.3L345.5,740.2L345.6,754.8L345.75,778.2L345.8,785.7L346,807.7L346.1,812.4L346.25,815.4L346.5,817.3L346.75,818.0L347,818.2L347.25,820.0L347.5,821.6L347.75,821.9L348,821.8L348.25,822.0L348.5,822.2L348.75,820.9L349,819.6L349.25,819.2L349.5,818.7L349.75,817.9L350,817.2L350.25,817.1L350.5,817.1L350.75,815.6L351,814.2L351.25,813.2L351.5,812.3L351.75,811.8L352,811.4L352.25,810.2L352.5,809.1L352.75,808.7L353,808.2L353.25,806.7L353.5,805.1L353.75,803.8L354,802.4L354.25,801.7L354.5,801.1L354.75,798.4L355,795.8L355.25,794.5L355.5,793.3L355.75,791.6L356,790.0L356.25,789.0L356.5,787.9L356.75,785.5L357,783.0L357.25,781.4L357.5,779.9L357.75,778.4L358,776.9L358.25,775.4L358.5,773.9L358.75,771.8L359,769.7L359.25,767.7L359.5,766.5L359.75,766.7L360,766.9L360.25,767.9L360.5,769.0L360.75,769.8L361,770.6L361.25,770.4L361.5,770.2L361.75,770.5L362,770.8L362.25,770.2L362.5,769.7L362.75,768.3L363,767.0L363.25,766.6L363.5,766.3L363.75,765.7L364,765.0L364.25,764.6L364.5,764.3L364.75,763.4L365,762.6L365.25,761.3L365.5,760.1L365.75,760.6L366,761.1L366.25,760.7L366.5,760.4L366.75,758.8L367,757.3L367.25,757.0L367.5,756.8L367.75,756.1L368,755.5L368.25,755.2L368.5,754.8L368.75,753.1L369,751.4L369.25,752.4L369.5,753.3L369.75,751.7L370,746.9L370.25,743.3L370.5,739.9L370.7,735.8L370.75,734.8L371,727.4L371.1,724.5L371.25,719.9L371.4,714.9L371.5,711.0L371.6,706.8L371.75,699.1L371.8,696.2L371.95,687.4L372,684.6L372.1,679.6L372.2,675.4L372.25,673.6L372.3,671.7L372.34,670.2L372.37,668.7L372.4,667.8L372.43,668.8L372.46,670.3L372.5,671.9L372.55,673.2L372.6,674.3L372.7,676.9L372.75,678.2L372.85,681.0L373,684.3L373.2,687.6L373.25,688.0L373.4,688.7L373.5,689.0L373.7,688.8L373.75,688.7L374,688.4L374.1,687.8L374.25,688.8L374.5,690.6L374.75,696.5L375,702.5L375.25,704.7L375.5,705.5L375.75,704.1L376,702.8L376.25,703.2L376.5,703.6L376.75,700.8L377,697.9L377.25,698.0L377.5,698.2L377.75,699.2L378,700.3L378.25,700.4L378.5,700.5L378.75,698.2L379,695.8L379.25,695.6L379.5,695.3L379.75,698.5L380,701.6L380.25,704.6L380.5,707.5L380.75,705.5L381,702.5L381.25,701.3L381.5,700.1L381.75,699.5L382,698.9L382.25,695.9L382.5,693.0L382.75,692.6L383,692.3L383.25,691.4L383.5,690.6L383.75,688.8L384,687.0L384.25,685.5L384.5,685.1L384.75,685.3L385,685.5L385.25,687.9L385.5,690.2L385.75,690.5L386,690.8L386.25,693.7L386.5,696.7L386.75,699.2L387,701.6L387.25,697.3L387.5,692.9L387.75,690.4L388,687.8L388.25,688.5L388.5,689.2L388.75,688.9L389,691.2L389.25,694.0L389.5,696.8L389.75,699.0L390,701.2L390.25,701.4L390.5,698.1L390.75,695.8L391,693.5L391.25,693.2L391.5,692.9L391.75,688.2L392,683.6L392.25,685.3L392.5,688.4L392.75,687.9L393,687.4L393.25,689.3L393.5,691.1L393.75,691.9L394,692.7L394.25,693.7L394.5,694.6L394.75,695.8L395,698.3L395.25,699.0L395.5,699.6L395.75,703.4L396,707.1L396.25,709.3L396.5,711.5L396.75,714.2L397,717.0L397.25,720.3L397.5,719.4L397.75,715.0L398,710.6L398.1,709.3L398.25,707.3L398.5,703.9L398.75,700.8L398.8,700.1L399,696.3L399.2,690.4L399.25,688.5L399.35,684.4L399.5,678.3L399.6,675.0L399.65,673.6L399.7,672.1L399.74,670.5L399.75,669.9L399.77,668.9L399.8,667.9L399.83,668.8L399.86,670.4L399.9,671.9L399.95,673.4L400,674.7L400.1,677.3L400.25,681.4L400.4,684.8L400.5,686.0L400.6,687.9L400.75,689.8L400.8,690.3L401,691.9L401.1,691.6L401.25,691.0L401.5,690.0L401.75,689.4L402,688.7L402.25,687.5L402.5,686.3L402.75,687.9L403,689.5L403.25,690.0L403.5,690.5L403.75,688.0L404,685.6L404.25,688.6L404.5,691.6L404.75,692.1L405,692.6L405.25,694.2L405.5,695.9L405.75,699.1L406,702.2L406.25,707.1L406.5,712.1L406.75,713.9L407,715.7L407.25,716.6L407.5,717.4L407.75,721.8L408,726.6L408.25,730.3L408.5,734.1L408.75,738.0L409,741.9L409.25,743.9L409.5,746.0L409.75,752.5L410,758.8L410.25,760.8L410.5,762.3L410.75,765.4L411,768.4L411.25,770.7L411.5,773.0L411.75,776.1L412,779.0L412.25,780.9L412.5,782.9L412.75,784.9L413,786.2L413.25,788.4L413.5,790.6L413.75,792.6L414,794.6L414.25,795.2L414.5,795.9L414.75,798.3L415,800.7L415.25,801.7L415.5,802.6L415.75,803.8L416,804.9L416.25,807.5L416.5,810.1L416.75,810.4L417,810.8L417.25,813.2L417.5,815.7L417.75,816.5L418,817.4L418.25,819.5L418.5,821.6L418.75,822.4L419,823.3L419.25,825.1L419.5,827.0L419.75,829.6L420,832.2L420.25,833.4L420.5,834.6L420.75,836.1L421,837.7L421.25,839.1L421.5,840.5L421.75,842.2L422,842.9L422.25,842.2L422.5,841.5L422.75,841.9L423,842.2L423.25,842.8L423.5,843.4L423.75,843.2L424,842.9L424.25,842.9L424.5,843.2L424.75,843.5L425,843.5L425.1,843.3L425.25,842.8L425.5,840.1L425.75,822.9L425.8,816.3L426,786.2L426.2,758.9L426.25,753.1L426.35,743.0L426.5,731.4L426.6,726.0L426.65,723.8L426.7,721.5L426.74,719.1L426.75,718.3L426.77,716.7L426.8,715.4L426.83,716.7L426.86,719.1L426.9,721.5L426.95,723.8L427,726.0L427.1,731.4L427.25,743.0L427.4,758.9L427.5,771.9L427.6,786.4L427.75,809.8L427.8,817.4L428,839.4L428.1,844.2L428.25,847.4L428.5,849.7L428.75,851.1L429,852.1L429.25,853.8L429.5,855.6L429.75,856.4L430,857.0L430.25,859.1L430.5,861.2L430.75,863.2L431,865.1L431.25,866.8L431.5,868.5L431.75,869.5L432,870.5L432.25,870.7L432.5,870.9L432.75,872.5L433,874.1L433.25,874.6L433.5,875.0L433.75,876.7L434,878.4L434.25,879.0L434.5,879.5L434.75,880.6L435,881.5L435.25,882.7L435.5,883.9L435.75,883.6L436,883.2L436.25,884.3L436.5,885.3L436.75,884.7L437,884.1L437.25,884.3L437.5,884.4L437.75,885.6L438,886.8L438.25,887.4L438.5,887.9L438.75,887.2L439,886.5L439.25,887.2L439.5,887.9L439.75,887.6L440,887.1L440.25,887.9L440.5,888.8L440.75,889.5L441,890.3L441.25,890.1L441.5,889.9L441.75,889.9L442,889.9L442.25,889.7L442.5,889.6L442.75,890.6L443,891.7L443.25,892.1L443.5,892.6L443.75,892.7L444,892.8L444.25,892.9L444.5,892.9L444.75,892.4L445,891.9L445.25,893.5L445.5,895.0L445.75,894.3L446,893.6L446.25,893.7L446.5,893.8L446.75,894.3L447,894.8L447.25,893.6L447.5,892.3L447.75,893.3L448,894.3L448.25,894.3L448.5,894.3L448.75,894.4L449,894.6L449.25,894.8L449.5,895.1L449.75,894.5L450,893.8L450.25,892.6L450.5,891.2L450.75,891.3L451,891.1L451.25,890.3L451.5,889.3L451.75,887.7L452,885.7L452.25,882.9L452.5,879.4L452.75,874.7L452.9,868.7L453,860.5L453.2,831.8L453.25,823.3L453.4,798.5L453.5,783.7L453.6,770.6L453.75,754.6L453.9,743.0L454,737.5L454.05,735.3L454.1,733.0L454.14,730.6L454.17,728.3L454.2,726.9L454.23,728.3L454.25,729.8L454.26,730.6L454.3,733.0L454.35,735.3L454.4,737.5L454.5,743.0L454.65,754.6L454.75,764.8L454.8,770.6L455,798.5L455.2,831.8L455.25,840.1L455.5,869.6L455.75,877.5L455.9,879.5L456,880.5L456.25,884.0L456.5,886.9L456.75,889.5L457,891.9L457.25,892.5L457.5,892.9L457.75,893.9L458,894.8L458.25,894.9L458.5,895.0L458.75,896.5L459,897.9L459.25,897.2L459.5,896.5L459.75,897.4L460,898.3L460.25,898.5L460.5,898.7L460.75,898.3L461,898.0L461.25,899.0L461.5,900.1L461.75,899.2L462,898.3L462.25,898.7L462.5,899.2L462.75,899.6L463,900.1L463.25,900.0L463.5,899.9L463.75,900.4L464,900.9L464.25,901.3L464.5,901.6L464.75,901.1L465,900.6L465.25,900.6L465.5,900.5L465.75,900.6L466,900.7L466.25,900.9L466.5,901.0L466.75,901.6L466.9,902.0L467,902.2L467.25,901.8L467.3,901.7L467.5,901.3L467.6,901.4L467.75,901.2L467.8,901.0L468,899.0L468.15,895.8L468.25,893.3L468.3,892.1L468.4,889.8L468.45,888.7L468.5,887.6L468.54,886.3L468.57,885.1L468.6,884.3L468.63,885.0L468.66,886.3L468.7,887.5L468.75,888.6L468.8,889.5L468.9,891.7L469,894.1L469.05,895.4L469.2,898.9L469.25,899.9L469.4,901.9L469.5,902.7L469.6,902.6L469.75,902.3L469.9,901.8L470,901.5L470.25,902.1L470.3,902.2L470.5,902.6L470.75,903.4L471,904.2L471.25,903.0L471.5,901.9L471.75,902.4L472,903.0L472.25,902.3L472.5,901.7L472.75,902.2L473,902.7L473.25,902.3L473.3,902.2L473.5,901.8L473.7,902.3L473.75,902.4L474,903.0L474.2,902.7L474.25,902.6L474.4,901.8L474.5,900.9L474.55,900.5L474.7,898.9L474.75,898.3L474.8,897.8L474.85,897.3L474.9,896.7L474.94,896.1L474.97,895.3L475,894.9L475.03,895.4L475.06,896.2L475.1,897.0L475.15,897.8L475.2,898.4L475.25,899.1L475.3,899.9L475.45,902.1L475.5,902.8L475.6,903.5L475.75,904.0L475.8,904.1L476,903.9L476.25,904.0L476.3,904.0L476.5,904.1L476.7,903.7L476.75,903.6L477,903.2L477.25,902.9L477.5,902.6L477.75,902.1L478,901.5L478.25,900.8L478.5,900.0L478.75,900.2L479,900.3L479.25,900.0L479.5,899.6L479.75,897.9L480,896.0L480.25,893.8L480.5,891.1L480.7,889.1L480.75,888.4L481,883.4L481.1,878.8L481.25,864.7L481.4,841.8L481.5,824.8L481.6,808.6L481.75,787.0L481.8,780.7L481.95,764.7L482,760.3L482.1,753.1L482.2,747.6L482.25,745.4L482.3,743.1L482.34,740.7L482.37,738.4L482.4,737.0L482.43,738.4L482.46,740.7L482.5,743.1L482.55,745.4L482.6,747.6L482.7,753.1L482.75,756.5L482.85,764.7L483,780.7L483.2,808.6L483.25,816.6L483.4,841.8L483.5,857.8L483.7,878.8L483.75,881.4L484,888.4L484.1,889.8L484.25,891.6L484.5,893.7L484.75,895.6L485,896.9L485.25,898.4L485.5,899.6L485.75,900.7L486,901.6L486.25,901.7L486.5,901.6L486.75,902.8L487,903.9L487.25,904.5L487.5,905.1L487.75,905.2L488,905.2L488.25,905.5L488.4,905.7L488.5,905.8L488.7,905.3L488.75,905.1L488.9,904.4L489,903.8L489.1,903.3L489.25,902.1L489.4,900.5L489.5,899.5L489.55,899.3L489.6,899.0L489.64,898.6L489.67,898.1L489.7,897.8L489.73,898.3L489.75,898.8L489.76,899.1L489.8,899.9L489.85,900.6L489.9,901.3L490,902.8L490.15,904.3L490.25,905.2L490.3,905.5L490.5,906.2L490.7,905.4L490.75,905.2L491,903.9L491.25,904.7L491.4,905.2L491.5,905.5L491.75,905.4L492,905.3L492.25,905.6L492.5,905.8L492.75,905.7L493,905.5L493.25,905.1L493.5,904.8L493.75,905.1L494,905.4L494.25,905.4L494.5,905.4L494.75,905.3L494.8,905.2L495,905.1L495.2,904.4L495.25,904.2L495.5,903.2L495.7,902.2L495.75,901.8L495.9,899.8L496,897.9L496.05,897.0L496.2,894.1L496.25,893.2L496.3,892.3L496.35,891.4L496.4,890.5L496.44,889.4L496.47,888.2L496.5,887.5L496.53,888.3L496.56,889.5L496.6,890.6L496.65,891.7L496.7,892.6L496.75,893.6L496.8,894.7L496.95,898.0L497,899.0L497.1,901.2L497.25,903.5L497.3,904.0L497.5,905.4L497.75,905.8L497.8,905.8L498,906.0L498.2,905.9L498.25,905.8L498.5,905.6L498.75,905.3L499,905.0L499.25,905.2L499.5,905.5L499.75,906.0L500,906.6L500.25,905.6L500.5,904.7L500.75,905.5L501,906.3L501.25,906.2L501.5,906.1L501.75,905.9L502,905.6L502.1,905.9L502.25,906.2L502.5,906.8L502.75,905.7L502.8,905.5L503,904.4L503.2,904.5L503.25,904.4L503.35,904.0L503.5,903.2L503.6,902.0L503.65,901.4L503.7,900.8L503.74,900.2L503.75,900.0L503.77,899.6L503.8,899.2L503.83,899.4L503.86,899.8L503.9,900.2L503.95,900.5L504,900.7L504.1,901.5L504.25,902.7L504.4,903.7L504.5,904.1L504.6,904.2L504.75,904.2L504.8,904.2L505,904.1L505.1,904.4L505.25,904.8L505.5,905.5L505.75,904.8L506,904.1L506.25,904.5L506.5,904.9L506.75,904.2L507,903.5L507.25,904.5L507.5,905.4L507.75,905.6L508,905.7L508.25,904.7L508.5,903.5L508.75,903.6L508.9,903.5L509,903.4L509.25,901.1L509.3,900.2L509.5,890.5L509.6,880.0L509.75,858.9L509.8,851.5L510,824.6L510.15,808.8L510.25,800.6L510.3,797.2L510.4,791.8L510.45,789.5L510.5,787.3L510.54,784.9L510.57,782.5L510.6,781.2L510.63,782.5L510.66,784.9L510.7,787.3L510.75,789.5L510.8,791.8L510.9,797.2L511,804.4L511.05,808.7L511.2,824.5L511.25,830.7L511.4,851.5L511.5,866.3L511.6,880.1L511.75,894.2L511.9,899.5L512,900.5L512.25,901.4L512.3,901.5L512.5,901.7L512.75,902.3L513,902.8L513.25,902.6L513.5,902.3L513.75,903.1L514,903.9L514.25,903.5L514.5,903.1L514.75,904.5L515,905.8L515.25,905.4L515.5,905.0L515.75,903.9L516,902.7L516.25,902.8L516.5,902.8L516.75,903.3L517,903.8L517.25,903.1L517.5,902.4L517.75,903.3L518,904.2L518.25,904.3L518.5,904.4L518.75,904.1L519,903.8L519.25,903.9L519.5,904.1L519.75,904.7L520,905.3L520.25,905.8L520.5,906.3L520.75,906.4L521,906.5L521.25,905.8L521.5,905.1L521.75,905.6L522,906.0L522.25,905.3L522.5,904.5L522.75,905.2L523,905.8L523.25,905.1L523.5,904.5L523.75,905.4L524,906.3L524.25,905.4L524.5,904.4L524.75,904.6L525,904.8L525.25,905.3L525.5,905.9L525.75,906.2L526,906.5L526.25,905.6L526.5,904.6L526.75,905.1L527,905.6L527.25,906.0L527.5,906.4L527.75,906.5L528,906.6L528.25,906.1L528.5,905.6L528.75,906.1L529,906.7L529.25,906.5L529.5,906.4L529.75,907.2L530,908.1L530.25,907.7L530.5,907.3L530.75,906.3L531,905.4L531.25,904.9L531.5,904.5L531.75,905.7L532,906.9L532.25,907.5L532.5,908.0L532.75,907.5L533,907.0L533.25,907.4L533.5,907.8L533.75,907.1L534,906.4L534.25,905.9L534.5,905.5L534.75,906.6L535,907.7L535.25,907.4L535.5,907.0L535.75,907.3L536,907.6L536.25,906.6L536.5,905.5L536.75,906.3L537,907.0L537.25,906.5L537.3,906.4L537.5,906.0L537.7,906.2L537.75,906.2L538,902.0L538.2,886.9L538.25,881.7L538.4,865.4L538.5,855.4L538.55,850.9L538.7,839.9L538.75,837.1L538.8,834.6L538.85,832.5L538.9,830.2L538.94,827.9L538.97,825.6L539,824.3L539.03,825.6L539.06,827.9L539.1,830.2L539.15,832.5L539.2,834.6L539.25,837.1L539.3,839.9L539.45,850.9L539.5,855.4L539.6,865.4L539.75,881.8L539.8,887.0L540,902.4L540.25,906.9L540.3,907.0L540.5,906.8L540.7,906.7L540.75,906.6L541,906.3L541.25,906.3L541.5,906.2L541.75,906.2L542,906.3L542.25,907.6L542.5,908.9L542.75,907.2L543,905.6L543.25,906.1L543.5,906.6L543.75,907.4L544,908.2L544.25,908.5L544.5,908.8L544.75,908.2L545,907.5L545.25,908.0L545.5,908.5L545.75,908.5L546,908.5L546.25,908.6L546.5,908.7L546.75,908.2L547,907.7L547.25,908.6L547.5,909.4L547.75,908.6L548,907.9L548.25,908.6L548.5,909.3L548.75,907.9L549,906.6L549.25,907.6L549.5,908.7L549.75,907.5L550,906.4L550.25,906.3L550.5,906.1L550.75,907.2L551,908.2L551.25,907.5L551.5,906.9L551.75,907.5L552,908.2L552.25,907.4L552.5,906.6L552.75,908.0L553,909.4L553.25,908.6L553.5,907.7L553.75,907.1L554,906.5L554.25,907.2L554.5,907.9L554.75,908.3L555,908.6L555.25,907.8L555.5,906.9L555.75,907.6L556,908.3L556.25,909.1L556.5,909.9L556.75,909.3L557,908.6L557.25,908.2L557.5,907.7L557.75,907.4L558,907.1L558.25,907.7L558.5,908.3L558.75,907.2L559,906.2L559.25,905.4L559.5,904.6L559.75,905.9L560,907.2L560.25,907.0L560.5,906.8L560.75,908.3L561,909.9L561.25,909.1L561.5,908.3L561.75,907.7L562,907.1L562.25,907.1L562.5,907.0L562.75,907.9L563,908.8L563.25,908.2L563.5,907.5L563.75,907.7L564,907.9L564.25,908.1L564.5,908.4L564.75,908.6L565,908.7L565.25,908.7L565.5,908.8L565.75,908.8L565.8,908.8L566,908.8L566.2,909.3L566.25,909.5L566.5,909.7L566.7,907.8L566.75,906.7L566.9,901.8L567,897.3L567.05,894.7L567.2,887.4L567.25,885.3L567.3,883.4L567.35,881.7L567.4,880.0L567.44,878.1L567.47,876.3L567.5,875.2L567.53,876.3L567.56,878.1L567.6,880.0L567.65,881.8L567.7,883.6L567.75,885.5L567.8,887.6L567.95,895.1L568,897.8L568.1,902.2L568.25,906.8L568.3,907.6L568.5,908.7L568.75,909.8L568.8,909.9L569,910.5L569.2,909.7L569.25,909.5L569.5,908.5L569.75,909.1L570,909.7L570.25,909.6L570.5,909.6L570.75,909.6L571,909.6L571.25,910.0L571.5,910.4L571.75,910.4L572,910.3L572.25,909.5L572.5,908.6L572.75,909.1L573,909.6L573.25,910.1L573.5,910.6L573.75,910.6L574,910.6L574.25,910.1L574.5,909.6L574.75,909.7L575,909.7L575.25,909.8L575.5,909.9L575.75,909.5L576,909.0L576.25,908.9L576.5,908.8L576.75,910.4L577,911.9L577.25,910.9L577.5,909.9L577.75,910.2L578,910.4L578.25,910.0L578.5,909.6L578.75,910.7L579,911.8L579.25,912.1L579.5,912.3L579.75,911.3L580,910.3L580.25,910.7L580.5,911.1L580.75,910.5L581,909.8L581.25,911.2L581.5,912.5L581.75,912.1L582,911.7L582.25,910.8L582.5,909.9L582.75,911.0L583,912.1L583.25,911.7L583.5,911.2L583.75,911.3L584,911.3L584.25,911.3L584.5,911.3L584.75,910.8L585,910.3L585.25,910.4L585.5,910.5L585.75,911.1L586,911.8L586.25,911.4L586.5,911.1L586.75,910.6L587,910.1L587.25,911.7L587.5,913.3L587.75,912.1L588,910.9L588.25,910.8L588.5,910.6L588.75,910.5L589,910.5L589.25,911.2L589.5,912.0L589.75,912.1L590,912.3L590.25,911.9L590.5,911.5L590.75,911.9L591,912.2L591.25,910.9L591.5,909.7L591.75,910.3L592,910.9L592.25,910.9L592.5,910.8L592.75,911.1L593,911.3L593.25,911.6L593.5,911.9L593.75,910.5L594,909.2L594.25,912.0L594.5,914.7L594.7,913.0L594.75,912.6L595,910.5L595.1,910.7L595.25,911.1L595.4,911.4L595.5,911.4L595.6,911.0L595.75,909.6L595.8,908.9L595.95,905.8L596,904.5L596.1,902.0L596.2,899.7L596.25,898.6L596.3,897.5L596.34,896.2L596.37,894.9L596.4,894.1L596.43,894.9L596.46,896.2L596.5,897.5L596.55,898.6L596.6,899.6L596.7,901.9L596.75,903.1L596.85,905.5L597,908.6L597.2,909.6L597.25,909.5L597.4,908.9L597.5,908.3L597.7,909.2L597.75,909.4L598,910.4L598.1,910.8L598.25,911.3L598.5,912.3L598.75,911.5L599,910.6L599.25,910.5L599.5,910.4L599.75,909.8L600,909.1L600.25,911.1L600.5,913.0L600.75,912.7L601,912.3L601.25,911.6L601.5,910.9L601.75,911.3L602,911.8L602.25,911.8L602.5,911.9L602.75,911.4L603,910.9L603.25,911.4L603.5,911.9L603.75,912.2L604,912.5L604.25,912.7L604.5,912.9L604.75,913.3L605,913.7L605.25,913.1L605.5,912.5L605.75,912.2L606,912.0L606.25,912.5L606.5,913.0L606.75,912.5L607,912.0L607.25,911.7L607.5,911.4L607.75,912.7L608,914.0L608.25,913.3L608.5,912.5L608.75,912.8L609,913.1L609.25,913.4L609.5,913.7L609.75,912.8L610,911.9L610.25,912.9L610.5,913.9L610.75,913.8L611,913.7L611.25,913.5L611.5,913.2L611.75,913.5L612,913.8L612.25,913.3L612.5,912.7L612.75,911.9L613,911.2L613.25,912.3L613.5,913.3L613.75,913.0L614,912.7L614.25,913.7L614.5,914.7L614.75,914.3L615,914.0L615.25,913.6L615.5,913.2L615.75,913.5L616,913.8L616.25,914.5L616.5,915.2L616.75,915.1L617,915.0L617.25,914.6L617.5,914.1L617.75,914.2L618,914.2L618.25,913.8L618.5,913.5L618.75,913.5L619,913.6L619.25,914.0L619.5,914.4L619.75,914.0L620,913.6L620.25,913.8L620.5,914.1L620.75,913.3L621,912.6L621.25,912.3L621.5,912.0L621.75,911.9L622,911.9L622.25,912.6L622.5,913.3L622.75,914.2L623,915.2L623.25,915.1L623.5,915.0L623.75,913.9L624,912.7L624.25,912.4L624.5,912.1L624.75,913.3L625,914.6L625.25,914.4L625.5,914.3L625.75,913.3L626,912.3L626.25,913.6L626.5,914.9L626.75,914.4L627,913.9L627.25,914.6L627.5,915.2L627.75,914.7L628,914.1L628.25,914.4L628.5,914.7L628.75,914.4L629,914.1L629.25,913.4L629.5,912.6L629.75,913.0L630,913.3L630.25,913.1L630.5,912.8L630.75,913.5L631,914.3L631.25,913.3L631.5,912.3L631.75,912.0L632,911.6L632.25,912.8L632.5,913.9L632.75,914.2L633,914.4L633.25,914.5L633.5,914.6L633.75,914.4L634,914.2L634.25,912.7L634.5,911.3L634.75,911.7L635,912.1L635.25,912.1L635.5,912.2L635.75,912.4L636,912.7L636.25,911.5L636.5,910.3L636.75,911.4L637,912.5L637.25,912.6L637.5,912.8L637.75,912.1L638,911.4L638.25,911.9L638.5,912.4L638.75,913.0L639,913.5L639.25,912.9L639.5,912.2L639.75,912.7L640,913.2L640.25,913.2L640.5,913.1L640.75,912.7L641,912.4L641.25,912.3L641.5,912.3L641.75,911.8L642,911.4L642.25,912.2L642.5,913.1L642.75,912.1L643,911.1L643.25,911.0L643.5,910.8L643.75,911.6L644,912.3L644.25,911.6L644.5,910.8L644.75,911.4L645,912.0L645.25,912.4L645.5,912.7L645.75,912.2L646,911.7L646.25,911.7L646.5,911.7L646.75,912.1L647,912.6L647.25,912.5L647.5,912.4L647.75,911.2L648,909.9L648.25,910.0L648.5,910.2L648.75,911.6L649,913.0L649.25,912.5L649.5,912.0L649.75,910.7L650,909.3L650.25,909.7L650.5,910.1L650.75,910.9L651,911.6L651.25,911.1L651.5,910.5L651.75,911.3L652,912.1L652.25,911.9L652.5,911.7L652.75,911.9L653,912.1L653.25,911.2L653.5,910.3L653.75,911.3L654,912.3L654.25,913.0L654.5,913.7L654.75,912.2L655,910.7L655.25,911.9L655.5,913.0L655.75,912.8L656,912.7L656.25,912.5L656.5,912.3L656.75,911.9L657,911.5L657.25,910.9L657.5,910.3L657.75,910.5L658,910.6L658.25,911.2L658.5,911.7L658.75,911.4L659,911.2L659.25,910.9L659.5,910.7L659.75,910.2L660,909.7L660.25,909.3L660.5,908.9L660.75,907.8L661,906.8L661.25,906.1L661.5,905.5L661.75,906.1L662,906.6L662.25,906.6L662.5,906.5L662.75,906.1L663,905.7L663.25,904.6L663.5,903.5L663.75,903.8L664,904.2L664.25,903.5L664.5,902.7L664.75,903.4L665,904.1L665.25,903.2L665.5,902.4L665.75,902.6L666,902.9L666.25,903.0L666.5,903.0L666.75,902.7L667,902.4L667.25,902.9L667.5,903.4L667.75,901.8L668,900.2L668.25,899.4L668.5,898.6L668.75,900.2L669,901.7L669.25,901.7L669.5,901.7L669.75,901.5L670,901.4L670.25,900.5L670.5,899.7L670.75,899.6L671,899.6L671.25,899.2L671.5,898.7L671.75,897.7L672,896.8L672.25,897.0L672.5,897.2L672.75,897.5L673,897.9L673.25,897.1L673.5,896.3L673.75,897.5L674,898.7L674.25,896.6L674.5,894.5L674.75,894.9L675,895.3L675.25,895.9L675.5,896.6L675.75,895.4L676,894.3L676.25,893.8L676.5,893.3L676.75,893.0L677,892.7L677.25,892.8L677.5,893.0L677.75,894.1L678,895.1L678.25,894.3L678.5,893.6L678.75,893.4L679,893.3L679.25,892.6L679.5,891.8L679.75,892.4L680,893.0L680.25,892.4L680.5,891.8L680.75,891.1L681,890.4L681.25,890.4L681.5,890.5L681.75,890.7L682,890.9L682.25,891.3L682.5,891.6L682.75,890.8L683,889.9L683.25,890.0L683.5,890.2" fill="none" stroke="#0870be" stroke-width="2.6" stroke-linejoin="round" clip-path="url(#cp2)"/><line x1="98.0" y1="646.96" x2="108.3" y2="646.96" stroke="#111" stroke-width="1.15"/><text transform="translate(85.4 655.4) scale(1.12 1)" text-anchor="end" font-size="21.3">20</text><line x1="98.0" y1="694.68" x2="108.3" y2="694.68" stroke="#111" stroke-width="1.15"/><text transform="translate(85.4 703.1) scale(1.12 1)" text-anchor="end" font-size="21.3">10</text><line x1="98.0" y1="742.40" x2="108.3" y2="742.40" stroke="#111" stroke-width="1.15"/><text transform="translate(85.4 750.8) scale(1.12 1)" text-anchor="end" font-size="21.3">0</text><line x1="98.0" y1="790.12" x2="108.3" y2="790.12" stroke="#111" stroke-width="1.15"/><text transform="translate(85.4 798.5) scale(1.12 1)" text-anchor="end" font-size="21.3">10</text><text transform="translate(50.0 798.5) scale(0.88 1)" font-size="21.3">−</text><line x1="98.0" y1="837.84" x2="108.3" y2="837.84" stroke="#111" stroke-width="1.15"/><text transform="translate(85.4 846.2) scale(1.12 1)" text-anchor="end" font-size="21.3">20</text><text transform="translate(47.1 846.2) scale(0.88 1)" font-size="21.3">−</text><line x1="98.0" y1="885.56" x2="108.3" y2="885.56" stroke="#111" stroke-width="1.15"/><text transform="translate(85.4 894.0) scale(1.12 1)" text-anchor="end" font-size="21.3">30</text><text transform="translate(47.1 894.0) scale(0.88 1)" font-size="21.3">−</text><line x1="119.10" y1="921.5" x2="119.10" y2="911.2" stroke="#111" stroke-width="1.15"/><line x1="205.94" y1="921.5" x2="205.94" y2="911.2" stroke="#111" stroke-width="1.15"/><line x1="292.78" y1="921.5" x2="292.78" y2="911.2" stroke="#111" stroke-width="1.15"/><line x1="379.62" y1="921.5" x2="379.62" y2="911.2" stroke="#111" stroke-width="1.15"/><line x1="466.46" y1="921.5" x2="466.46" y2="911.2" stroke="#111" stroke-width="1.15"/><line x1="553.30" y1="921.5" x2="553.30" y2="911.2" stroke="#111" stroke-width="1.15"/><line x1="640.14" y1="921.5" x2="640.14" y2="911.2" stroke="#111" stroke-width="1.15"/><line x1="98.0" y1="790.12" x2="683.5" y2="790.12" stroke="#e5202a" stroke-width="2" stroke-dasharray="4.25 3.07"/><text x="115.2" y="779.7" font-size="25" fill="#e5202a">100 µW</text><rect x="98.0" y="642.6" width="585.5" height="278.9" fill="none" stroke="#000" stroke-width="1.15"/><text transform="translate(20.9 789.6) rotate(-90)" text-anchor="middle" font-size="25.35">Power (dBm)</text><text x="0.8" y="643.1" font-size="34.5" font-weight="bold" stroke="#000" stroke-width="1.3">c</text><text x="118.7" y="948" text-anchor="middle" font-size="21.3" textLength="56" lengthAdjust="spacingAndGlyphs">1,480</text><text x="205.5" y="948" text-anchor="middle" font-size="21.3" textLength="56" lengthAdjust="spacingAndGlyphs">1,500</text><text x="292.4" y="948" text-anchor="middle" font-size="21.3" textLength="56" lengthAdjust="spacingAndGlyphs">1,520</text><text x="379.2" y="948" text-anchor="middle" font-size="21.3" textLength="56" lengthAdjust="spacingAndGlyphs">1,540</text><text x="466.1" y="948" text-anchor="middle" font-size="21.3" textLength="56" lengthAdjust="spacingAndGlyphs">1,560</text><text x="552.9" y="948" text-anchor="middle" font-size="21.3" textLength="56" lengthAdjust="spacingAndGlyphs">1,580</text><text x="639.7" y="948" text-anchor="middle" font-size="21.3" textLength="56" lengthAdjust="spacingAndGlyphs">1,600</text><text x="390.2" y="986.5" text-anchor="middle" font-size="25.9">Wavelength (nm)</text></svg>
</body></html>
